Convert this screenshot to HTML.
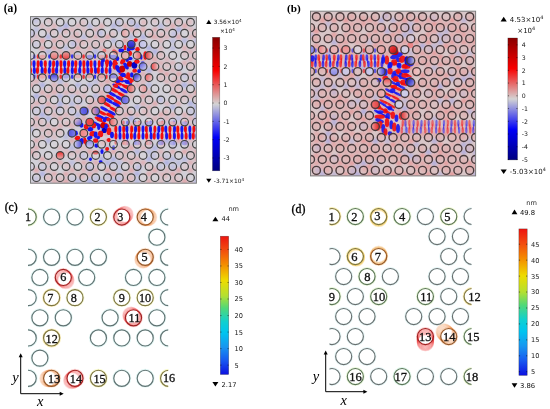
<!DOCTYPE html>
<html><head><meta charset="utf-8"><style>html,body{margin:0;padding:0;background:#fff;}svg{display:block;filter:blur(0.3px);}</style></head>
<body>
<svg width="550" height="409" viewBox="0 0 550 409">
<defs><filter id="blur1" x="-10%" y="-10%" width="120%" height="120%"><feGaussianBlur stdDeviation="0.6"/></filter><filter id="soft" x="-5%" y="-5%" width="110%" height="110%"><feGaussianBlur stdDeviation="0.45"/></filter><filter id="blur2" x="-5%" y="-5%" width="110%" height="110%"><feGaussianBlur stdDeviation="1.1"/></filter>
<linearGradient id="wave" x1="0" y1="0" x2="0" y2="1"><stop offset="0" stop-color="#880000"/><stop offset="0.25" stop-color="#f80000"/><stop offset="0.5" stop-color="#d4d4d4"/><stop offset="0.75" stop-color="#0000f8"/><stop offset="1" stop-color="#000080"/></linearGradient>
<linearGradient id="rainbow" x1="0" y1="0" x2="0" y2="1"><stop offset="0" stop-color="#ee1410"/><stop offset="0.1" stop-color="#f24c10"/><stop offset="0.2" stop-color="#f48a00"/><stop offset="0.32" stop-color="#eedc00"/><stop offset="0.43" stop-color="#b4e030"/><stop offset="0.52" stop-color="#50d878"/><stop offset="0.62" stop-color="#10d0d0"/><stop offset="0.7" stop-color="#00c4f0"/><stop offset="0.8" stop-color="#1896f0"/><stop offset="0.9" stop-color="#1858f0"/><stop offset="1" stop-color="#0c10e0"/></linearGradient>
</defs>
<rect width="550" height="409" fill="#ffffff"/>
<text x="3.7" y="11.9" font-family="'Liberation Serif', 'DejaVu Serif', serif" font-weight="bold" font-size="11.5">(a)</text>
<text x="287.0" y="11.9" font-family="'Liberation Serif', 'DejaVu Serif', serif" font-weight="bold" font-size="11.2">(b)</text>
<text x="4.7" y="211.2" font-family="'Liberation Serif', 'DejaVu Serif', serif" font-size="11.8" stroke="#000" stroke-width="0.3">(c)</text>
<text x="291.5" y="212.7" font-family="'Liberation Serif', 'DejaVu Serif', serif" font-size="11.9" stroke="#000" stroke-width="0.3">(d)</text>
<clipPath id="clipa"><rect x="30.5" y="16.6" width="165.9" height="166.6"/></clipPath>
<g clip-path="url(#clipa)"><g filter="url(#soft)">
<rect x="28.5" y="14.600000000000001" width="169.9" height="170.6" fill="#d2d0d8"/>
<g filter="url(#blur2)">
<ellipse cx="42.3" cy="25.9" rx="3.0" ry="2.7" fill="#f08080" fill-opacity="0.28"/>
<ellipse cx="36.4" cy="29.6" rx="3.0" ry="2.7" fill="#8088f0" fill-opacity="0.21"/>
<ellipse cx="36.0" cy="20.8" rx="3.0" ry="3.0" fill="#8088f0" fill-opacity="0.34"/>
<ellipse cx="54.2" cy="25.9" rx="3.0" ry="2.7" fill="#f08080" fill-opacity="0.34"/>
<ellipse cx="48.3" cy="29.6" rx="3.0" ry="2.7" fill="#f08080" fill-opacity="0.26"/>
<ellipse cx="49.3" cy="21.0" rx="3.0" ry="3.0" fill="#f08080" fill-opacity="0.30"/>
<ellipse cx="66.0" cy="25.9" rx="3.0" ry="2.7" fill="#8088f0" fill-opacity="0.39"/>
<ellipse cx="60.1" cy="29.6" rx="3.0" ry="2.7" fill="#8088f0" fill-opacity="0.28"/>
<ellipse cx="77.9" cy="25.9" rx="3.0" ry="2.7" fill="#f08080" fill-opacity="0.27"/>
<ellipse cx="72.0" cy="29.6" rx="3.0" ry="2.7" fill="#f08080" fill-opacity="0.31"/>
<ellipse cx="89.7" cy="25.9" rx="3.0" ry="2.7" fill="#8088f0" fill-opacity="0.27"/>
<ellipse cx="83.8" cy="29.6" rx="3.0" ry="2.7" fill="#f08080" fill-opacity="0.26"/>
<ellipse cx="82.9" cy="22.7" rx="3.0" ry="3.0" fill="#f08080" fill-opacity="0.36"/>
<ellipse cx="101.6" cy="25.9" rx="3.0" ry="2.7" fill="#f08080" fill-opacity="0.38"/>
<ellipse cx="95.7" cy="29.6" rx="3.0" ry="2.7" fill="#f08080" fill-opacity="0.31"/>
<ellipse cx="113.4" cy="25.9" rx="3.0" ry="2.7" fill="#8088f0" fill-opacity="0.31"/>
<ellipse cx="125.3" cy="25.9" rx="3.0" ry="2.7" fill="#f08080" fill-opacity="0.34"/>
<ellipse cx="119.4" cy="29.6" rx="3.0" ry="2.7" fill="#8088f0" fill-opacity="0.23"/>
<ellipse cx="118.0" cy="22.7" rx="3.0" ry="3.0" fill="#8088f0" fill-opacity="0.41"/>
<ellipse cx="137.2" cy="25.9" rx="3.0" ry="2.7" fill="#8088f0" fill-opacity="0.38"/>
<ellipse cx="131.2" cy="29.6" rx="3.0" ry="2.7" fill="#f08080" fill-opacity="0.41"/>
<ellipse cx="131.5" cy="22.0" rx="3.0" ry="3.0" fill="#8088f0" fill-opacity="0.44"/>
<ellipse cx="143.1" cy="29.6" rx="3.0" ry="2.7" fill="#f08080" fill-opacity="0.40"/>
<ellipse cx="143.7" cy="22.6" rx="3.0" ry="3.0" fill="#f08080" fill-opacity="0.52"/>
<ellipse cx="160.9" cy="25.9" rx="3.0" ry="2.7" fill="#8088f0" fill-opacity="0.26"/>
<ellipse cx="154.9" cy="29.6" rx="3.0" ry="2.7" fill="#f08080" fill-opacity="0.40"/>
<ellipse cx="154.8" cy="21.2" rx="3.0" ry="3.0" fill="#f08080" fill-opacity="0.27"/>
<ellipse cx="172.7" cy="25.9" rx="3.0" ry="2.7" fill="#f08080" fill-opacity="0.42"/>
<ellipse cx="166.8" cy="29.6" rx="3.0" ry="2.7" fill="#f08080" fill-opacity="0.30"/>
<ellipse cx="167.9" cy="20.9" rx="3.0" ry="3.0" fill="#f08080" fill-opacity="0.37"/>
<ellipse cx="184.6" cy="25.9" rx="3.0" ry="2.7" fill="#f08080" fill-opacity="0.45"/>
<ellipse cx="178.6" cy="29.6" rx="3.0" ry="2.7" fill="#8088f0" fill-opacity="0.37"/>
<ellipse cx="178.4" cy="21.7" rx="3.0" ry="3.0" fill="#f08080" fill-opacity="0.49"/>
<ellipse cx="190.5" cy="29.6" rx="3.0" ry="2.7" fill="#f08080" fill-opacity="0.28"/>
<ellipse cx="189.7" cy="22.1" rx="3.0" ry="3.0" fill="#f08080" fill-opacity="0.40"/>
<ellipse cx="36.4" cy="37.0" rx="3.0" ry="2.7" fill="#f08080" fill-opacity="0.24"/>
<ellipse cx="30.5" cy="40.7" rx="3.0" ry="2.7" fill="#f08080" fill-opacity="0.33"/>
<ellipse cx="31.9" cy="33.8" rx="3.0" ry="3.0" fill="#8088f0" fill-opacity="0.34"/>
<ellipse cx="48.3" cy="37.0" rx="3.0" ry="2.7" fill="#8088f0" fill-opacity="0.34"/>
<ellipse cx="42.4" cy="40.7" rx="3.0" ry="2.7" fill="#f08080" fill-opacity="0.46"/>
<ellipse cx="60.1" cy="37.0" rx="3.0" ry="2.7" fill="#f08080" fill-opacity="0.34"/>
<ellipse cx="54.2" cy="40.7" rx="3.0" ry="2.7" fill="#f08080" fill-opacity="0.39"/>
<ellipse cx="52.9" cy="32.4" rx="3.0" ry="3.0" fill="#f08080" fill-opacity="0.29"/>
<ellipse cx="72.0" cy="37.0" rx="3.0" ry="2.7" fill="#f08080" fill-opacity="0.25"/>
<ellipse cx="66.0" cy="40.7" rx="3.0" ry="2.7" fill="#f08080" fill-opacity="0.28"/>
<ellipse cx="65.6" cy="31.8" rx="3.0" ry="3.0" fill="#f08080" fill-opacity="0.48"/>
<ellipse cx="83.8" cy="37.0" rx="3.0" ry="2.7" fill="#8088f0" fill-opacity="0.23"/>
<ellipse cx="77.9" cy="40.7" rx="3.0" ry="2.7" fill="#f08080" fill-opacity="0.32"/>
<ellipse cx="76.8" cy="34.3" rx="3.0" ry="3.0" fill="#f08080" fill-opacity="0.52"/>
<ellipse cx="95.7" cy="37.0" rx="3.0" ry="2.7" fill="#f08080" fill-opacity="0.36"/>
<ellipse cx="89.8" cy="40.7" rx="3.0" ry="2.7" fill="#f08080" fill-opacity="0.26"/>
<ellipse cx="89.0" cy="34.2" rx="3.0" ry="3.0" fill="#f08080" fill-opacity="0.29"/>
<ellipse cx="107.5" cy="37.0" rx="3.0" ry="2.7" fill="#f08080" fill-opacity="0.47"/>
<ellipse cx="101.6" cy="40.7" rx="3.0" ry="2.7" fill="#f08080" fill-opacity="0.28"/>
<ellipse cx="100.2" cy="33.3" rx="3.0" ry="3.0" fill="#8088f0" fill-opacity="0.47"/>
<ellipse cx="113.5" cy="40.7" rx="3.0" ry="2.7" fill="#8088f0" fill-opacity="0.25"/>
<ellipse cx="112.5" cy="34.1" rx="3.0" ry="3.0" fill="#f08080" fill-opacity="0.39"/>
<ellipse cx="131.2" cy="37.0" rx="3.0" ry="2.7" fill="#8088f0" fill-opacity="0.27"/>
<ellipse cx="125.3" cy="40.7" rx="3.0" ry="2.7" fill="#f08080" fill-opacity="0.43"/>
<ellipse cx="143.1" cy="37.0" rx="3.0" ry="2.7" fill="#8088f0" fill-opacity="0.35"/>
<ellipse cx="137.1" cy="40.7" rx="3.0" ry="2.7" fill="#f08080" fill-opacity="0.36"/>
<ellipse cx="135.7" cy="31.8" rx="3.0" ry="3.0" fill="#f08080" fill-opacity="0.32"/>
<ellipse cx="154.9" cy="37.0" rx="3.0" ry="2.7" fill="#f08080" fill-opacity="0.41"/>
<ellipse cx="150.3" cy="34.7" rx="3.0" ry="3.0" fill="#f08080" fill-opacity="0.51"/>
<ellipse cx="166.8" cy="37.0" rx="3.0" ry="2.7" fill="#f08080" fill-opacity="0.29"/>
<ellipse cx="160.8" cy="40.7" rx="3.0" ry="2.7" fill="#f08080" fill-opacity="0.29"/>
<ellipse cx="161.2" cy="34.5" rx="3.0" ry="3.0" fill="#f08080" fill-opacity="0.48"/>
<ellipse cx="178.6" cy="37.0" rx="3.0" ry="2.7" fill="#f08080" fill-opacity="0.40"/>
<ellipse cx="172.7" cy="40.7" rx="3.0" ry="2.7" fill="#8088f0" fill-opacity="0.22"/>
<ellipse cx="173.9" cy="34.1" rx="3.0" ry="3.0" fill="#8088f0" fill-opacity="0.41"/>
<ellipse cx="190.5" cy="37.0" rx="3.0" ry="2.7" fill="#f08080" fill-opacity="0.28"/>
<ellipse cx="184.5" cy="40.7" rx="3.0" ry="2.7" fill="#8088f0" fill-opacity="0.27"/>
<ellipse cx="202.3" cy="37.0" rx="3.0" ry="2.7" fill="#f08080" fill-opacity="0.47"/>
<ellipse cx="196.4" cy="40.7" rx="3.0" ry="2.7" fill="#8088f0" fill-opacity="0.23"/>
<ellipse cx="195.4" cy="34.5" rx="3.0" ry="3.0" fill="#f08080" fill-opacity="0.47"/>
<ellipse cx="42.3" cy="48.1" rx="3.0" ry="2.7" fill="#f08080" fill-opacity="0.44"/>
<ellipse cx="36.0" cy="44.5" rx="3.0" ry="3.0" fill="#8088f0" fill-opacity="0.24"/>
<ellipse cx="54.2" cy="48.1" rx="3.0" ry="2.7" fill="#f08080" fill-opacity="0.47"/>
<ellipse cx="48.3" cy="51.8" rx="3.0" ry="2.7" fill="#8088f0" fill-opacity="0.31"/>
<ellipse cx="66.0" cy="48.1" rx="3.0" ry="2.7" fill="#8088f0" fill-opacity="0.24"/>
<ellipse cx="60.1" cy="51.8" rx="3.0" ry="2.7" fill="#f08080" fill-opacity="0.31"/>
<ellipse cx="60.4" cy="43.6" rx="3.0" ry="3.0" fill="#f08080" fill-opacity="0.36"/>
<ellipse cx="77.9" cy="48.1" rx="3.0" ry="2.7" fill="#f08080" fill-opacity="0.46"/>
<ellipse cx="72.0" cy="51.8" rx="3.0" ry="2.7" fill="#f08080" fill-opacity="0.35"/>
<ellipse cx="73.2" cy="44.1" rx="3.0" ry="3.0" fill="#8088f0" fill-opacity="0.46"/>
<ellipse cx="89.7" cy="48.1" rx="3.0" ry="2.7" fill="#f08080" fill-opacity="0.37"/>
<ellipse cx="83.8" cy="51.8" rx="3.0" ry="2.7" fill="#f08080" fill-opacity="0.24"/>
<ellipse cx="82.9" cy="42.9" rx="3.0" ry="3.0" fill="#f08080" fill-opacity="0.46"/>
<ellipse cx="101.6" cy="48.1" rx="3.0" ry="2.7" fill="#f08080" fill-opacity="0.35"/>
<ellipse cx="95.7" cy="51.8" rx="3.0" ry="2.7" fill="#8088f0" fill-opacity="0.31"/>
<ellipse cx="95.7" cy="44.5" rx="3.0" ry="3.0" fill="#f08080" fill-opacity="0.46"/>
<ellipse cx="113.4" cy="48.1" rx="3.0" ry="2.7" fill="#f08080" fill-opacity="0.37"/>
<ellipse cx="107.5" cy="51.8" rx="3.0" ry="2.7" fill="#f08080" fill-opacity="0.31"/>
<ellipse cx="125.3" cy="48.1" rx="3.0" ry="2.7" fill="#8088f0" fill-opacity="0.38"/>
<ellipse cx="119.4" cy="51.8" rx="3.0" ry="2.7" fill="#f08080" fill-opacity="0.39"/>
<ellipse cx="119.4" cy="44.9" rx="3.0" ry="3.0" fill="#8088f0" fill-opacity="0.33"/>
<ellipse cx="137.2" cy="48.1" rx="3.0" ry="2.7" fill="#f08080" fill-opacity="0.35"/>
<ellipse cx="132.4" cy="45.7" rx="3.0" ry="3.0" fill="#8088f0" fill-opacity="0.27"/>
<ellipse cx="149.0" cy="48.1" rx="3.0" ry="2.7" fill="#8088f0" fill-opacity="0.39"/>
<ellipse cx="141.9" cy="44.2" rx="3.0" ry="3.0" fill="#f08080" fill-opacity="0.26"/>
<ellipse cx="160.9" cy="48.1" rx="3.0" ry="2.7" fill="#f08080" fill-opacity="0.26"/>
<ellipse cx="154.9" cy="51.8" rx="3.0" ry="2.7" fill="#8088f0" fill-opacity="0.36"/>
<ellipse cx="172.7" cy="48.1" rx="3.0" ry="2.7" fill="#8088f0" fill-opacity="0.23"/>
<ellipse cx="184.6" cy="48.1" rx="3.0" ry="2.7" fill="#f08080" fill-opacity="0.36"/>
<ellipse cx="196.4" cy="48.1" rx="3.0" ry="2.7" fill="#f08080" fill-opacity="0.32"/>
<ellipse cx="190.5" cy="51.8" rx="3.0" ry="2.7" fill="#f08080" fill-opacity="0.32"/>
<ellipse cx="36.4" cy="59.2" rx="3.0" ry="2.7" fill="#f08080" fill-opacity="0.24"/>
<ellipse cx="30.5" cy="62.9" rx="3.0" ry="2.7" fill="#f08080" fill-opacity="0.39"/>
<ellipse cx="29.2" cy="56.9" rx="3.0" ry="3.0" fill="#8088f0" fill-opacity="0.42"/>
<ellipse cx="42.4" cy="62.9" rx="3.0" ry="2.7" fill="#f08080" fill-opacity="0.30"/>
<ellipse cx="43.2" cy="54.8" rx="3.0" ry="3.0" fill="#f08080" fill-opacity="0.28"/>
<ellipse cx="60.1" cy="59.2" rx="3.0" ry="2.7" fill="#f08080" fill-opacity="0.46"/>
<ellipse cx="54.2" cy="62.9" rx="3.0" ry="2.7" fill="#8088f0" fill-opacity="0.25"/>
<ellipse cx="55.5" cy="55.7" rx="3.0" ry="3.0" fill="#f08080" fill-opacity="0.44"/>
<ellipse cx="72.0" cy="59.2" rx="3.0" ry="2.7" fill="#f08080" fill-opacity="0.25"/>
<ellipse cx="66.0" cy="62.9" rx="3.0" ry="2.7" fill="#8088f0" fill-opacity="0.29"/>
<ellipse cx="67.4" cy="55.9" rx="3.0" ry="3.0" fill="#f08080" fill-opacity="0.46"/>
<ellipse cx="83.8" cy="59.2" rx="3.0" ry="2.7" fill="#f08080" fill-opacity="0.45"/>
<ellipse cx="77.9" cy="62.9" rx="3.0" ry="2.7" fill="#f08080" fill-opacity="0.45"/>
<ellipse cx="77.4" cy="55.6" rx="3.0" ry="3.0" fill="#8088f0" fill-opacity="0.46"/>
<ellipse cx="95.7" cy="59.2" rx="3.0" ry="2.7" fill="#f08080" fill-opacity="0.27"/>
<ellipse cx="89.8" cy="62.9" rx="3.0" ry="2.7" fill="#f08080" fill-opacity="0.30"/>
<ellipse cx="88.7" cy="54.1" rx="3.0" ry="3.0" fill="#f08080" fill-opacity="0.30"/>
<ellipse cx="107.5" cy="59.2" rx="3.0" ry="2.7" fill="#f08080" fill-opacity="0.31"/>
<ellipse cx="101.6" cy="62.9" rx="3.0" ry="2.7" fill="#8088f0" fill-opacity="0.26"/>
<ellipse cx="100.6" cy="55.0" rx="3.0" ry="3.0" fill="#8088f0" fill-opacity="0.21"/>
<ellipse cx="119.4" cy="59.2" rx="3.0" ry="2.7" fill="#f08080" fill-opacity="0.24"/>
<ellipse cx="113.5" cy="62.9" rx="3.0" ry="2.7" fill="#8088f0" fill-opacity="0.31"/>
<ellipse cx="113.4" cy="56.8" rx="3.0" ry="3.0" fill="#f08080" fill-opacity="0.27"/>
<ellipse cx="131.2" cy="59.2" rx="3.0" ry="2.7" fill="#8088f0" fill-opacity="0.29"/>
<ellipse cx="125.3" cy="62.9" rx="3.0" ry="2.7" fill="#f08080" fill-opacity="0.44"/>
<ellipse cx="125.3" cy="56.0" rx="3.0" ry="3.0" fill="#f08080" fill-opacity="0.52"/>
<ellipse cx="143.1" cy="59.2" rx="3.0" ry="2.7" fill="#f08080" fill-opacity="0.44"/>
<ellipse cx="137.1" cy="62.9" rx="3.0" ry="2.7" fill="#8088f0" fill-opacity="0.33"/>
<ellipse cx="136.7" cy="54.1" rx="3.0" ry="3.0" fill="#f08080" fill-opacity="0.28"/>
<ellipse cx="154.9" cy="59.2" rx="3.0" ry="2.7" fill="#f08080" fill-opacity="0.42"/>
<ellipse cx="149.0" cy="62.9" rx="3.0" ry="2.7" fill="#f08080" fill-opacity="0.28"/>
<ellipse cx="150.0" cy="56.6" rx="3.0" ry="3.0" fill="#f08080" fill-opacity="0.43"/>
<ellipse cx="166.8" cy="59.2" rx="3.0" ry="2.7" fill="#f08080" fill-opacity="0.30"/>
<ellipse cx="160.8" cy="62.9" rx="3.0" ry="2.7" fill="#f08080" fill-opacity="0.35"/>
<ellipse cx="160.7" cy="54.8" rx="3.0" ry="3.0" fill="#f08080" fill-opacity="0.51"/>
<ellipse cx="172.7" cy="62.9" rx="3.0" ry="2.7" fill="#f08080" fill-opacity="0.30"/>
<ellipse cx="190.5" cy="59.2" rx="3.0" ry="2.7" fill="#f08080" fill-opacity="0.33"/>
<ellipse cx="184.5" cy="62.9" rx="3.0" ry="2.7" fill="#f08080" fill-opacity="0.36"/>
<ellipse cx="184.6" cy="54.0" rx="3.0" ry="3.0" fill="#f08080" fill-opacity="0.31"/>
<ellipse cx="202.3" cy="59.2" rx="3.0" ry="2.7" fill="#f08080" fill-opacity="0.34"/>
<ellipse cx="196.4" cy="62.9" rx="3.0" ry="2.7" fill="#f08080" fill-opacity="0.25"/>
<ellipse cx="195.6" cy="55.7" rx="3.0" ry="3.0" fill="#f08080" fill-opacity="0.39"/>
<ellipse cx="42.3" cy="70.3" rx="3.0" ry="2.7" fill="#8088f0" fill-opacity="0.33"/>
<ellipse cx="36.4" cy="74.0" rx="3.0" ry="2.7" fill="#8088f0" fill-opacity="0.38"/>
<ellipse cx="35.9" cy="68.0" rx="3.0" ry="3.0" fill="#f08080" fill-opacity="0.28"/>
<ellipse cx="54.2" cy="70.3" rx="3.0" ry="2.7" fill="#8088f0" fill-opacity="0.33"/>
<ellipse cx="48.3" cy="74.0" rx="3.0" ry="2.7" fill="#f08080" fill-opacity="0.44"/>
<ellipse cx="66.0" cy="70.3" rx="3.0" ry="2.7" fill="#8088f0" fill-opacity="0.23"/>
<ellipse cx="60.1" cy="74.0" rx="3.0" ry="2.7" fill="#f08080" fill-opacity="0.36"/>
<ellipse cx="77.9" cy="70.3" rx="3.0" ry="2.7" fill="#8088f0" fill-opacity="0.38"/>
<ellipse cx="72.0" cy="74.0" rx="3.0" ry="2.7" fill="#8088f0" fill-opacity="0.34"/>
<ellipse cx="70.6" cy="65.5" rx="3.0" ry="3.0" fill="#f08080" fill-opacity="0.34"/>
<ellipse cx="89.7" cy="70.3" rx="3.0" ry="2.7" fill="#f08080" fill-opacity="0.44"/>
<ellipse cx="83.8" cy="74.0" rx="3.0" ry="2.7" fill="#8088f0" fill-opacity="0.33"/>
<ellipse cx="84.4" cy="66.5" rx="3.0" ry="3.0" fill="#8088f0" fill-opacity="0.20"/>
<ellipse cx="101.6" cy="70.3" rx="3.0" ry="2.7" fill="#8088f0" fill-opacity="0.35"/>
<ellipse cx="95.7" cy="74.0" rx="3.0" ry="2.7" fill="#f08080" fill-opacity="0.37"/>
<ellipse cx="94.4" cy="67.3" rx="3.0" ry="3.0" fill="#8088f0" fill-opacity="0.27"/>
<ellipse cx="113.4" cy="70.3" rx="3.0" ry="2.7" fill="#f08080" fill-opacity="0.30"/>
<ellipse cx="107.5" cy="74.0" rx="3.0" ry="2.7" fill="#8088f0" fill-opacity="0.24"/>
<ellipse cx="125.3" cy="70.3" rx="3.0" ry="2.7" fill="#f08080" fill-opacity="0.35"/>
<ellipse cx="119.4" cy="74.0" rx="3.0" ry="2.7" fill="#8088f0" fill-opacity="0.35"/>
<ellipse cx="119.8" cy="65.3" rx="3.0" ry="3.0" fill="#8088f0" fill-opacity="0.24"/>
<ellipse cx="137.2" cy="70.3" rx="3.0" ry="2.7" fill="#f08080" fill-opacity="0.42"/>
<ellipse cx="131.2" cy="74.0" rx="3.0" ry="2.7" fill="#f08080" fill-opacity="0.38"/>
<ellipse cx="129.9" cy="65.9" rx="3.0" ry="3.0" fill="#f08080" fill-opacity="0.43"/>
<ellipse cx="149.0" cy="70.3" rx="3.0" ry="2.7" fill="#8088f0" fill-opacity="0.34"/>
<ellipse cx="143.1" cy="74.0" rx="3.0" ry="2.7" fill="#f08080" fill-opacity="0.36"/>
<ellipse cx="143.0" cy="65.4" rx="3.0" ry="3.0" fill="#8088f0" fill-opacity="0.45"/>
<ellipse cx="160.9" cy="70.3" rx="3.0" ry="2.7" fill="#f08080" fill-opacity="0.47"/>
<ellipse cx="154.8" cy="67.5" rx="3.0" ry="3.0" fill="#f08080" fill-opacity="0.51"/>
<ellipse cx="172.7" cy="70.3" rx="3.0" ry="2.7" fill="#f08080" fill-opacity="0.30"/>
<ellipse cx="166.8" cy="74.0" rx="3.0" ry="2.7" fill="#f08080" fill-opacity="0.47"/>
<ellipse cx="167.0" cy="65.5" rx="3.0" ry="3.0" fill="#f08080" fill-opacity="0.39"/>
<ellipse cx="178.6" cy="74.0" rx="3.0" ry="2.7" fill="#f08080" fill-opacity="0.44"/>
<ellipse cx="179.8" cy="67.2" rx="3.0" ry="3.0" fill="#8088f0" fill-opacity="0.26"/>
<ellipse cx="190.5" cy="74.0" rx="3.0" ry="2.7" fill="#f08080" fill-opacity="0.25"/>
<ellipse cx="190.5" cy="66.4" rx="3.0" ry="3.0" fill="#f08080" fill-opacity="0.32"/>
<ellipse cx="36.4" cy="81.4" rx="3.0" ry="2.7" fill="#f08080" fill-opacity="0.32"/>
<ellipse cx="30.5" cy="85.1" rx="3.0" ry="2.7" fill="#f08080" fill-opacity="0.44"/>
<ellipse cx="31.3" cy="78.7" rx="3.0" ry="3.0" fill="#f08080" fill-opacity="0.27"/>
<ellipse cx="42.4" cy="85.1" rx="3.0" ry="2.7" fill="#8088f0" fill-opacity="0.38"/>
<ellipse cx="42.0" cy="77.4" rx="3.0" ry="3.0" fill="#f08080" fill-opacity="0.52"/>
<ellipse cx="60.1" cy="81.4" rx="3.0" ry="2.7" fill="#8088f0" fill-opacity="0.27"/>
<ellipse cx="54.2" cy="85.1" rx="3.0" ry="2.7" fill="#f08080" fill-opacity="0.31"/>
<ellipse cx="53.0" cy="78.7" rx="3.0" ry="3.0" fill="#f08080" fill-opacity="0.32"/>
<ellipse cx="66.0" cy="85.1" rx="3.0" ry="2.7" fill="#f08080" fill-opacity="0.30"/>
<ellipse cx="65.1" cy="77.3" rx="3.0" ry="3.0" fill="#8088f0" fill-opacity="0.47"/>
<ellipse cx="77.9" cy="85.1" rx="3.0" ry="2.7" fill="#8088f0" fill-opacity="0.33"/>
<ellipse cx="95.7" cy="81.4" rx="3.0" ry="2.7" fill="#8088f0" fill-opacity="0.21"/>
<ellipse cx="89.8" cy="85.1" rx="3.0" ry="2.7" fill="#8088f0" fill-opacity="0.29"/>
<ellipse cx="107.5" cy="81.4" rx="3.0" ry="2.7" fill="#f08080" fill-opacity="0.46"/>
<ellipse cx="101.6" cy="85.1" rx="3.0" ry="2.7" fill="#f08080" fill-opacity="0.35"/>
<ellipse cx="101.0" cy="78.4" rx="3.0" ry="3.0" fill="#f08080" fill-opacity="0.51"/>
<ellipse cx="119.4" cy="81.4" rx="3.0" ry="2.7" fill="#f08080" fill-opacity="0.40"/>
<ellipse cx="113.5" cy="85.1" rx="3.0" ry="2.7" fill="#f08080" fill-opacity="0.37"/>
<ellipse cx="112.5" cy="76.7" rx="3.0" ry="3.0" fill="#f08080" fill-opacity="0.30"/>
<ellipse cx="125.3" cy="85.1" rx="3.0" ry="2.7" fill="#f08080" fill-opacity="0.29"/>
<ellipse cx="143.1" cy="81.4" rx="3.0" ry="2.7" fill="#f08080" fill-opacity="0.29"/>
<ellipse cx="137.1" cy="85.1" rx="3.0" ry="2.7" fill="#f08080" fill-opacity="0.32"/>
<ellipse cx="136.4" cy="77.0" rx="3.0" ry="3.0" fill="#f08080" fill-opacity="0.40"/>
<ellipse cx="149.0" cy="85.1" rx="3.0" ry="2.7" fill="#8088f0" fill-opacity="0.28"/>
<ellipse cx="149.1" cy="77.3" rx="3.0" ry="3.0" fill="#f08080" fill-opacity="0.33"/>
<ellipse cx="166.8" cy="81.4" rx="3.0" ry="2.7" fill="#f08080" fill-opacity="0.31"/>
<ellipse cx="160.9" cy="78.1" rx="3.0" ry="3.0" fill="#f08080" fill-opacity="0.48"/>
<ellipse cx="178.6" cy="81.4" rx="3.0" ry="2.7" fill="#f08080" fill-opacity="0.31"/>
<ellipse cx="172.7" cy="85.1" rx="3.0" ry="2.7" fill="#f08080" fill-opacity="0.34"/>
<ellipse cx="174.1" cy="78.7" rx="3.0" ry="3.0" fill="#f08080" fill-opacity="0.48"/>
<ellipse cx="190.5" cy="81.4" rx="3.0" ry="2.7" fill="#f08080" fill-opacity="0.25"/>
<ellipse cx="184.5" cy="85.1" rx="3.0" ry="2.7" fill="#8088f0" fill-opacity="0.38"/>
<ellipse cx="184.8" cy="76.2" rx="3.0" ry="3.0" fill="#8088f0" fill-opacity="0.31"/>
<ellipse cx="196.4" cy="85.1" rx="3.0" ry="2.7" fill="#8088f0" fill-opacity="0.37"/>
<ellipse cx="42.3" cy="92.5" rx="3.0" ry="2.7" fill="#f08080" fill-opacity="0.37"/>
<ellipse cx="36.4" cy="96.2" rx="3.0" ry="2.7" fill="#8088f0" fill-opacity="0.39"/>
<ellipse cx="54.2" cy="92.5" rx="3.0" ry="2.7" fill="#f08080" fill-opacity="0.37"/>
<ellipse cx="48.3" cy="96.2" rx="3.0" ry="2.7" fill="#f08080" fill-opacity="0.43"/>
<ellipse cx="49.5" cy="89.2" rx="3.0" ry="3.0" fill="#f08080" fill-opacity="0.33"/>
<ellipse cx="66.0" cy="92.5" rx="3.0" ry="2.7" fill="#f08080" fill-opacity="0.30"/>
<ellipse cx="60.1" cy="96.2" rx="3.0" ry="2.7" fill="#8088f0" fill-opacity="0.34"/>
<ellipse cx="58.8" cy="88.9" rx="3.0" ry="3.0" fill="#f08080" fill-opacity="0.40"/>
<ellipse cx="77.9" cy="92.5" rx="3.0" ry="2.7" fill="#f08080" fill-opacity="0.29"/>
<ellipse cx="72.0" cy="96.2" rx="3.0" ry="2.7" fill="#8088f0" fill-opacity="0.20"/>
<ellipse cx="71.9" cy="90.2" rx="3.0" ry="3.0" fill="#f08080" fill-opacity="0.42"/>
<ellipse cx="83.8" cy="96.2" rx="3.0" ry="2.7" fill="#f08080" fill-opacity="0.30"/>
<ellipse cx="85.2" cy="89.4" rx="3.0" ry="3.0" fill="#f08080" fill-opacity="0.33"/>
<ellipse cx="101.6" cy="92.5" rx="3.0" ry="2.7" fill="#f08080" fill-opacity="0.36"/>
<ellipse cx="95.7" cy="96.2" rx="3.0" ry="2.7" fill="#8088f0" fill-opacity="0.28"/>
<ellipse cx="96.2" cy="90.1" rx="3.0" ry="3.0" fill="#f08080" fill-opacity="0.30"/>
<ellipse cx="113.4" cy="92.5" rx="3.0" ry="2.7" fill="#f08080" fill-opacity="0.32"/>
<ellipse cx="107.5" cy="96.2" rx="3.0" ry="2.7" fill="#f08080" fill-opacity="0.40"/>
<ellipse cx="108.4" cy="89.5" rx="3.0" ry="3.0" fill="#f08080" fill-opacity="0.38"/>
<ellipse cx="125.3" cy="92.5" rx="3.0" ry="2.7" fill="#f08080" fill-opacity="0.47"/>
<ellipse cx="119.4" cy="96.2" rx="3.0" ry="2.7" fill="#f08080" fill-opacity="0.44"/>
<ellipse cx="118.5" cy="89.6" rx="3.0" ry="3.0" fill="#f08080" fill-opacity="0.32"/>
<ellipse cx="131.2" cy="96.2" rx="3.0" ry="2.7" fill="#f08080" fill-opacity="0.28"/>
<ellipse cx="131.0" cy="89.3" rx="3.0" ry="3.0" fill="#f08080" fill-opacity="0.51"/>
<ellipse cx="149.0" cy="92.5" rx="3.0" ry="2.7" fill="#f08080" fill-opacity="0.33"/>
<ellipse cx="143.1" cy="96.2" rx="3.0" ry="2.7" fill="#f08080" fill-opacity="0.47"/>
<ellipse cx="141.7" cy="87.5" rx="3.0" ry="3.0" fill="#f08080" fill-opacity="0.35"/>
<ellipse cx="172.7" cy="92.5" rx="3.0" ry="2.7" fill="#f08080" fill-opacity="0.28"/>
<ellipse cx="184.6" cy="92.5" rx="3.0" ry="2.7" fill="#f08080" fill-opacity="0.33"/>
<ellipse cx="178.6" cy="96.2" rx="3.0" ry="2.7" fill="#f08080" fill-opacity="0.28"/>
<ellipse cx="178.0" cy="88.3" rx="3.0" ry="3.0" fill="#f08080" fill-opacity="0.51"/>
<ellipse cx="196.4" cy="92.5" rx="3.0" ry="2.7" fill="#f08080" fill-opacity="0.47"/>
<ellipse cx="190.5" cy="96.2" rx="3.0" ry="2.7" fill="#f08080" fill-opacity="0.33"/>
<ellipse cx="36.4" cy="103.6" rx="3.0" ry="2.7" fill="#f08080" fill-opacity="0.35"/>
<ellipse cx="30.5" cy="107.3" rx="3.0" ry="2.7" fill="#f08080" fill-opacity="0.46"/>
<ellipse cx="30.1" cy="101.1" rx="3.0" ry="3.0" fill="#f08080" fill-opacity="0.25"/>
<ellipse cx="48.3" cy="103.6" rx="3.0" ry="2.7" fill="#f08080" fill-opacity="0.43"/>
<ellipse cx="42.4" cy="107.3" rx="3.0" ry="2.7" fill="#8088f0" fill-opacity="0.21"/>
<ellipse cx="41.0" cy="101.2" rx="3.0" ry="3.0" fill="#f08080" fill-opacity="0.31"/>
<ellipse cx="60.1" cy="103.6" rx="3.0" ry="2.7" fill="#8088f0" fill-opacity="0.38"/>
<ellipse cx="54.2" cy="107.3" rx="3.0" ry="2.7" fill="#f08080" fill-opacity="0.31"/>
<ellipse cx="72.0" cy="103.6" rx="3.0" ry="2.7" fill="#8088f0" fill-opacity="0.26"/>
<ellipse cx="66.0" cy="107.3" rx="3.0" ry="2.7" fill="#f08080" fill-opacity="0.24"/>
<ellipse cx="77.9" cy="107.3" rx="3.0" ry="2.7" fill="#f08080" fill-opacity="0.30"/>
<ellipse cx="79.3" cy="101.3" rx="3.0" ry="3.0" fill="#8088f0" fill-opacity="0.31"/>
<ellipse cx="95.7" cy="103.6" rx="3.0" ry="2.7" fill="#f08080" fill-opacity="0.34"/>
<ellipse cx="89.8" cy="107.3" rx="3.0" ry="2.7" fill="#f08080" fill-opacity="0.46"/>
<ellipse cx="90.7" cy="100.6" rx="3.0" ry="3.0" fill="#f08080" fill-opacity="0.47"/>
<ellipse cx="107.5" cy="103.6" rx="3.0" ry="2.7" fill="#8088f0" fill-opacity="0.32"/>
<ellipse cx="101.6" cy="107.3" rx="3.0" ry="2.7" fill="#f08080" fill-opacity="0.32"/>
<ellipse cx="102.4" cy="98.6" rx="3.0" ry="3.0" fill="#f08080" fill-opacity="0.30"/>
<ellipse cx="119.4" cy="103.6" rx="3.0" ry="2.7" fill="#8088f0" fill-opacity="0.25"/>
<ellipse cx="113.5" cy="107.3" rx="3.0" ry="2.7" fill="#f08080" fill-opacity="0.25"/>
<ellipse cx="112.9" cy="101.3" rx="3.0" ry="3.0" fill="#8088f0" fill-opacity="0.45"/>
<ellipse cx="125.3" cy="107.3" rx="3.0" ry="2.7" fill="#f08080" fill-opacity="0.26"/>
<ellipse cx="125.3" cy="100.5" rx="3.0" ry="3.0" fill="#f08080" fill-opacity="0.37"/>
<ellipse cx="143.1" cy="103.6" rx="3.0" ry="2.7" fill="#f08080" fill-opacity="0.34"/>
<ellipse cx="137.1" cy="107.3" rx="3.0" ry="2.7" fill="#8088f0" fill-opacity="0.33"/>
<ellipse cx="154.9" cy="103.6" rx="3.0" ry="2.7" fill="#f08080" fill-opacity="0.44"/>
<ellipse cx="149.0" cy="107.3" rx="3.0" ry="2.7" fill="#f08080" fill-opacity="0.38"/>
<ellipse cx="149.7" cy="99.0" rx="3.0" ry="3.0" fill="#f08080" fill-opacity="0.31"/>
<ellipse cx="166.8" cy="103.6" rx="3.0" ry="2.7" fill="#f08080" fill-opacity="0.28"/>
<ellipse cx="160.3" cy="99.6" rx="3.0" ry="3.0" fill="#8088f0" fill-opacity="0.48"/>
<ellipse cx="178.6" cy="103.6" rx="3.0" ry="2.7" fill="#f08080" fill-opacity="0.30"/>
<ellipse cx="172.7" cy="107.3" rx="3.0" ry="2.7" fill="#8088f0" fill-opacity="0.33"/>
<ellipse cx="190.5" cy="103.6" rx="3.0" ry="2.7" fill="#8088f0" fill-opacity="0.37"/>
<ellipse cx="183.9" cy="98.8" rx="3.0" ry="3.0" fill="#f08080" fill-opacity="0.29"/>
<ellipse cx="196.4" cy="107.3" rx="3.0" ry="2.7" fill="#8088f0" fill-opacity="0.39"/>
<ellipse cx="197.5" cy="99.7" rx="3.0" ry="3.0" fill="#f08080" fill-opacity="0.31"/>
<ellipse cx="42.3" cy="114.7" rx="3.0" ry="2.7" fill="#8088f0" fill-opacity="0.39"/>
<ellipse cx="36.4" cy="118.4" rx="3.0" ry="2.7" fill="#f08080" fill-opacity="0.38"/>
<ellipse cx="35.6" cy="110.6" rx="3.0" ry="3.0" fill="#8088f0" fill-opacity="0.24"/>
<ellipse cx="54.2" cy="114.7" rx="3.0" ry="2.7" fill="#f08080" fill-opacity="0.30"/>
<ellipse cx="48.3" cy="118.4" rx="3.0" ry="2.7" fill="#8088f0" fill-opacity="0.33"/>
<ellipse cx="46.8" cy="110.5" rx="3.0" ry="3.0" fill="#f08080" fill-opacity="0.43"/>
<ellipse cx="66.0" cy="114.7" rx="3.0" ry="2.7" fill="#f08080" fill-opacity="0.31"/>
<ellipse cx="60.1" cy="118.4" rx="3.0" ry="2.7" fill="#f08080" fill-opacity="0.43"/>
<ellipse cx="58.8" cy="109.8" rx="3.0" ry="3.0" fill="#8088f0" fill-opacity="0.31"/>
<ellipse cx="77.9" cy="114.7" rx="3.0" ry="2.7" fill="#8088f0" fill-opacity="0.33"/>
<ellipse cx="72.0" cy="118.4" rx="3.0" ry="2.7" fill="#f08080" fill-opacity="0.28"/>
<ellipse cx="71.7" cy="110.4" rx="3.0" ry="3.0" fill="#8088f0" fill-opacity="0.29"/>
<ellipse cx="83.8" cy="118.4" rx="3.0" ry="2.7" fill="#f08080" fill-opacity="0.38"/>
<ellipse cx="83.6" cy="112.1" rx="3.0" ry="3.0" fill="#f08080" fill-opacity="0.52"/>
<ellipse cx="101.6" cy="114.7" rx="3.0" ry="2.7" fill="#f08080" fill-opacity="0.29"/>
<ellipse cx="95.7" cy="118.4" rx="3.0" ry="2.7" fill="#8088f0" fill-opacity="0.24"/>
<ellipse cx="96.9" cy="110.8" rx="3.0" ry="3.0" fill="#f08080" fill-opacity="0.47"/>
<ellipse cx="113.4" cy="114.7" rx="3.0" ry="2.7" fill="#f08080" fill-opacity="0.45"/>
<ellipse cx="107.5" cy="118.4" rx="3.0" ry="2.7" fill="#f08080" fill-opacity="0.28"/>
<ellipse cx="107.7" cy="111.4" rx="3.0" ry="3.0" fill="#f08080" fill-opacity="0.49"/>
<ellipse cx="125.3" cy="114.7" rx="3.0" ry="2.7" fill="#f08080" fill-opacity="0.39"/>
<ellipse cx="119.4" cy="118.4" rx="3.0" ry="2.7" fill="#f08080" fill-opacity="0.36"/>
<ellipse cx="118.7" cy="111.1" rx="3.0" ry="3.0" fill="#f08080" fill-opacity="0.50"/>
<ellipse cx="137.2" cy="114.7" rx="3.0" ry="2.7" fill="#f08080" fill-opacity="0.36"/>
<ellipse cx="131.2" cy="118.4" rx="3.0" ry="2.7" fill="#8088f0" fill-opacity="0.39"/>
<ellipse cx="130.1" cy="112.3" rx="3.0" ry="3.0" fill="#f08080" fill-opacity="0.51"/>
<ellipse cx="149.0" cy="114.7" rx="3.0" ry="2.7" fill="#f08080" fill-opacity="0.25"/>
<ellipse cx="144.3" cy="111.4" rx="3.0" ry="3.0" fill="#f08080" fill-opacity="0.47"/>
<ellipse cx="160.9" cy="114.7" rx="3.0" ry="2.7" fill="#f08080" fill-opacity="0.43"/>
<ellipse cx="154.9" cy="118.4" rx="3.0" ry="2.7" fill="#f08080" fill-opacity="0.34"/>
<ellipse cx="172.7" cy="114.7" rx="3.0" ry="2.7" fill="#f08080" fill-opacity="0.34"/>
<ellipse cx="166.8" cy="118.4" rx="3.0" ry="2.7" fill="#f08080" fill-opacity="0.33"/>
<ellipse cx="166.0" cy="111.7" rx="3.0" ry="3.0" fill="#f08080" fill-opacity="0.49"/>
<ellipse cx="184.6" cy="114.7" rx="3.0" ry="2.7" fill="#f08080" fill-opacity="0.37"/>
<ellipse cx="178.6" cy="118.4" rx="3.0" ry="2.7" fill="#8088f0" fill-opacity="0.21"/>
<ellipse cx="196.4" cy="114.7" rx="3.0" ry="2.7" fill="#8088f0" fill-opacity="0.33"/>
<ellipse cx="190.5" cy="118.4" rx="3.0" ry="2.7" fill="#f08080" fill-opacity="0.34"/>
<ellipse cx="190.3" cy="111.5" rx="3.0" ry="3.0" fill="#8088f0" fill-opacity="0.33"/>
<ellipse cx="36.4" cy="125.8" rx="3.0" ry="2.7" fill="#f08080" fill-opacity="0.25"/>
<ellipse cx="30.5" cy="129.5" rx="3.0" ry="2.7" fill="#8088f0" fill-opacity="0.30"/>
<ellipse cx="31.3" cy="123.0" rx="3.0" ry="3.0" fill="#f08080" fill-opacity="0.37"/>
<ellipse cx="48.3" cy="125.8" rx="3.0" ry="2.7" fill="#f08080" fill-opacity="0.35"/>
<ellipse cx="42.4" cy="129.5" rx="3.0" ry="2.7" fill="#f08080" fill-opacity="0.27"/>
<ellipse cx="41.1" cy="121.9" rx="3.0" ry="3.0" fill="#f08080" fill-opacity="0.38"/>
<ellipse cx="60.1" cy="125.8" rx="3.0" ry="2.7" fill="#f08080" fill-opacity="0.39"/>
<ellipse cx="54.2" cy="129.5" rx="3.0" ry="2.7" fill="#f08080" fill-opacity="0.42"/>
<ellipse cx="72.0" cy="125.8" rx="3.0" ry="2.7" fill="#f08080" fill-opacity="0.33"/>
<ellipse cx="67.1" cy="123.6" rx="3.0" ry="3.0" fill="#f08080" fill-opacity="0.44"/>
<ellipse cx="83.8" cy="125.8" rx="3.0" ry="2.7" fill="#8088f0" fill-opacity="0.24"/>
<ellipse cx="79.3" cy="123.4" rx="3.0" ry="3.0" fill="#8088f0" fill-opacity="0.25"/>
<ellipse cx="95.7" cy="125.8" rx="3.0" ry="2.7" fill="#8088f0" fill-opacity="0.39"/>
<ellipse cx="89.8" cy="129.5" rx="3.0" ry="2.7" fill="#f08080" fill-opacity="0.32"/>
<ellipse cx="107.5" cy="125.8" rx="3.0" ry="2.7" fill="#f08080" fill-opacity="0.44"/>
<ellipse cx="101.6" cy="129.5" rx="3.0" ry="2.7" fill="#f08080" fill-opacity="0.36"/>
<ellipse cx="119.4" cy="125.8" rx="3.0" ry="2.7" fill="#f08080" fill-opacity="0.32"/>
<ellipse cx="113.5" cy="129.5" rx="3.0" ry="2.7" fill="#f08080" fill-opacity="0.28"/>
<ellipse cx="114.8" cy="122.7" rx="3.0" ry="3.0" fill="#f08080" fill-opacity="0.49"/>
<ellipse cx="131.2" cy="125.8" rx="3.0" ry="2.7" fill="#f08080" fill-opacity="0.43"/>
<ellipse cx="125.3" cy="129.5" rx="3.0" ry="2.7" fill="#f08080" fill-opacity="0.37"/>
<ellipse cx="124.9" cy="123.2" rx="3.0" ry="3.0" fill="#8088f0" fill-opacity="0.36"/>
<ellipse cx="143.1" cy="125.8" rx="3.0" ry="2.7" fill="#8088f0" fill-opacity="0.38"/>
<ellipse cx="137.1" cy="129.5" rx="3.0" ry="2.7" fill="#f08080" fill-opacity="0.48"/>
<ellipse cx="136.8" cy="123.0" rx="3.0" ry="3.0" fill="#8088f0" fill-opacity="0.27"/>
<ellipse cx="149.0" cy="129.5" rx="3.0" ry="2.7" fill="#8088f0" fill-opacity="0.27"/>
<ellipse cx="166.8" cy="125.8" rx="3.0" ry="2.7" fill="#8088f0" fill-opacity="0.21"/>
<ellipse cx="160.8" cy="129.5" rx="3.0" ry="2.7" fill="#8088f0" fill-opacity="0.25"/>
<ellipse cx="162.3" cy="122.4" rx="3.0" ry="3.0" fill="#8088f0" fill-opacity="0.39"/>
<ellipse cx="178.6" cy="125.8" rx="3.0" ry="2.7" fill="#f08080" fill-opacity="0.24"/>
<ellipse cx="172.7" cy="129.5" rx="3.0" ry="2.7" fill="#f08080" fill-opacity="0.28"/>
<ellipse cx="172.5" cy="122.2" rx="3.0" ry="3.0" fill="#8088f0" fill-opacity="0.45"/>
<ellipse cx="190.5" cy="125.8" rx="3.0" ry="2.7" fill="#f08080" fill-opacity="0.29"/>
<ellipse cx="184.5" cy="129.5" rx="3.0" ry="2.7" fill="#8088f0" fill-opacity="0.20"/>
<ellipse cx="184.1" cy="120.9" rx="3.0" ry="3.0" fill="#f08080" fill-opacity="0.34"/>
<ellipse cx="202.3" cy="125.8" rx="3.0" ry="2.7" fill="#f08080" fill-opacity="0.38"/>
<ellipse cx="196.4" cy="129.5" rx="3.0" ry="2.7" fill="#8088f0" fill-opacity="0.24"/>
<ellipse cx="196.3" cy="121.0" rx="3.0" ry="3.0" fill="#8088f0" fill-opacity="0.46"/>
<ellipse cx="42.3" cy="136.9" rx="3.0" ry="2.7" fill="#f08080" fill-opacity="0.28"/>
<ellipse cx="36.4" cy="140.6" rx="3.0" ry="2.7" fill="#f08080" fill-opacity="0.39"/>
<ellipse cx="54.2" cy="136.9" rx="3.0" ry="2.7" fill="#f08080" fill-opacity="0.24"/>
<ellipse cx="48.3" cy="140.6" rx="3.0" ry="2.7" fill="#8088f0" fill-opacity="0.31"/>
<ellipse cx="48.7" cy="133.1" rx="3.0" ry="3.0" fill="#f08080" fill-opacity="0.50"/>
<ellipse cx="66.0" cy="136.9" rx="3.0" ry="2.7" fill="#8088f0" fill-opacity="0.25"/>
<ellipse cx="60.2" cy="132.9" rx="3.0" ry="3.0" fill="#f08080" fill-opacity="0.31"/>
<ellipse cx="77.9" cy="136.9" rx="3.0" ry="2.7" fill="#f08080" fill-opacity="0.43"/>
<ellipse cx="72.0" cy="140.6" rx="3.0" ry="2.7" fill="#f08080" fill-opacity="0.37"/>
<ellipse cx="89.7" cy="136.9" rx="3.0" ry="2.7" fill="#8088f0" fill-opacity="0.30"/>
<ellipse cx="83.8" cy="140.6" rx="3.0" ry="2.7" fill="#8088f0" fill-opacity="0.36"/>
<ellipse cx="83.3" cy="132.6" rx="3.0" ry="3.0" fill="#f08080" fill-opacity="0.25"/>
<ellipse cx="95.7" cy="140.6" rx="3.0" ry="2.7" fill="#8088f0" fill-opacity="0.34"/>
<ellipse cx="96.7" cy="134.0" rx="3.0" ry="3.0" fill="#f08080" fill-opacity="0.37"/>
<ellipse cx="113.4" cy="136.9" rx="3.0" ry="2.7" fill="#8088f0" fill-opacity="0.29"/>
<ellipse cx="107.5" cy="140.6" rx="3.0" ry="2.7" fill="#f08080" fill-opacity="0.27"/>
<ellipse cx="106.1" cy="132.7" rx="3.0" ry="3.0" fill="#f08080" fill-opacity="0.45"/>
<ellipse cx="125.3" cy="136.9" rx="3.0" ry="2.7" fill="#8088f0" fill-opacity="0.37"/>
<ellipse cx="119.4" cy="140.6" rx="3.0" ry="2.7" fill="#8088f0" fill-opacity="0.25"/>
<ellipse cx="119.2" cy="134.1" rx="3.0" ry="3.0" fill="#8088f0" fill-opacity="0.35"/>
<ellipse cx="137.2" cy="136.9" rx="3.0" ry="2.7" fill="#f08080" fill-opacity="0.39"/>
<ellipse cx="132.4" cy="131.8" rx="3.0" ry="3.0" fill="#f08080" fill-opacity="0.31"/>
<ellipse cx="149.0" cy="136.9" rx="3.0" ry="2.7" fill="#f08080" fill-opacity="0.42"/>
<ellipse cx="160.9" cy="136.9" rx="3.0" ry="2.7" fill="#f08080" fill-opacity="0.30"/>
<ellipse cx="155.5" cy="133.7" rx="3.0" ry="3.0" fill="#8088f0" fill-opacity="0.47"/>
<ellipse cx="172.7" cy="136.9" rx="3.0" ry="2.7" fill="#f08080" fill-opacity="0.44"/>
<ellipse cx="166.8" cy="140.6" rx="3.0" ry="2.7" fill="#8088f0" fill-opacity="0.37"/>
<ellipse cx="167.4" cy="133.4" rx="3.0" ry="3.0" fill="#f08080" fill-opacity="0.33"/>
<ellipse cx="184.6" cy="136.9" rx="3.0" ry="2.7" fill="#f08080" fill-opacity="0.39"/>
<ellipse cx="178.6" cy="140.6" rx="3.0" ry="2.7" fill="#f08080" fill-opacity="0.46"/>
<ellipse cx="177.2" cy="132.0" rx="3.0" ry="3.0" fill="#f08080" fill-opacity="0.50"/>
<ellipse cx="196.4" cy="136.9" rx="3.0" ry="2.7" fill="#f08080" fill-opacity="0.27"/>
<ellipse cx="190.5" cy="140.6" rx="3.0" ry="2.7" fill="#f08080" fill-opacity="0.25"/>
<ellipse cx="190.9" cy="133.8" rx="3.0" ry="3.0" fill="#8088f0" fill-opacity="0.41"/>
<ellipse cx="36.4" cy="148.0" rx="3.0" ry="2.7" fill="#f08080" fill-opacity="0.38"/>
<ellipse cx="30.5" cy="151.7" rx="3.0" ry="2.7" fill="#f08080" fill-opacity="0.44"/>
<ellipse cx="60.1" cy="148.0" rx="3.0" ry="2.7" fill="#f08080" fill-opacity="0.25"/>
<ellipse cx="72.0" cy="148.0" rx="3.0" ry="2.7" fill="#8088f0" fill-opacity="0.26"/>
<ellipse cx="66.0" cy="151.7" rx="3.0" ry="2.7" fill="#f08080" fill-opacity="0.26"/>
<ellipse cx="83.8" cy="148.0" rx="3.0" ry="2.7" fill="#f08080" fill-opacity="0.25"/>
<ellipse cx="77.9" cy="151.7" rx="3.0" ry="2.7" fill="#f08080" fill-opacity="0.31"/>
<ellipse cx="89.8" cy="151.7" rx="3.0" ry="2.7" fill="#f08080" fill-opacity="0.44"/>
<ellipse cx="88.3" cy="144.1" rx="3.0" ry="3.0" fill="#8088f0" fill-opacity="0.32"/>
<ellipse cx="107.5" cy="148.0" rx="3.0" ry="2.7" fill="#8088f0" fill-opacity="0.27"/>
<ellipse cx="101.6" cy="151.7" rx="3.0" ry="2.7" fill="#8088f0" fill-opacity="0.31"/>
<ellipse cx="102.7" cy="143.1" rx="3.0" ry="3.0" fill="#f08080" fill-opacity="0.47"/>
<ellipse cx="119.4" cy="148.0" rx="3.0" ry="2.7" fill="#f08080" fill-opacity="0.24"/>
<ellipse cx="113.5" cy="151.7" rx="3.0" ry="2.7" fill="#f08080" fill-opacity="0.42"/>
<ellipse cx="131.2" cy="148.0" rx="3.0" ry="2.7" fill="#f08080" fill-opacity="0.43"/>
<ellipse cx="125.3" cy="151.7" rx="3.0" ry="2.7" fill="#f08080" fill-opacity="0.36"/>
<ellipse cx="126.3" cy="143.6" rx="3.0" ry="3.0" fill="#f08080" fill-opacity="0.50"/>
<ellipse cx="143.1" cy="148.0" rx="3.0" ry="2.7" fill="#f08080" fill-opacity="0.29"/>
<ellipse cx="137.1" cy="151.7" rx="3.0" ry="2.7" fill="#8088f0" fill-opacity="0.30"/>
<ellipse cx="137.6" cy="143.1" rx="3.0" ry="3.0" fill="#f08080" fill-opacity="0.46"/>
<ellipse cx="154.9" cy="148.0" rx="3.0" ry="2.7" fill="#8088f0" fill-opacity="0.36"/>
<ellipse cx="149.0" cy="151.7" rx="3.0" ry="2.7" fill="#8088f0" fill-opacity="0.27"/>
<ellipse cx="148.7" cy="145.5" rx="3.0" ry="3.0" fill="#f08080" fill-opacity="0.26"/>
<ellipse cx="160.8" cy="151.7" rx="3.0" ry="2.7" fill="#f08080" fill-opacity="0.29"/>
<ellipse cx="162.1" cy="144.3" rx="3.0" ry="3.0" fill="#f08080" fill-opacity="0.35"/>
<ellipse cx="172.7" cy="151.7" rx="3.0" ry="2.7" fill="#f08080" fill-opacity="0.35"/>
<ellipse cx="173.5" cy="145.1" rx="3.0" ry="3.0" fill="#8088f0" fill-opacity="0.38"/>
<ellipse cx="190.5" cy="148.0" rx="3.0" ry="2.7" fill="#f08080" fill-opacity="0.32"/>
<ellipse cx="184.5" cy="151.7" rx="3.0" ry="2.7" fill="#f08080" fill-opacity="0.44"/>
<ellipse cx="185.3" cy="143.3" rx="3.0" ry="3.0" fill="#8088f0" fill-opacity="0.32"/>
<ellipse cx="202.3" cy="148.0" rx="3.0" ry="2.7" fill="#8088f0" fill-opacity="0.32"/>
<ellipse cx="196.4" cy="151.7" rx="3.0" ry="2.7" fill="#f08080" fill-opacity="0.35"/>
<ellipse cx="42.3" cy="159.1" rx="3.0" ry="2.7" fill="#f08080" fill-opacity="0.41"/>
<ellipse cx="35.4" cy="154.7" rx="3.0" ry="3.0" fill="#f08080" fill-opacity="0.33"/>
<ellipse cx="54.2" cy="159.1" rx="3.0" ry="2.7" fill="#f08080" fill-opacity="0.28"/>
<ellipse cx="48.3" cy="162.8" rx="3.0" ry="2.7" fill="#f08080" fill-opacity="0.29"/>
<ellipse cx="60.1" cy="162.8" rx="3.0" ry="2.7" fill="#f08080" fill-opacity="0.33"/>
<ellipse cx="77.9" cy="159.1" rx="3.0" ry="2.7" fill="#f08080" fill-opacity="0.29"/>
<ellipse cx="72.0" cy="162.8" rx="3.0" ry="2.7" fill="#8088f0" fill-opacity="0.22"/>
<ellipse cx="71.6" cy="154.0" rx="3.0" ry="3.0" fill="#f08080" fill-opacity="0.35"/>
<ellipse cx="89.7" cy="159.1" rx="3.0" ry="2.7" fill="#8088f0" fill-opacity="0.34"/>
<ellipse cx="83.8" cy="162.8" rx="3.0" ry="2.7" fill="#f08080" fill-opacity="0.39"/>
<ellipse cx="82.8" cy="155.7" rx="3.0" ry="3.0" fill="#8088f0" fill-opacity="0.31"/>
<ellipse cx="101.6" cy="159.1" rx="3.0" ry="2.7" fill="#8088f0" fill-opacity="0.38"/>
<ellipse cx="95.7" cy="162.8" rx="3.0" ry="2.7" fill="#f08080" fill-opacity="0.38"/>
<ellipse cx="113.4" cy="159.1" rx="3.0" ry="2.7" fill="#8088f0" fill-opacity="0.38"/>
<ellipse cx="107.5" cy="162.8" rx="3.0" ry="2.7" fill="#8088f0" fill-opacity="0.34"/>
<ellipse cx="125.3" cy="159.1" rx="3.0" ry="2.7" fill="#f08080" fill-opacity="0.32"/>
<ellipse cx="119.4" cy="162.8" rx="3.0" ry="2.7" fill="#8088f0" fill-opacity="0.22"/>
<ellipse cx="120.2" cy="156.1" rx="3.0" ry="3.0" fill="#f08080" fill-opacity="0.42"/>
<ellipse cx="137.2" cy="159.1" rx="3.0" ry="2.7" fill="#f08080" fill-opacity="0.34"/>
<ellipse cx="131.2" cy="162.8" rx="3.0" ry="2.7" fill="#f08080" fill-opacity="0.39"/>
<ellipse cx="131.8" cy="156.7" rx="3.0" ry="3.0" fill="#f08080" fill-opacity="0.29"/>
<ellipse cx="149.0" cy="159.1" rx="3.0" ry="2.7" fill="#8088f0" fill-opacity="0.36"/>
<ellipse cx="143.1" cy="162.8" rx="3.0" ry="2.7" fill="#f08080" fill-opacity="0.36"/>
<ellipse cx="160.9" cy="159.1" rx="3.0" ry="2.7" fill="#f08080" fill-opacity="0.43"/>
<ellipse cx="153.7" cy="155.7" rx="3.0" ry="3.0" fill="#8088f0" fill-opacity="0.35"/>
<ellipse cx="172.7" cy="159.1" rx="3.0" ry="2.7" fill="#8088f0" fill-opacity="0.30"/>
<ellipse cx="166.8" cy="162.8" rx="3.0" ry="2.7" fill="#8088f0" fill-opacity="0.37"/>
<ellipse cx="166.5" cy="156.8" rx="3.0" ry="3.0" fill="#8088f0" fill-opacity="0.26"/>
<ellipse cx="184.6" cy="159.1" rx="3.0" ry="2.7" fill="#8088f0" fill-opacity="0.28"/>
<ellipse cx="178.6" cy="162.8" rx="3.0" ry="2.7" fill="#8088f0" fill-opacity="0.22"/>
<ellipse cx="196.4" cy="159.1" rx="3.0" ry="2.7" fill="#f08080" fill-opacity="0.34"/>
<ellipse cx="190.5" cy="162.8" rx="3.0" ry="2.7" fill="#f08080" fill-opacity="0.34"/>
<ellipse cx="191.1" cy="155.0" rx="3.0" ry="3.0" fill="#f08080" fill-opacity="0.31"/>
<ellipse cx="36.4" cy="170.2" rx="3.0" ry="2.7" fill="#f08080" fill-opacity="0.42"/>
<ellipse cx="29.7" cy="167.4" rx="3.0" ry="3.0" fill="#8088f0" fill-opacity="0.31"/>
<ellipse cx="48.3" cy="170.2" rx="3.0" ry="2.7" fill="#f08080" fill-opacity="0.27"/>
<ellipse cx="42.4" cy="173.9" rx="3.0" ry="2.7" fill="#8088f0" fill-opacity="0.36"/>
<ellipse cx="42.3" cy="166.7" rx="3.0" ry="3.0" fill="#8088f0" fill-opacity="0.26"/>
<ellipse cx="54.2" cy="173.9" rx="3.0" ry="2.7" fill="#f08080" fill-opacity="0.39"/>
<ellipse cx="72.0" cy="170.2" rx="3.0" ry="2.7" fill="#f08080" fill-opacity="0.37"/>
<ellipse cx="66.0" cy="173.9" rx="3.0" ry="2.7" fill="#f08080" fill-opacity="0.44"/>
<ellipse cx="67.1" cy="165.8" rx="3.0" ry="3.0" fill="#f08080" fill-opacity="0.35"/>
<ellipse cx="83.8" cy="170.2" rx="3.0" ry="2.7" fill="#f08080" fill-opacity="0.34"/>
<ellipse cx="77.9" cy="173.9" rx="3.0" ry="2.7" fill="#f08080" fill-opacity="0.24"/>
<ellipse cx="95.7" cy="170.2" rx="3.0" ry="2.7" fill="#f08080" fill-opacity="0.36"/>
<ellipse cx="89.8" cy="173.9" rx="3.0" ry="2.7" fill="#f08080" fill-opacity="0.39"/>
<ellipse cx="89.3" cy="167.8" rx="3.0" ry="3.0" fill="#8088f0" fill-opacity="0.44"/>
<ellipse cx="107.5" cy="170.2" rx="3.0" ry="2.7" fill="#f08080" fill-opacity="0.44"/>
<ellipse cx="119.4" cy="170.2" rx="3.0" ry="2.7" fill="#8088f0" fill-opacity="0.20"/>
<ellipse cx="113.5" cy="173.9" rx="3.0" ry="2.7" fill="#f08080" fill-opacity="0.47"/>
<ellipse cx="112.7" cy="165.3" rx="3.0" ry="3.0" fill="#8088f0" fill-opacity="0.24"/>
<ellipse cx="131.2" cy="170.2" rx="3.0" ry="2.7" fill="#f08080" fill-opacity="0.43"/>
<ellipse cx="125.3" cy="173.9" rx="3.0" ry="2.7" fill="#f08080" fill-opacity="0.28"/>
<ellipse cx="137.1" cy="173.9" rx="3.0" ry="2.7" fill="#8088f0" fill-opacity="0.36"/>
<ellipse cx="138.3" cy="167.4" rx="3.0" ry="3.0" fill="#8088f0" fill-opacity="0.43"/>
<ellipse cx="154.9" cy="170.2" rx="3.0" ry="2.7" fill="#f08080" fill-opacity="0.41"/>
<ellipse cx="149.0" cy="173.9" rx="3.0" ry="2.7" fill="#f08080" fill-opacity="0.42"/>
<ellipse cx="150.1" cy="166.7" rx="3.0" ry="3.0" fill="#f08080" fill-opacity="0.31"/>
<ellipse cx="166.8" cy="170.2" rx="3.0" ry="2.7" fill="#f08080" fill-opacity="0.27"/>
<ellipse cx="160.8" cy="173.9" rx="3.0" ry="2.7" fill="#f08080" fill-opacity="0.25"/>
<ellipse cx="159.8" cy="166.5" rx="3.0" ry="3.0" fill="#8088f0" fill-opacity="0.34"/>
<ellipse cx="178.6" cy="170.2" rx="3.0" ry="2.7" fill="#f08080" fill-opacity="0.45"/>
<ellipse cx="172.7" cy="173.9" rx="3.0" ry="2.7" fill="#f08080" fill-opacity="0.44"/>
<ellipse cx="172.9" cy="167.0" rx="3.0" ry="3.0" fill="#8088f0" fill-opacity="0.44"/>
<ellipse cx="190.5" cy="170.2" rx="3.0" ry="2.7" fill="#f08080" fill-opacity="0.34"/>
<ellipse cx="185.0" cy="166.9" rx="3.0" ry="3.0" fill="#f08080" fill-opacity="0.25"/>
<ellipse cx="202.3" cy="170.2" rx="3.0" ry="2.7" fill="#8088f0" fill-opacity="0.34"/>
<ellipse cx="197.8" cy="166.6" rx="3.0" ry="3.0" fill="#f08080" fill-opacity="0.38"/>
<ellipse cx="36.4" cy="185.1" rx="3.0" ry="2.7" fill="#f08080" fill-opacity="0.41"/>
<ellipse cx="35.9" cy="178.7" rx="3.0" ry="3.0" fill="#8088f0" fill-opacity="0.30"/>
<ellipse cx="54.2" cy="181.3" rx="3.0" ry="2.7" fill="#f08080" fill-opacity="0.37"/>
<ellipse cx="48.3" cy="185.1" rx="3.0" ry="2.7" fill="#8088f0" fill-opacity="0.24"/>
<ellipse cx="48.0" cy="177.8" rx="3.0" ry="3.0" fill="#f08080" fill-opacity="0.47"/>
<ellipse cx="66.0" cy="181.3" rx="3.0" ry="2.7" fill="#f08080" fill-opacity="0.44"/>
<ellipse cx="60.1" cy="185.1" rx="3.0" ry="2.7" fill="#f08080" fill-opacity="0.36"/>
<ellipse cx="60.1" cy="179.1" rx="3.0" ry="3.0" fill="#f08080" fill-opacity="0.42"/>
<ellipse cx="77.9" cy="181.3" rx="3.0" ry="2.7" fill="#8088f0" fill-opacity="0.27"/>
<ellipse cx="72.0" cy="185.1" rx="3.0" ry="2.7" fill="#f08080" fill-opacity="0.31"/>
<ellipse cx="72.4" cy="178.5" rx="3.0" ry="3.0" fill="#8088f0" fill-opacity="0.21"/>
<ellipse cx="89.7" cy="181.3" rx="3.0" ry="2.7" fill="#8088f0" fill-opacity="0.38"/>
<ellipse cx="83.8" cy="185.1" rx="3.0" ry="2.7" fill="#f08080" fill-opacity="0.25"/>
<ellipse cx="82.3" cy="176.7" rx="3.0" ry="3.0" fill="#f08080" fill-opacity="0.50"/>
<ellipse cx="101.6" cy="181.3" rx="3.0" ry="2.7" fill="#8088f0" fill-opacity="0.33"/>
<ellipse cx="95.7" cy="185.1" rx="3.0" ry="2.7" fill="#8088f0" fill-opacity="0.38"/>
<ellipse cx="96.0" cy="178.0" rx="3.0" ry="3.0" fill="#8088f0" fill-opacity="0.39"/>
<ellipse cx="113.4" cy="181.3" rx="3.0" ry="2.7" fill="#8088f0" fill-opacity="0.34"/>
<ellipse cx="107.5" cy="185.1" rx="3.0" ry="2.7" fill="#f08080" fill-opacity="0.40"/>
<ellipse cx="108.3" cy="176.5" rx="3.0" ry="3.0" fill="#8088f0" fill-opacity="0.25"/>
<ellipse cx="125.3" cy="181.3" rx="3.0" ry="2.7" fill="#f08080" fill-opacity="0.43"/>
<ellipse cx="119.0" cy="178.6" rx="3.0" ry="3.0" fill="#8088f0" fill-opacity="0.42"/>
<ellipse cx="137.2" cy="181.3" rx="3.0" ry="2.7" fill="#8088f0" fill-opacity="0.25"/>
<ellipse cx="131.2" cy="185.1" rx="3.0" ry="2.7" fill="#f08080" fill-opacity="0.34"/>
<ellipse cx="131.0" cy="178.1" rx="3.0" ry="3.0" fill="#f08080" fill-opacity="0.50"/>
<ellipse cx="149.0" cy="181.3" rx="3.0" ry="2.7" fill="#f08080" fill-opacity="0.38"/>
<ellipse cx="143.1" cy="185.1" rx="3.0" ry="2.7" fill="#f08080" fill-opacity="0.27"/>
<ellipse cx="160.9" cy="181.3" rx="3.0" ry="2.7" fill="#f08080" fill-opacity="0.24"/>
<ellipse cx="154.9" cy="185.1" rx="3.0" ry="2.7" fill="#f08080" fill-opacity="0.38"/>
<ellipse cx="172.7" cy="181.3" rx="3.0" ry="2.7" fill="#f08080" fill-opacity="0.26"/>
<ellipse cx="166.8" cy="185.1" rx="3.0" ry="2.7" fill="#8088f0" fill-opacity="0.24"/>
<ellipse cx="165.3" cy="176.2" rx="3.0" ry="3.0" fill="#f08080" fill-opacity="0.43"/>
<ellipse cx="184.6" cy="181.3" rx="3.0" ry="2.7" fill="#f08080" fill-opacity="0.47"/>
<ellipse cx="178.6" cy="185.1" rx="3.0" ry="2.7" fill="#f08080" fill-opacity="0.45"/>
<ellipse cx="177.2" cy="178.3" rx="3.0" ry="3.0" fill="#f08080" fill-opacity="0.31"/>
<ellipse cx="196.4" cy="181.3" rx="3.0" ry="2.7" fill="#8088f0" fill-opacity="0.24"/>
<ellipse cx="190.5" cy="185.1" rx="3.0" ry="2.7" fill="#f08080" fill-opacity="0.43"/>
</g>
<g filter="url(#blur1)">
<ellipse cx="30.09" cy="63.80" rx="1.55" ry="3.47" fill="#f41010" fill-opacity="1.0"/>
<ellipse cx="30.45" cy="70.60" rx="1.55" ry="3.47" fill="#f41010" fill-opacity="1.0"/>
<ellipse cx="30.40" cy="67.20" rx="0.70" ry="3.06" fill="#f41010" fill-opacity="0.9"/>
<ellipse cx="34.04" cy="63.80" rx="1.55" ry="3.47" fill="#1414f4" fill-opacity="1.0"/>
<ellipse cx="34.32" cy="70.60" rx="1.55" ry="3.47" fill="#1414f4" fill-opacity="1.0"/>
<ellipse cx="34.20" cy="67.20" rx="0.70" ry="3.06" fill="#1414f4" fill-opacity="0.9"/>
<ellipse cx="38.15" cy="63.80" rx="1.55" ry="3.47" fill="#f41010" fill-opacity="1.0"/>
<ellipse cx="37.48" cy="70.60" rx="1.55" ry="3.47" fill="#f41010" fill-opacity="1.0"/>
<ellipse cx="38.00" cy="67.20" rx="0.70" ry="3.06" fill="#f41010" fill-opacity="0.9"/>
<ellipse cx="41.22" cy="63.80" rx="1.55" ry="3.47" fill="#1414f4" fill-opacity="1.0"/>
<ellipse cx="42.20" cy="70.60" rx="1.55" ry="3.47" fill="#1414f4" fill-opacity="1.0"/>
<ellipse cx="41.80" cy="67.20" rx="0.70" ry="3.06" fill="#1414f4" fill-opacity="0.9"/>
<ellipse cx="45.31" cy="63.80" rx="1.55" ry="3.47" fill="#f41010" fill-opacity="1.0"/>
<ellipse cx="45.28" cy="70.60" rx="1.55" ry="3.47" fill="#f41010" fill-opacity="1.0"/>
<ellipse cx="45.60" cy="67.20" rx="0.70" ry="3.06" fill="#f41010" fill-opacity="0.9"/>
<ellipse cx="49.99" cy="63.80" rx="1.55" ry="3.47" fill="#1414f4" fill-opacity="1.0"/>
<ellipse cx="49.36" cy="70.60" rx="1.55" ry="3.47" fill="#1414f4" fill-opacity="1.0"/>
<ellipse cx="49.40" cy="67.20" rx="0.70" ry="3.06" fill="#1414f4" fill-opacity="0.9"/>
<ellipse cx="53.60" cy="63.80" rx="1.55" ry="3.47" fill="#f41010" fill-opacity="1.0"/>
<ellipse cx="53.17" cy="70.60" rx="1.55" ry="3.47" fill="#f41010" fill-opacity="1.0"/>
<ellipse cx="53.20" cy="67.20" rx="0.70" ry="3.06" fill="#f41010" fill-opacity="0.9"/>
<ellipse cx="57.17" cy="63.80" rx="1.55" ry="3.47" fill="#1414f4" fill-opacity="1.0"/>
<ellipse cx="56.58" cy="70.60" rx="1.55" ry="3.47" fill="#1414f4" fill-opacity="1.0"/>
<ellipse cx="57.00" cy="67.20" rx="0.70" ry="3.06" fill="#1414f4" fill-opacity="0.9"/>
<ellipse cx="60.96" cy="63.80" rx="1.55" ry="3.47" fill="#f41010" fill-opacity="1.0"/>
<ellipse cx="61.24" cy="70.60" rx="1.55" ry="3.47" fill="#f41010" fill-opacity="1.0"/>
<ellipse cx="60.80" cy="67.20" rx="0.70" ry="3.06" fill="#f41010" fill-opacity="0.9"/>
<ellipse cx="64.63" cy="63.80" rx="1.55" ry="3.47" fill="#1414f4" fill-opacity="1.0"/>
<ellipse cx="64.89" cy="70.60" rx="1.55" ry="3.47" fill="#1414f4" fill-opacity="1.0"/>
<ellipse cx="64.60" cy="67.20" rx="0.70" ry="3.06" fill="#1414f4" fill-opacity="0.9"/>
<ellipse cx="68.61" cy="63.80" rx="1.55" ry="3.47" fill="#f41010" fill-opacity="1.0"/>
<ellipse cx="67.88" cy="70.60" rx="1.55" ry="3.47" fill="#f41010" fill-opacity="1.0"/>
<ellipse cx="68.40" cy="67.20" rx="0.70" ry="3.06" fill="#f41010" fill-opacity="0.9"/>
<ellipse cx="72.51" cy="63.80" rx="1.55" ry="3.47" fill="#1414f4" fill-opacity="1.0"/>
<ellipse cx="72.31" cy="70.60" rx="1.55" ry="3.47" fill="#1414f4" fill-opacity="1.0"/>
<ellipse cx="72.20" cy="67.20" rx="0.70" ry="3.06" fill="#1414f4" fill-opacity="0.9"/>
<ellipse cx="75.76" cy="63.80" rx="1.55" ry="3.47" fill="#f41010" fill-opacity="1.0"/>
<ellipse cx="75.44" cy="70.60" rx="1.55" ry="3.47" fill="#f41010" fill-opacity="1.0"/>
<ellipse cx="76.00" cy="67.20" rx="0.70" ry="3.06" fill="#f41010" fill-opacity="0.9"/>
<ellipse cx="80.24" cy="63.80" rx="1.55" ry="3.47" fill="#1414f4" fill-opacity="1.0"/>
<ellipse cx="79.77" cy="70.60" rx="1.55" ry="3.47" fill="#1414f4" fill-opacity="1.0"/>
<ellipse cx="79.80" cy="67.20" rx="0.70" ry="3.06" fill="#1414f4" fill-opacity="0.9"/>
<ellipse cx="83.86" cy="63.80" rx="1.55" ry="3.47" fill="#f41010" fill-opacity="1.0"/>
<ellipse cx="84.05" cy="70.60" rx="1.55" ry="3.47" fill="#f41010" fill-opacity="1.0"/>
<ellipse cx="83.60" cy="67.20" rx="0.70" ry="3.06" fill="#f41010" fill-opacity="0.9"/>
<ellipse cx="87.66" cy="63.80" rx="1.55" ry="3.47" fill="#1414f4" fill-opacity="1.0"/>
<ellipse cx="87.91" cy="70.60" rx="1.55" ry="3.47" fill="#1414f4" fill-opacity="1.0"/>
<ellipse cx="87.40" cy="67.20" rx="0.70" ry="3.06" fill="#1414f4" fill-opacity="0.9"/>
<ellipse cx="91.07" cy="63.80" rx="1.55" ry="3.47" fill="#f41010" fill-opacity="1.0"/>
<ellipse cx="91.56" cy="70.60" rx="1.55" ry="3.47" fill="#f41010" fill-opacity="1.0"/>
<ellipse cx="91.20" cy="67.20" rx="0.70" ry="3.06" fill="#f41010" fill-opacity="0.9"/>
<ellipse cx="94.93" cy="63.80" rx="1.55" ry="3.47" fill="#1414f4" fill-opacity="1.0"/>
<ellipse cx="95.52" cy="70.60" rx="1.55" ry="3.47" fill="#1414f4" fill-opacity="1.0"/>
<ellipse cx="95.00" cy="67.20" rx="0.70" ry="3.06" fill="#1414f4" fill-opacity="0.9"/>
<ellipse cx="99.25" cy="63.80" rx="1.55" ry="3.47" fill="#f41010" fill-opacity="1.0"/>
<ellipse cx="98.32" cy="70.60" rx="1.55" ry="3.47" fill="#f41010" fill-opacity="1.0"/>
<ellipse cx="98.80" cy="67.20" rx="0.70" ry="3.06" fill="#f41010" fill-opacity="0.9"/>
<ellipse cx="102.16" cy="63.80" rx="1.55" ry="3.47" fill="#1414f4" fill-opacity="1.0"/>
<ellipse cx="102.26" cy="70.60" rx="1.55" ry="3.47" fill="#1414f4" fill-opacity="1.0"/>
<ellipse cx="102.60" cy="67.20" rx="0.70" ry="3.06" fill="#1414f4" fill-opacity="0.9"/>
<ellipse cx="106.96" cy="63.80" rx="1.55" ry="3.47" fill="#f41010" fill-opacity="1.0"/>
<ellipse cx="106.32" cy="70.60" rx="1.55" ry="3.47" fill="#f41010" fill-opacity="1.0"/>
<ellipse cx="106.40" cy="67.20" rx="0.70" ry="3.06" fill="#f41010" fill-opacity="0.9"/>
<ellipse cx="110.35" cy="63.80" rx="1.55" ry="3.47" fill="#1414f4" fill-opacity="1.0"/>
<ellipse cx="109.96" cy="70.60" rx="1.55" ry="3.47" fill="#1414f4" fill-opacity="1.0"/>
<ellipse cx="110.20" cy="67.20" rx="0.70" ry="3.06" fill="#1414f4" fill-opacity="0.9"/>
<ellipse cx="115.82" cy="129.10" rx="1.50" ry="3.57" fill="#f41010" fill-opacity="1.0"/>
<ellipse cx="115.94" cy="136.10" rx="1.50" ry="3.57" fill="#f41010" fill-opacity="1.0"/>
<ellipse cx="115.70" cy="132.60" rx="0.68" ry="3.15" fill="#f41010" fill-opacity="0.9"/>
<ellipse cx="119.89" cy="129.10" rx="1.50" ry="3.57" fill="#1414f4" fill-opacity="1.0"/>
<ellipse cx="120.03" cy="136.10" rx="1.50" ry="3.57" fill="#1414f4" fill-opacity="1.0"/>
<ellipse cx="119.59" cy="132.60" rx="0.68" ry="3.15" fill="#1414f4" fill-opacity="0.9"/>
<ellipse cx="123.72" cy="129.10" rx="1.50" ry="3.57" fill="#f41010" fill-opacity="1.0"/>
<ellipse cx="123.90" cy="136.10" rx="1.50" ry="3.57" fill="#f41010" fill-opacity="1.0"/>
<ellipse cx="123.48" cy="132.60" rx="0.68" ry="3.15" fill="#f41010" fill-opacity="0.9"/>
<ellipse cx="126.90" cy="129.10" rx="1.50" ry="3.57" fill="#1414f4" fill-opacity="1.0"/>
<ellipse cx="127.34" cy="136.10" rx="1.50" ry="3.57" fill="#1414f4" fill-opacity="1.0"/>
<ellipse cx="127.37" cy="132.60" rx="0.68" ry="3.15" fill="#1414f4" fill-opacity="0.9"/>
<ellipse cx="131.70" cy="129.10" rx="1.50" ry="3.57" fill="#f41010" fill-opacity="1.0"/>
<ellipse cx="131.41" cy="136.10" rx="1.50" ry="3.57" fill="#f41010" fill-opacity="1.0"/>
<ellipse cx="131.26" cy="132.60" rx="0.68" ry="3.15" fill="#f41010" fill-opacity="0.9"/>
<ellipse cx="135.55" cy="129.10" rx="1.50" ry="3.57" fill="#1414f4" fill-opacity="1.0"/>
<ellipse cx="134.76" cy="136.10" rx="1.50" ry="3.57" fill="#1414f4" fill-opacity="1.0"/>
<ellipse cx="135.15" cy="132.60" rx="0.68" ry="3.15" fill="#1414f4" fill-opacity="0.9"/>
<ellipse cx="139.01" cy="129.10" rx="1.50" ry="3.57" fill="#f41010" fill-opacity="1.0"/>
<ellipse cx="138.79" cy="136.10" rx="1.50" ry="3.57" fill="#f41010" fill-opacity="1.0"/>
<ellipse cx="139.04" cy="132.60" rx="0.68" ry="3.15" fill="#f41010" fill-opacity="0.9"/>
<ellipse cx="142.97" cy="129.10" rx="1.50" ry="3.57" fill="#1414f4" fill-opacity="1.0"/>
<ellipse cx="143.00" cy="136.10" rx="1.50" ry="3.57" fill="#1414f4" fill-opacity="1.0"/>
<ellipse cx="142.93" cy="132.60" rx="0.68" ry="3.15" fill="#1414f4" fill-opacity="0.9"/>
<ellipse cx="146.33" cy="129.10" rx="1.50" ry="3.57" fill="#f41010" fill-opacity="1.0"/>
<ellipse cx="146.54" cy="136.10" rx="1.50" ry="3.57" fill="#f41010" fill-opacity="1.0"/>
<ellipse cx="146.82" cy="132.60" rx="0.68" ry="3.15" fill="#f41010" fill-opacity="0.9"/>
<ellipse cx="150.49" cy="129.10" rx="1.50" ry="3.57" fill="#1414f4" fill-opacity="1.0"/>
<ellipse cx="151.13" cy="136.10" rx="1.50" ry="3.57" fill="#1414f4" fill-opacity="1.0"/>
<ellipse cx="150.71" cy="132.60" rx="0.68" ry="3.15" fill="#1414f4" fill-opacity="0.9"/>
<ellipse cx="154.87" cy="129.10" rx="1.50" ry="3.57" fill="#f41010" fill-opacity="1.0"/>
<ellipse cx="154.26" cy="136.10" rx="1.50" ry="3.57" fill="#f41010" fill-opacity="1.0"/>
<ellipse cx="154.60" cy="132.60" rx="0.68" ry="3.15" fill="#f41010" fill-opacity="0.9"/>
<ellipse cx="158.79" cy="129.10" rx="1.50" ry="3.57" fill="#1414f4" fill-opacity="1.0"/>
<ellipse cx="158.13" cy="136.10" rx="1.50" ry="3.57" fill="#1414f4" fill-opacity="1.0"/>
<ellipse cx="158.49" cy="132.60" rx="0.68" ry="3.15" fill="#1414f4" fill-opacity="0.9"/>
<ellipse cx="162.50" cy="129.10" rx="1.50" ry="3.57" fill="#f41010" fill-opacity="1.0"/>
<ellipse cx="162.01" cy="136.10" rx="1.50" ry="3.57" fill="#f41010" fill-opacity="1.0"/>
<ellipse cx="162.38" cy="132.60" rx="0.68" ry="3.15" fill="#f41010" fill-opacity="0.9"/>
<ellipse cx="165.77" cy="129.10" rx="1.50" ry="3.57" fill="#1414f4" fill-opacity="1.0"/>
<ellipse cx="166.64" cy="136.10" rx="1.50" ry="3.57" fill="#1414f4" fill-opacity="1.0"/>
<ellipse cx="166.27" cy="132.60" rx="0.68" ry="3.15" fill="#1414f4" fill-opacity="0.9"/>
<ellipse cx="169.87" cy="129.10" rx="1.50" ry="3.57" fill="#f41010" fill-opacity="1.0"/>
<ellipse cx="169.88" cy="136.10" rx="1.50" ry="3.57" fill="#f41010" fill-opacity="1.0"/>
<ellipse cx="170.16" cy="132.60" rx="0.68" ry="3.15" fill="#f41010" fill-opacity="0.9"/>
<ellipse cx="174.53" cy="129.10" rx="1.50" ry="3.57" fill="#1414f4" fill-opacity="1.0"/>
<ellipse cx="174.42" cy="136.10" rx="1.50" ry="3.57" fill="#1414f4" fill-opacity="1.0"/>
<ellipse cx="174.05" cy="132.60" rx="0.68" ry="3.15" fill="#1414f4" fill-opacity="0.9"/>
<ellipse cx="177.73" cy="129.10" rx="1.50" ry="3.57" fill="#f41010" fill-opacity="1.0"/>
<ellipse cx="178.40" cy="136.10" rx="1.50" ry="3.57" fill="#f41010" fill-opacity="1.0"/>
<ellipse cx="177.94" cy="132.60" rx="0.68" ry="3.15" fill="#f41010" fill-opacity="0.9"/>
<ellipse cx="181.87" cy="129.10" rx="1.50" ry="3.57" fill="#1414f4" fill-opacity="1.0"/>
<ellipse cx="182.01" cy="136.10" rx="1.50" ry="3.57" fill="#1414f4" fill-opacity="1.0"/>
<ellipse cx="181.83" cy="132.60" rx="0.68" ry="3.15" fill="#1414f4" fill-opacity="0.9"/>
<ellipse cx="185.42" cy="129.10" rx="1.50" ry="3.57" fill="#f41010" fill-opacity="1.0"/>
<ellipse cx="186.16" cy="136.10" rx="1.50" ry="3.57" fill="#f41010" fill-opacity="1.0"/>
<ellipse cx="185.72" cy="132.60" rx="0.68" ry="3.15" fill="#f41010" fill-opacity="0.9"/>
<ellipse cx="189.80" cy="129.10" rx="1.50" ry="3.57" fill="#1414f4" fill-opacity="1.0"/>
<ellipse cx="190.08" cy="136.10" rx="1.50" ry="3.57" fill="#1414f4" fill-opacity="1.0"/>
<ellipse cx="189.61" cy="132.60" rx="0.68" ry="3.15" fill="#1414f4" fill-opacity="0.9"/>
<ellipse cx="193.89" cy="129.10" rx="1.50" ry="3.57" fill="#f41010" fill-opacity="1.0"/>
<ellipse cx="193.30" cy="136.10" rx="1.50" ry="3.57" fill="#f41010" fill-opacity="1.0"/>
<ellipse cx="193.50" cy="132.60" rx="0.68" ry="3.15" fill="#f41010" fill-opacity="0.9"/>
<ellipse cx="197.25" cy="129.10" rx="1.50" ry="3.57" fill="#1414f4" fill-opacity="1.0"/>
<ellipse cx="197.06" cy="136.10" rx="1.50" ry="3.57" fill="#1414f4" fill-opacity="1.0"/>
<ellipse cx="197.39" cy="132.60" rx="0.68" ry="3.15" fill="#1414f4" fill-opacity="0.9"/>
<ellipse cx="34.20" cy="56.50" rx="1.30" ry="2.30" fill="#1414f4" fill-opacity="0.8"/>
<ellipse cx="34.20" cy="76.80" rx="1.30" ry="2.30" fill="#1414f4" fill-opacity="0.8"/>
<ellipse cx="38.00" cy="56.50" rx="1.30" ry="2.30" fill="#f41010" fill-opacity="0.8"/>
<ellipse cx="38.00" cy="76.80" rx="1.30" ry="2.30" fill="#f41010" fill-opacity="0.8"/>
<ellipse cx="49.40" cy="56.50" rx="1.30" ry="2.30" fill="#1414f4" fill-opacity="0.8"/>
<ellipse cx="49.40" cy="76.80" rx="1.30" ry="2.30" fill="#1414f4" fill-opacity="0.8"/>
<ellipse cx="60.80" cy="56.50" rx="1.30" ry="2.30" fill="#f41010" fill-opacity="0.8"/>
<ellipse cx="60.80" cy="76.80" rx="1.30" ry="2.30" fill="#f41010" fill-opacity="0.8"/>
<ellipse cx="72.20" cy="56.50" rx="1.30" ry="2.30" fill="#1414f4" fill-opacity="0.8"/>
<ellipse cx="72.20" cy="76.80" rx="1.30" ry="2.30" fill="#1414f4" fill-opacity="0.8"/>
<ellipse cx="83.60" cy="56.50" rx="1.30" ry="2.30" fill="#f41010" fill-opacity="0.8"/>
<ellipse cx="83.60" cy="76.80" rx="1.30" ry="2.30" fill="#f41010" fill-opacity="0.8"/>
<ellipse cx="95.00" cy="56.50" rx="1.30" ry="2.30" fill="#1414f4" fill-opacity="0.8"/>
<ellipse cx="95.00" cy="76.80" rx="1.30" ry="2.30" fill="#1414f4" fill-opacity="0.8"/>
<ellipse cx="106.40" cy="56.50" rx="1.30" ry="2.30" fill="#f41010" fill-opacity="0.8"/>
<ellipse cx="106.40" cy="76.80" rx="1.30" ry="2.30" fill="#f41010" fill-opacity="0.8"/>
<ellipse cx="110.20" cy="56.50" rx="1.30" ry="2.30" fill="#1414f4" fill-opacity="0.8"/>
<ellipse cx="110.20" cy="76.80" rx="1.30" ry="2.30" fill="#1414f4" fill-opacity="0.8"/>
<ellipse cx="115.70" cy="122.80" rx="1.30" ry="2.30" fill="#f41010" fill-opacity="0.8"/>
<ellipse cx="115.70" cy="142.50" rx="1.30" ry="2.30" fill="#f41010" fill-opacity="0.8"/>
<ellipse cx="123.48" cy="122.80" rx="1.30" ry="2.30" fill="#f41010" fill-opacity="0.8"/>
<ellipse cx="123.48" cy="142.50" rx="1.30" ry="2.30" fill="#f41010" fill-opacity="0.8"/>
<ellipse cx="127.37" cy="122.80" rx="1.30" ry="2.30" fill="#1414f4" fill-opacity="0.8"/>
<ellipse cx="127.37" cy="142.50" rx="1.30" ry="2.30" fill="#1414f4" fill-opacity="0.8"/>
<ellipse cx="135.15" cy="122.80" rx="1.30" ry="2.30" fill="#1414f4" fill-opacity="0.8"/>
<ellipse cx="135.15" cy="142.50" rx="1.30" ry="2.30" fill="#1414f4" fill-opacity="0.8"/>
<ellipse cx="139.04" cy="122.80" rx="1.30" ry="2.30" fill="#f41010" fill-opacity="0.8"/>
<ellipse cx="139.04" cy="142.50" rx="1.30" ry="2.30" fill="#f41010" fill-opacity="0.8"/>
<ellipse cx="146.82" cy="122.80" rx="1.30" ry="2.30" fill="#f41010" fill-opacity="0.8"/>
<ellipse cx="146.82" cy="142.50" rx="1.30" ry="2.30" fill="#f41010" fill-opacity="0.8"/>
<ellipse cx="150.71" cy="122.80" rx="1.30" ry="2.30" fill="#1414f4" fill-opacity="0.8"/>
<ellipse cx="150.71" cy="142.50" rx="1.30" ry="2.30" fill="#1414f4" fill-opacity="0.8"/>
<ellipse cx="162.38" cy="122.80" rx="1.30" ry="2.30" fill="#f41010" fill-opacity="0.8"/>
<ellipse cx="162.38" cy="142.50" rx="1.30" ry="2.30" fill="#f41010" fill-opacity="0.8"/>
<ellipse cx="174.05" cy="122.80" rx="1.30" ry="2.30" fill="#1414f4" fill-opacity="0.8"/>
<ellipse cx="174.05" cy="142.50" rx="1.30" ry="2.30" fill="#1414f4" fill-opacity="0.8"/>
<ellipse cx="185.72" cy="122.80" rx="1.30" ry="2.30" fill="#f41010" fill-opacity="0.8"/>
<ellipse cx="185.72" cy="142.50" rx="1.30" ry="2.30" fill="#f41010" fill-opacity="0.8"/>
<ellipse cx="197.39" cy="122.80" rx="1.30" ry="2.30" fill="#1414f4" fill-opacity="0.8"/>
<ellipse cx="197.39" cy="142.50" rx="1.30" ry="2.30" fill="#1414f4" fill-opacity="0.8"/>
<ellipse cx="129.89" cy="79.13" rx="1.60" ry="4.39" fill="#f41010" fill-opacity="0.95" transform="rotate(118.3 129.89 79.13)"/>
<ellipse cx="122.48" cy="74.76" rx="1.60" ry="4.39" fill="#f41010" fill-opacity="0.95" transform="rotate(118.3 122.48 74.76)"/>
<ellipse cx="125.98" cy="77.32" rx="0.72" ry="3.87" fill="#f41010" fill-opacity="0.95" transform="rotate(118.3 125.98 77.32)"/>
<ellipse cx="128.13" cy="82.41" rx="1.60" ry="4.39" fill="#1414f4" fill-opacity="0.95" transform="rotate(118.3 128.13 82.41)"/>
<ellipse cx="119.77" cy="79.78" rx="1.60" ry="4.39" fill="#1414f4" fill-opacity="0.95" transform="rotate(118.3 119.77 79.78)"/>
<ellipse cx="123.99" cy="81.02" rx="0.72" ry="3.87" fill="#1414f4" fill-opacity="0.95" transform="rotate(118.3 123.99 81.02)"/>
<ellipse cx="125.71" cy="86.90" rx="1.60" ry="4.39" fill="#f41010" fill-opacity="0.95" transform="rotate(118.3 125.71 86.90)"/>
<ellipse cx="118.02" cy="83.04" rx="1.60" ry="4.39" fill="#f41010" fill-opacity="0.95" transform="rotate(118.3 118.02 83.04)"/>
<ellipse cx="122.00" cy="84.71" rx="0.72" ry="3.87" fill="#f41010" fill-opacity="0.95" transform="rotate(118.3 122.00 84.71)"/>
<ellipse cx="123.74" cy="90.55" rx="1.60" ry="4.39" fill="#1414f4" fill-opacity="0.95" transform="rotate(118.3 123.74 90.55)"/>
<ellipse cx="116.34" cy="86.15" rx="1.60" ry="4.39" fill="#1414f4" fill-opacity="0.95" transform="rotate(118.3 116.34 86.15)"/>
<ellipse cx="120.01" cy="88.41" rx="0.72" ry="3.87" fill="#1414f4" fill-opacity="0.95" transform="rotate(118.3 120.01 88.41)"/>
<ellipse cx="121.56" cy="94.60" rx="1.60" ry="4.39" fill="#f41010" fill-opacity="0.95" transform="rotate(118.3 121.56 94.60)"/>
<ellipse cx="114.15" cy="90.22" rx="1.60" ry="4.39" fill="#f41010" fill-opacity="0.95" transform="rotate(118.3 114.15 90.22)"/>
<ellipse cx="118.02" cy="92.11" rx="0.72" ry="3.87" fill="#f41010" fill-opacity="0.95" transform="rotate(118.3 118.02 92.11)"/>
<ellipse cx="119.52" cy="98.39" rx="1.60" ry="4.39" fill="#1414f4" fill-opacity="0.95" transform="rotate(118.3 119.52 98.39)"/>
<ellipse cx="112.07" cy="94.08" rx="1.60" ry="4.39" fill="#1414f4" fill-opacity="0.95" transform="rotate(118.3 112.07 94.08)"/>
<ellipse cx="116.03" cy="95.81" rx="0.72" ry="3.87" fill="#1414f4" fill-opacity="0.95" transform="rotate(118.3 116.03 95.81)"/>
<ellipse cx="117.47" cy="102.20" rx="1.60" ry="4.39" fill="#f41010" fill-opacity="0.95" transform="rotate(118.3 117.47 102.20)"/>
<ellipse cx="110.31" cy="97.35" rx="1.60" ry="4.39" fill="#f41010" fill-opacity="0.95" transform="rotate(118.3 110.31 97.35)"/>
<ellipse cx="114.04" cy="99.51" rx="0.72" ry="3.87" fill="#f41010" fill-opacity="0.95" transform="rotate(118.3 114.04 99.51)"/>
<ellipse cx="116.19" cy="104.57" rx="1.60" ry="4.39" fill="#1414f4" fill-opacity="0.95" transform="rotate(118.3 116.19 104.57)"/>
<ellipse cx="108.62" cy="100.49" rx="1.60" ry="4.39" fill="#1414f4" fill-opacity="0.95" transform="rotate(118.3 108.62 100.49)"/>
<ellipse cx="112.04" cy="103.20" rx="0.72" ry="3.87" fill="#1414f4" fill-opacity="0.95" transform="rotate(118.3 112.04 103.20)"/>
<ellipse cx="113.61" cy="109.37" rx="1.60" ry="4.39" fill="#f41010" fill-opacity="0.95" transform="rotate(118.3 113.61 109.37)"/>
<ellipse cx="106.61" cy="104.22" rx="1.60" ry="4.39" fill="#f41010" fill-opacity="0.95" transform="rotate(118.3 106.61 104.22)"/>
<ellipse cx="110.05" cy="106.90" rx="0.72" ry="3.87" fill="#f41010" fill-opacity="0.95" transform="rotate(118.3 110.05 106.90)"/>
<ellipse cx="111.69" cy="112.94" rx="1.60" ry="4.39" fill="#1414f4" fill-opacity="0.95" transform="rotate(118.3 111.69 112.94)"/>
<ellipse cx="104.15" cy="108.79" rx="1.60" ry="4.39" fill="#1414f4" fill-opacity="0.95" transform="rotate(118.3 104.15 108.79)"/>
<ellipse cx="108.06" cy="110.60" rx="0.72" ry="3.87" fill="#1414f4" fill-opacity="0.95" transform="rotate(118.3 108.06 110.60)"/>
<ellipse cx="110.32" cy="115.48" rx="1.60" ry="4.39" fill="#f41010" fill-opacity="0.95" transform="rotate(118.3 110.32 115.48)"/>
<ellipse cx="101.99" cy="112.81" rx="1.60" ry="4.39" fill="#f41010" fill-opacity="0.95" transform="rotate(118.3 101.99 112.81)"/>
<ellipse cx="106.07" cy="114.30" rx="0.72" ry="3.87" fill="#f41010" fill-opacity="0.95" transform="rotate(118.3 106.07 114.30)"/>
<ellipse cx="108.35" cy="119.13" rx="1.60" ry="4.39" fill="#1414f4" fill-opacity="0.95" transform="rotate(118.3 108.35 119.13)"/>
<ellipse cx="99.91" cy="116.67" rx="1.60" ry="4.39" fill="#1414f4" fill-opacity="0.95" transform="rotate(118.3 99.91 116.67)"/>
<ellipse cx="104.08" cy="118.00" rx="0.72" ry="3.87" fill="#1414f4" fill-opacity="0.95" transform="rotate(118.3 104.08 118.00)"/>
<ellipse cx="105.52" cy="124.39" rx="1.60" ry="4.39" fill="#f41010" fill-opacity="0.95" transform="rotate(118.3 105.52 124.39)"/>
<ellipse cx="98.60" cy="119.10" rx="1.60" ry="4.39" fill="#f41010" fill-opacity="0.95" transform="rotate(118.3 98.60 119.10)"/>
<ellipse cx="102.09" cy="121.69" rx="0.72" ry="3.87" fill="#f41010" fill-opacity="0.95" transform="rotate(118.3 102.09 121.69)"/>
<ellipse cx="103.65" cy="127.87" rx="1.60" ry="4.39" fill="#1414f4" fill-opacity="0.95" transform="rotate(118.3 103.65 127.87)"/>
<ellipse cx="96.07" cy="123.80" rx="1.60" ry="4.39" fill="#1414f4" fill-opacity="0.95" transform="rotate(118.3 96.07 123.80)"/>
<ellipse cx="100.10" cy="125.39" rx="0.72" ry="3.87" fill="#1414f4" fill-opacity="0.95" transform="rotate(118.3 100.10 125.39)"/>
<ellipse cx="42.35" cy="57.07" rx="3.20" ry="2.40" fill="#f07070" fill-opacity="0.8"/>
<ellipse cx="54.20" cy="57.07" rx="3.20" ry="2.40" fill="#f05050" fill-opacity="0.8"/>
<ellipse cx="66.05" cy="57.07" rx="3.20" ry="2.40" fill="#f03030" fill-opacity="0.8"/>
<ellipse cx="77.90" cy="57.07" rx="3.20" ry="2.40" fill="#f09090" fill-opacity="0.8"/>
<ellipse cx="89.75" cy="57.07" rx="3.20" ry="2.40" fill="#5050f0" fill-opacity="0.8"/>
<ellipse cx="101.60" cy="57.07" rx="3.20" ry="2.40" fill="#f08080" fill-opacity="0.8"/>
<ellipse cx="113.45" cy="57.07" rx="3.20" ry="2.40" fill="#4848f0" fill-opacity="0.8"/>
<ellipse cx="42.35" cy="76.09" rx="3.20" ry="2.40" fill="#f08080" fill-opacity="0.8"/>
<ellipse cx="54.20" cy="76.09" rx="3.20" ry="2.40" fill="#3c3cf0" fill-opacity="0.8"/>
<ellipse cx="66.05" cy="76.09" rx="3.20" ry="2.40" fill="#7070f0" fill-opacity="0.8"/>
<ellipse cx="77.90" cy="76.09" rx="3.20" ry="2.40" fill="#f08080" fill-opacity="0.8"/>
<ellipse cx="89.75" cy="76.09" rx="3.20" ry="2.40" fill="#f07070" fill-opacity="0.8"/>
<ellipse cx="101.60" cy="76.09" rx="3.20" ry="2.40" fill="#f07070" fill-opacity="0.8"/>
<ellipse cx="113.45" cy="76.09" rx="3.20" ry="2.40" fill="#4040f0" fill-opacity="0.8"/>
<ellipse cx="137.15" cy="123.71" rx="3.20" ry="2.40" fill="#f09090" fill-opacity="0.8"/>
<ellipse cx="149.00" cy="123.71" rx="3.20" ry="2.40" fill="#8080f0" fill-opacity="0.8"/>
<ellipse cx="160.85" cy="123.71" rx="3.20" ry="2.40" fill="#f08080" fill-opacity="0.8"/>
<ellipse cx="172.70" cy="123.71" rx="3.20" ry="2.40" fill="#f09090" fill-opacity="0.8"/>
<ellipse cx="184.55" cy="123.71" rx="3.20" ry="2.40" fill="#8080f0" fill-opacity="0.8"/>
<ellipse cx="125.30" cy="142.73" rx="3.20" ry="2.40" fill="#f08080" fill-opacity="0.8"/>
<ellipse cx="137.15" cy="142.73" rx="3.20" ry="2.40" fill="#8080f0" fill-opacity="0.8"/>
<ellipse cx="149.00" cy="142.73" rx="3.20" ry="2.40" fill="#f09090" fill-opacity="0.8"/>
<ellipse cx="160.85" cy="142.73" rx="3.20" ry="2.40" fill="#6060f0" fill-opacity="0.8"/>
<ellipse cx="172.70" cy="142.73" rx="3.20" ry="2.40" fill="#8080f0" fill-opacity="0.8"/>
<ellipse cx="184.55" cy="142.73" rx="3.20" ry="2.40" fill="#6060f0" fill-opacity="0.8"/>
<ellipse cx="121.30" cy="50.40" rx="2.86" ry="1.95" fill="#1616f0" fill-opacity="1.0"/>
<ellipse cx="125.00" cy="47.50" rx="1.43" ry="2.86" fill="#f01212" fill-opacity="1.0"/>
<ellipse cx="128.60" cy="49.70" rx="1.95" ry="1.95" fill="#1616f0" fill-opacity="1.0"/>
<ellipse cx="103.00" cy="60.00" rx="1.95" ry="2.60" fill="#1616f0" fill-opacity="1.0"/>
<ellipse cx="117.20" cy="58.50" rx="2.08" ry="2.60" fill="#1616f0" fill-opacity="1.0"/>
<ellipse cx="107.00" cy="62.10" rx="1.95" ry="2.86" fill="#f01212" fill-opacity="1.0"/>
<ellipse cx="115.40" cy="63.20" rx="2.34" ry="1.95" fill="#f01212" fill-opacity="1.0"/>
<ellipse cx="111.00" cy="63.60" rx="1.82" ry="1.95" fill="#1616f0" fill-opacity="1.0"/>
<ellipse cx="122.00" cy="62.50" rx="1.95" ry="2.08" fill="#f01212" fill-opacity="1.0"/>
<ellipse cx="127.10" cy="60.00" rx="1.82" ry="2.08" fill="#1616f0" fill-opacity="1.0"/>
<ellipse cx="115.00" cy="52.00" rx="3.25" ry="2.08" fill="#e86060" fill-opacity="1.0" transform="rotate(40.0 115.00 52.00)"/>
<ellipse cx="104.40" cy="50.40" rx="1.95" ry="1.95" fill="#e88080" fill-opacity="1.0"/>
<ellipse cx="135.70" cy="40.10" rx="2.08" ry="1.82" fill="#f01212" fill-opacity="1.0"/>
<ellipse cx="131.00" cy="48.40" rx="3.90" ry="1.82" fill="#1616f0" fill-opacity="1.0"/>
<ellipse cx="137.50" cy="49.30" rx="2.21" ry="2.21" fill="#f01212" fill-opacity="1.0"/>
<ellipse cx="130.20" cy="53.30" rx="1.95" ry="2.60" fill="#f01212" fill-opacity="1.0"/>
<ellipse cx="130.20" cy="58.50" rx="2.34" ry="1.69" fill="#1616f0" fill-opacity="1.0"/>
<ellipse cx="136.80" cy="61.40" rx="2.60" ry="1.82" fill="#f01212" fill-opacity="1.0"/>
<ellipse cx="129.50" cy="63.60" rx="1.95" ry="1.95" fill="#f01212" fill-opacity="1.0"/>
<ellipse cx="141.20" cy="57.00" rx="1.30" ry="2.86" fill="#1616f0" fill-opacity="1.0"/>
<ellipse cx="145.40" cy="55.50" rx="2.08" ry="4.16" fill="#f01212" fill-opacity="1.0"/>
<ellipse cx="142.70" cy="62.90" rx="1.95" ry="1.95" fill="#6060f0" fill-opacity="1.0"/>
<ellipse cx="131.30" cy="43.50" rx="3.90" ry="2.60" fill="#7070f0" fill-opacity="1.0"/>
<ellipse cx="114.90" cy="64.60" rx="2.34" ry="5.20" fill="#f01212" fill-opacity="1.0"/>
<ellipse cx="118.20" cy="69.00" rx="2.34" ry="4.29" fill="#1616f0" fill-opacity="1.0" transform="rotate(-30.0 118.20 69.00)"/>
<ellipse cx="122.30" cy="69.00" rx="2.86" ry="3.38" fill="#cc0000" fill-opacity="1.0"/>
<ellipse cx="126.00" cy="66.00" rx="2.08" ry="3.90" fill="#1616f0" fill-opacity="1.0" transform="rotate(-30.0 126.00 66.00)"/>
<ellipse cx="129.60" cy="63.90" rx="2.60" ry="2.86" fill="#cc0000" fill-opacity="1.0"/>
<ellipse cx="134.40" cy="65.30" rx="2.86" ry="3.38" fill="#0000c8" fill-opacity="1.0"/>
<ellipse cx="123.00" cy="61.00" rx="2.34" ry="1.95" fill="#f01212" fill-opacity="1.0"/>
<ellipse cx="137.00" cy="61.70" rx="2.60" ry="1.95" fill="#f01212" fill-opacity="1.0"/>
<ellipse cx="134.70" cy="70.80" rx="2.34" ry="1.95" fill="#f01212" fill-opacity="1.0"/>
<ellipse cx="128.10" cy="75.60" rx="1.95" ry="3.25" fill="#f01212" fill-opacity="1.0"/>
<ellipse cx="123.00" cy="74.90" rx="2.86" ry="2.08" fill="#1616f0" fill-opacity="1.0"/>
<ellipse cx="131.80" cy="74.90" rx="1.82" ry="2.60" fill="#1616f0" fill-opacity="1.0"/>
<ellipse cx="139.10" cy="71.20" rx="1.82" ry="2.08" fill="#1616f0" fill-opacity="1.0"/>
<ellipse cx="120.80" cy="78.50" rx="2.86" ry="2.08" fill="#f01212" fill-opacity="1.0" transform="rotate(30.0 120.80 78.50)"/>
<ellipse cx="127.00" cy="81.80" rx="2.34" ry="2.08" fill="#1616f0" fill-opacity="1.0"/>
<ellipse cx="131.00" cy="81.50" rx="1.56" ry="1.95" fill="#f01212" fill-opacity="1.0"/>
<ellipse cx="117.90" cy="81.50" rx="2.08" ry="1.56" fill="#1616f0" fill-opacity="1.0"/>
<ellipse cx="115.70" cy="85.90" rx="2.60" ry="1.95" fill="#f01212" fill-opacity="1.0"/>
<ellipse cx="126.70" cy="86.60" rx="2.08" ry="1.69" fill="#f01212" fill-opacity="1.0"/>
<ellipse cx="136.50" cy="77.00" rx="3.38" ry="3.90" fill="#4848f0" fill-opacity="1.0"/>
<ellipse cx="125.30" cy="99.40" rx="3.90" ry="3.90" fill="#6a6af0" fill-opacity="1.0"/>
<ellipse cx="101.50" cy="99.80" rx="3.90" ry="3.90" fill="#f07070" fill-opacity="1.0"/>
<ellipse cx="90.50" cy="129.20" rx="2.60" ry="2.08" fill="#1616f0" fill-opacity="1.0"/>
<ellipse cx="86.50" cy="127.00" rx="2.08" ry="2.60" fill="#f01212" fill-opacity="1.0"/>
<ellipse cx="93.00" cy="132.90" rx="2.60" ry="1.95" fill="#f01212" fill-opacity="1.0"/>
<ellipse cx="94.50" cy="125.50" rx="1.56" ry="2.60" fill="#f01212" fill-opacity="1.0"/>
<ellipse cx="85.00" cy="111.20" rx="3.90" ry="3.90" fill="#5c5cf0" fill-opacity="1.0"/>
<ellipse cx="89.80" cy="122.60" rx="4.16" ry="4.16" fill="#f05858" fill-opacity="1.0"/>
<ellipse cx="81.40" cy="125.10" rx="2.08" ry="2.60" fill="#1616f0" fill-opacity="1.0"/>
<ellipse cx="85.80" cy="126.60" rx="2.08" ry="2.60" fill="#f01212" fill-opacity="1.0"/>
<ellipse cx="93.50" cy="125.90" rx="1.95" ry="2.60" fill="#f01212" fill-opacity="1.0"/>
<ellipse cx="90.20" cy="129.50" rx="2.60" ry="2.08" fill="#1616f0" fill-opacity="1.0"/>
<ellipse cx="92.00" cy="134.00" rx="2.60" ry="2.60" fill="#f01212" fill-opacity="1.0"/>
<ellipse cx="95.70" cy="134.70" rx="1.95" ry="3.25" fill="#1616f0" fill-opacity="1.0"/>
<ellipse cx="95.70" cy="140.50" rx="2.60" ry="2.34" fill="#f01212" fill-opacity="1.0"/>
<ellipse cx="89.00" cy="138.30" rx="1.95" ry="1.95" fill="#1616f0" fill-opacity="1.0"/>
<ellipse cx="96.40" cy="145.70" rx="2.08" ry="2.08" fill="#1616f0" fill-opacity="1.0"/>
<ellipse cx="84.70" cy="140.50" rx="1.56" ry="3.25" fill="#f01212" fill-opacity="1.0"/>
<ellipse cx="81.70" cy="141.30" rx="1.82" ry="3.25" fill="#1616f0" fill-opacity="1.0"/>
<ellipse cx="77.30" cy="138.30" rx="2.60" ry="1.95" fill="#f01212" fill-opacity="1.0"/>
<ellipse cx="75.90" cy="133.20" rx="1.95" ry="2.60" fill="#1616f0" fill-opacity="1.0"/>
<ellipse cx="71.50" cy="132.80" rx="3.90" ry="3.90" fill="#6c6cf0" fill-opacity="1.0"/>
<ellipse cx="83.90" cy="133.20" rx="3.90" ry="3.90" fill="#ec8080" fill-opacity="1.0"/>
<ellipse cx="102.80" cy="125.30" rx="2.60" ry="2.60" fill="#cc0000" fill-opacity="1.0"/>
<ellipse cx="104.20" cy="130.50" rx="2.60" ry="2.60" fill="#0000c8" fill-opacity="1.0"/>
<ellipse cx="100.60" cy="134.10" rx="2.60" ry="3.25" fill="#f01212" fill-opacity="1.0"/>
<ellipse cx="109.00" cy="131.20" rx="2.34" ry="3.90" fill="#f01212" fill-opacity="1.0"/>
<ellipse cx="106.10" cy="126.40" rx="1.82" ry="2.60" fill="#1616f0" fill-opacity="1.0"/>
<ellipse cx="112.00" cy="134.90" rx="1.95" ry="3.25" fill="#1616f0" fill-opacity="1.0"/>
<ellipse cx="99.50" cy="119.50" rx="2.60" ry="1.95" fill="#f01212" fill-opacity="1.0"/>
<ellipse cx="104.60" cy="120.20" rx="1.95" ry="1.95" fill="#1616f0" fill-opacity="1.0"/>
<ellipse cx="108.30" cy="119.50" rx="1.95" ry="1.95" fill="#f01212" fill-opacity="1.0"/>
<ellipse cx="98.70" cy="126.80" rx="1.56" ry="3.25" fill="#1616f0" fill-opacity="1.0"/>
<ellipse cx="109.00" cy="140.00" rx="1.56" ry="2.08" fill="#f01212" fill-opacity="1.0"/>
<ellipse cx="80.40" cy="142.60" rx="1.82" ry="3.64" fill="#1616f0" fill-opacity="1.0"/>
<ellipse cx="86.00" cy="142.60" rx="1.43" ry="2.99" fill="#f01212" fill-opacity="1.0"/>
<ellipse cx="90.50" cy="137.50" rx="1.82" ry="1.82" fill="#1616f0" fill-opacity="1.0"/>
<ellipse cx="102.00" cy="151.50" rx="1.56" ry="2.60" fill="#1616f0" fill-opacity="1.0"/>
<ellipse cx="107.10" cy="149.00" rx="1.95" ry="1.95" fill="#f01212" fill-opacity="1.0"/>
<ellipse cx="98.20" cy="137.50" rx="1.82" ry="1.82" fill="#1616f0" fill-opacity="1.0"/>
<ellipse cx="108.40" cy="140.00" rx="1.82" ry="1.82" fill="#f01212" fill-opacity="1.0"/>
<ellipse cx="113.50" cy="147.70" rx="1.43" ry="2.34" fill="#1616f0" fill-opacity="1.0"/>
<ellipse cx="90.50" cy="159.20" rx="1.43" ry="1.82" fill="#1616f0" fill-opacity="1.0"/>
<ellipse cx="100.70" cy="161.70" rx="1.82" ry="1.43" fill="#1616f0" fill-opacity="1.0"/>
<ellipse cx="77.80" cy="137.50" rx="2.34" ry="1.43" fill="#f01212" fill-opacity="1.0"/>
<ellipse cx="95.60" cy="152.50" rx="2.86" ry="2.08" fill="#f01212" fill-opacity="1.0"/>
</g>
<circle cx="36.42" cy="22.15" r="3.85" fill="#dcd8dc" fill-opacity="0.45" stroke="#404040" stroke-width="1.2"/>
<circle cx="48.27" cy="22.15" r="3.85" fill="#dcd8dc" fill-opacity="0.45" stroke="#404040" stroke-width="1.2"/>
<circle cx="60.12" cy="22.15" r="3.85" fill="#dcd8dc" fill-opacity="0.45" stroke="#404040" stroke-width="1.2"/>
<circle cx="71.97" cy="22.15" r="3.85" fill="#dcd8dc" fill-opacity="0.45" stroke="#404040" stroke-width="1.2"/>
<circle cx="83.82" cy="22.15" r="3.85" fill="#dcd8dc" fill-opacity="0.45" stroke="#404040" stroke-width="1.2"/>
<circle cx="95.67" cy="22.15" r="3.85" fill="#dcd8dc" fill-opacity="0.45" stroke="#404040" stroke-width="1.2"/>
<circle cx="107.52" cy="22.15" r="3.85" fill="#dcd8dc" fill-opacity="0.45" stroke="#404040" stroke-width="1.2"/>
<circle cx="119.38" cy="22.15" r="3.85" fill="#dcd8dc" fill-opacity="0.45" stroke="#404040" stroke-width="1.2"/>
<circle cx="131.22" cy="22.15" r="3.85" fill="#dcd8dc" fill-opacity="0.45" stroke="#404040" stroke-width="1.2"/>
<circle cx="143.07" cy="22.15" r="3.85" fill="#dcd8dc" fill-opacity="0.45" stroke="#404040" stroke-width="1.2"/>
<circle cx="154.93" cy="22.15" r="3.85" fill="#dcd8dc" fill-opacity="0.45" stroke="#404040" stroke-width="1.2"/>
<circle cx="166.77" cy="22.15" r="3.85" fill="#dcd8dc" fill-opacity="0.45" stroke="#404040" stroke-width="1.2"/>
<circle cx="178.62" cy="22.15" r="3.85" fill="#dcd8dc" fill-opacity="0.45" stroke="#404040" stroke-width="1.2"/>
<circle cx="190.47" cy="22.15" r="3.85" fill="#dcd8dc" fill-opacity="0.45" stroke="#404040" stroke-width="1.2"/>
<circle cx="30.50" cy="33.26" r="3.85" fill="#dcd8dc" fill-opacity="0.45" stroke="#404040" stroke-width="1.2"/>
<circle cx="42.35" cy="33.26" r="3.85" fill="#dcd8dc" fill-opacity="0.45" stroke="#404040" stroke-width="1.2"/>
<circle cx="54.20" cy="33.26" r="3.85" fill="#dcd8dc" fill-opacity="0.45" stroke="#404040" stroke-width="1.2"/>
<circle cx="66.05" cy="33.26" r="3.85" fill="#dcd8dc" fill-opacity="0.45" stroke="#404040" stroke-width="1.2"/>
<circle cx="77.90" cy="33.26" r="3.85" fill="#dcd8dc" fill-opacity="0.45" stroke="#404040" stroke-width="1.2"/>
<circle cx="89.75" cy="33.26" r="3.85" fill="#dcd8dc" fill-opacity="0.45" stroke="#404040" stroke-width="1.2"/>
<circle cx="101.60" cy="33.26" r="3.85" fill="#dcd8dc" fill-opacity="0.45" stroke="#404040" stroke-width="1.2"/>
<circle cx="113.45" cy="33.26" r="3.85" fill="#dcd8dc" fill-opacity="0.45" stroke="#404040" stroke-width="1.2"/>
<linearGradient id="ga1_8" gradientTransform="rotate(0 0.5 0.5)"><stop offset="0" stop-color="#e8a0a0"/><stop offset="1" stop-color="#e0c8cc"/></linearGradient>
<circle cx="125.30" cy="33.26" r="3.85" fill="url(#ga1_8)" stroke="#404040" stroke-width="1.2"/>
<circle cx="137.15" cy="33.26" r="3.85" fill="#dcd8dc" fill-opacity="0.45" stroke="#404040" stroke-width="1.2"/>
<circle cx="149.00" cy="33.26" r="3.85" fill="#dcd8dc" fill-opacity="0.45" stroke="#404040" stroke-width="1.2"/>
<circle cx="160.85" cy="33.26" r="3.85" fill="#dcd8dc" fill-opacity="0.45" stroke="#404040" stroke-width="1.2"/>
<circle cx="172.70" cy="33.26" r="3.85" fill="#dcd8dc" fill-opacity="0.45" stroke="#404040" stroke-width="1.2"/>
<circle cx="184.55" cy="33.26" r="3.85" fill="#dcd8dc" fill-opacity="0.45" stroke="#404040" stroke-width="1.2"/>
<circle cx="196.40" cy="33.26" r="3.85" fill="#dcd8dc" fill-opacity="0.45" stroke="#404040" stroke-width="1.2"/>
<circle cx="36.42" cy="44.37" r="3.85" fill="#dcd8dc" fill-opacity="0.45" stroke="#404040" stroke-width="1.2"/>
<circle cx="48.27" cy="44.37" r="3.85" fill="#dcd8dc" fill-opacity="0.45" stroke="#404040" stroke-width="1.2"/>
<circle cx="60.12" cy="44.37" r="3.85" fill="#dcd8dc" fill-opacity="0.45" stroke="#404040" stroke-width="1.2"/>
<circle cx="71.97" cy="44.37" r="3.85" fill="#dcd8dc" fill-opacity="0.45" stroke="#404040" stroke-width="1.2"/>
<circle cx="83.82" cy="44.37" r="3.85" fill="#dcd8dc" fill-opacity="0.45" stroke="#404040" stroke-width="1.2"/>
<circle cx="95.67" cy="44.37" r="3.85" fill="#dcd8dc" fill-opacity="0.45" stroke="#404040" stroke-width="1.2"/>
<circle cx="107.52" cy="44.37" r="3.85" fill="#dcd8dc" fill-opacity="0.45" stroke="#404040" stroke-width="1.2"/>
<circle cx="119.38" cy="44.37" r="3.85" fill="#dcd8dc" fill-opacity="0.45" stroke="#404040" stroke-width="1.2"/>
<linearGradient id="ga2_8" gradientTransform="rotate(90 0.5 0.5)"><stop offset="0" stop-color="#5050e8"/><stop offset="1" stop-color="#2020c0"/></linearGradient>
<circle cx="131.22" cy="44.37" r="3.85" fill="url(#ga2_8)" stroke="#404040" stroke-width="1.2"/>
<linearGradient id="ga2_9" gradientTransform="rotate(0 0.5 0.5)"><stop offset="0" stop-color="#c0c0e8"/><stop offset="1" stop-color="#d0d0e8"/></linearGradient>
<circle cx="143.07" cy="44.37" r="3.85" fill="url(#ga2_9)" stroke="#404040" stroke-width="1.2"/>
<circle cx="154.93" cy="44.37" r="3.85" fill="#dcd8dc" fill-opacity="0.45" stroke="#404040" stroke-width="1.2"/>
<circle cx="166.77" cy="44.37" r="3.85" fill="#dcd8dc" fill-opacity="0.45" stroke="#404040" stroke-width="1.2"/>
<circle cx="178.62" cy="44.37" r="3.85" fill="#dcd8dc" fill-opacity="0.45" stroke="#404040" stroke-width="1.2"/>
<circle cx="190.47" cy="44.37" r="3.85" fill="#dcd8dc" fill-opacity="0.45" stroke="#404040" stroke-width="1.2"/>
<circle cx="30.50" cy="55.47" r="3.85" fill="#dcd8dc" fill-opacity="0.45" stroke="#404040" stroke-width="1.2"/>
<circle cx="42.35" cy="55.47" r="3.85" fill="#dcd8dc" fill-opacity="0.45" stroke="#404040" stroke-width="1.2"/>
<linearGradient id="ga3_2" gradientTransform="rotate(90 0.5 0.5)"><stop offset="0" stop-color="#e0b0b0"/><stop offset="1" stop-color="#f07070"/></linearGradient>
<circle cx="54.20" cy="55.47" r="3.85" fill="url(#ga3_2)" stroke="#404040" stroke-width="1.2"/>
<linearGradient id="ga3_3" gradientTransform="rotate(90 0.5 0.5)"><stop offset="0" stop-color="#e0a0a0"/><stop offset="1" stop-color="#f04040"/></linearGradient>
<circle cx="66.05" cy="55.47" r="3.85" fill="url(#ga3_3)" stroke="#404040" stroke-width="1.2"/>
<circle cx="77.90" cy="55.47" r="3.85" fill="#dcd8dc" fill-opacity="0.45" stroke="#404040" stroke-width="1.2"/>
<circle cx="89.75" cy="55.47" r="3.85" fill="#dcd8dc" fill-opacity="0.45" stroke="#404040" stroke-width="1.2"/>
<circle cx="101.60" cy="55.47" r="3.85" fill="#dcd8dc" fill-opacity="0.45" stroke="#404040" stroke-width="1.2"/>
<circle cx="113.45" cy="55.47" r="3.85" fill="#dcd8dc" fill-opacity="0.45" stroke="#404040" stroke-width="1.2"/>
<linearGradient id="ga3_8" gradientTransform="rotate(0 0.5 0.5)"><stop offset="0" stop-color="#e8a8a8"/><stop offset="1" stop-color="#e0c0c0"/></linearGradient>
<circle cx="125.30" cy="55.47" r="3.85" fill="url(#ga3_8)" stroke="#404040" stroke-width="1.2"/>
<linearGradient id="ga3_9" gradientTransform="rotate(0 0.5 0.5)"><stop offset="0" stop-color="#e0c8cc"/><stop offset="1" stop-color="#f06060"/></linearGradient>
<circle cx="137.15" cy="55.47" r="3.85" fill="url(#ga3_9)" stroke="#404040" stroke-width="1.2"/>
<linearGradient id="ga3_10" gradientTransform="rotate(0 0.5 0.5)"><stop offset="0" stop-color="#e83030"/><stop offset="1" stop-color="#e0c8cc"/></linearGradient>
<circle cx="149.00" cy="55.47" r="3.85" fill="url(#ga3_10)" stroke="#404040" stroke-width="1.2"/>
<circle cx="160.85" cy="55.47" r="3.85" fill="#dcd8dc" fill-opacity="0.45" stroke="#404040" stroke-width="1.2"/>
<circle cx="172.70" cy="55.47" r="3.85" fill="#dcd8dc" fill-opacity="0.45" stroke="#404040" stroke-width="1.2"/>
<circle cx="184.55" cy="55.47" r="3.85" fill="#dcd8dc" fill-opacity="0.45" stroke="#404040" stroke-width="1.2"/>
<circle cx="196.40" cy="55.47" r="3.85" fill="#dcd8dc" fill-opacity="0.45" stroke="#404040" stroke-width="1.2"/>
<linearGradient id="ga4_9" gradientTransform="rotate(45 0.5 0.5)"><stop offset="0" stop-color="#6868e8"/><stop offset="1" stop-color="#c8c8e8"/></linearGradient>
<circle cx="143.07" cy="66.58" r="3.85" fill="url(#ga4_9)" stroke="#404040" stroke-width="1.2"/>
<linearGradient id="ga4_10" gradientTransform="rotate(0 0.5 0.5)"><stop offset="0" stop-color="#f04848"/><stop offset="1" stop-color="#e0c8cc"/></linearGradient>
<circle cx="154.93" cy="66.58" r="3.85" fill="url(#ga4_10)" stroke="#404040" stroke-width="1.2"/>
<circle cx="166.77" cy="66.58" r="3.85" fill="#dcd8dc" fill-opacity="0.45" stroke="#404040" stroke-width="1.2"/>
<circle cx="178.62" cy="66.58" r="3.85" fill="#dcd8dc" fill-opacity="0.45" stroke="#404040" stroke-width="1.2"/>
<circle cx="190.47" cy="66.58" r="3.85" fill="#dcd8dc" fill-opacity="0.45" stroke="#404040" stroke-width="1.2"/>
<circle cx="30.50" cy="77.69" r="3.85" fill="#dcd8dc" fill-opacity="0.45" stroke="#404040" stroke-width="1.2"/>
<circle cx="42.35" cy="77.69" r="3.85" fill="#dcd8dc" fill-opacity="0.45" stroke="#404040" stroke-width="1.2"/>
<linearGradient id="ga5_2" gradientTransform="rotate(90 0.5 0.5)"><stop offset="0" stop-color="#3838e0"/><stop offset="1" stop-color="#b0b0e8"/></linearGradient>
<circle cx="54.20" cy="77.69" r="3.85" fill="url(#ga5_2)" stroke="#404040" stroke-width="1.2"/>
<circle cx="66.05" cy="77.69" r="3.85" fill="#dcd8dc" fill-opacity="0.45" stroke="#404040" stroke-width="1.2"/>
<circle cx="77.90" cy="77.69" r="3.85" fill="#dcd8dc" fill-opacity="0.45" stroke="#404040" stroke-width="1.2"/>
<circle cx="89.75" cy="77.69" r="3.85" fill="#dcd8dc" fill-opacity="0.45" stroke="#404040" stroke-width="1.2"/>
<circle cx="101.60" cy="77.69" r="3.85" fill="#dcd8dc" fill-opacity="0.45" stroke="#404040" stroke-width="1.2"/>
<circle cx="113.45" cy="77.69" r="3.85" fill="#dcd8dc" fill-opacity="0.45" stroke="#404040" stroke-width="1.2"/>
<linearGradient id="ga5_9" gradientTransform="rotate(45 0.5 0.5)"><stop offset="0" stop-color="#3030e0"/><stop offset="1" stop-color="#c8c8e8"/></linearGradient>
<circle cx="137.15" cy="77.69" r="3.85" fill="url(#ga5_9)" stroke="#404040" stroke-width="1.2"/>
<linearGradient id="ga5_10" gradientTransform="rotate(20 0.5 0.5)"><stop offset="0" stop-color="#f06060"/><stop offset="1" stop-color="#e0c8cc"/></linearGradient>
<circle cx="149.00" cy="77.69" r="3.85" fill="url(#ga5_10)" stroke="#404040" stroke-width="1.2"/>
<circle cx="160.85" cy="77.69" r="3.85" fill="#dcd8dc" fill-opacity="0.45" stroke="#404040" stroke-width="1.2"/>
<circle cx="172.70" cy="77.69" r="3.85" fill="#dcd8dc" fill-opacity="0.45" stroke="#404040" stroke-width="1.2"/>
<circle cx="184.55" cy="77.69" r="3.85" fill="#dcd8dc" fill-opacity="0.45" stroke="#404040" stroke-width="1.2"/>
<circle cx="196.40" cy="77.69" r="3.85" fill="#dcd8dc" fill-opacity="0.45" stroke="#404040" stroke-width="1.2"/>
<circle cx="36.42" cy="88.79" r="3.85" fill="#dcd8dc" fill-opacity="0.45" stroke="#404040" stroke-width="1.2"/>
<circle cx="48.27" cy="88.79" r="3.85" fill="#dcd8dc" fill-opacity="0.45" stroke="#404040" stroke-width="1.2"/>
<circle cx="60.12" cy="88.79" r="3.85" fill="#dcd8dc" fill-opacity="0.45" stroke="#404040" stroke-width="1.2"/>
<circle cx="71.97" cy="88.79" r="3.85" fill="#dcd8dc" fill-opacity="0.45" stroke="#404040" stroke-width="1.2"/>
<circle cx="83.82" cy="88.79" r="3.85" fill="#dcd8dc" fill-opacity="0.45" stroke="#404040" stroke-width="1.2"/>
<circle cx="95.67" cy="88.79" r="3.85" fill="#dcd8dc" fill-opacity="0.45" stroke="#404040" stroke-width="1.2"/>
<linearGradient id="ga6_6" gradientTransform="rotate(0 0.5 0.5)"><stop offset="0" stop-color="#b8b8e8"/><stop offset="1" stop-color="#c8c8e8"/></linearGradient>
<circle cx="107.52" cy="88.79" r="3.85" fill="url(#ga6_6)" stroke="#404040" stroke-width="1.2"/>
<linearGradient id="ga6_8" gradientTransform="rotate(0 0.5 0.5)"><stop offset="0" stop-color="#f05050"/><stop offset="1" stop-color="#e0b8b8"/></linearGradient>
<circle cx="131.22" cy="88.79" r="3.85" fill="url(#ga6_8)" stroke="#404040" stroke-width="1.2"/>
<linearGradient id="ga6_9" gradientTransform="rotate(0 0.5 0.5)"><stop offset="0" stop-color="#e0c8cc"/><stop offset="1" stop-color="#f09090"/></linearGradient>
<circle cx="143.07" cy="88.79" r="3.85" fill="url(#ga6_9)" stroke="#404040" stroke-width="1.2"/>
<circle cx="154.93" cy="88.79" r="3.85" fill="#dcd8dc" fill-opacity="0.45" stroke="#404040" stroke-width="1.2"/>
<circle cx="166.77" cy="88.79" r="3.85" fill="#dcd8dc" fill-opacity="0.45" stroke="#404040" stroke-width="1.2"/>
<circle cx="178.62" cy="88.79" r="3.85" fill="#dcd8dc" fill-opacity="0.45" stroke="#404040" stroke-width="1.2"/>
<circle cx="190.47" cy="88.79" r="3.85" fill="#dcd8dc" fill-opacity="0.45" stroke="#404040" stroke-width="1.2"/>
<circle cx="30.50" cy="99.90" r="3.85" fill="#dcd8dc" fill-opacity="0.45" stroke="#404040" stroke-width="1.2"/>
<circle cx="42.35" cy="99.90" r="3.85" fill="#dcd8dc" fill-opacity="0.45" stroke="#404040" stroke-width="1.2"/>
<circle cx="54.20" cy="99.90" r="3.85" fill="#dcd8dc" fill-opacity="0.45" stroke="#404040" stroke-width="1.2"/>
<circle cx="66.05" cy="99.90" r="3.85" fill="#dcd8dc" fill-opacity="0.45" stroke="#404040" stroke-width="1.2"/>
<circle cx="77.90" cy="99.90" r="3.85" fill="#dcd8dc" fill-opacity="0.45" stroke="#404040" stroke-width="1.2"/>
<circle cx="89.75" cy="99.90" r="3.85" fill="#dcd8dc" fill-opacity="0.45" stroke="#404040" stroke-width="1.2"/>
<linearGradient id="ga7_6" gradientTransform="rotate(0 0.5 0.5)"><stop offset="0" stop-color="#f08080"/><stop offset="1" stop-color="#e05050"/></linearGradient>
<circle cx="101.60" cy="99.90" r="3.85" fill="url(#ga7_6)" stroke="#404040" stroke-width="1.2"/>
<linearGradient id="ga7_8" gradientTransform="rotate(0 0.5 0.5)"><stop offset="0" stop-color="#6060e8"/><stop offset="1" stop-color="#9090e8"/></linearGradient>
<circle cx="125.30" cy="99.90" r="3.85" fill="url(#ga7_8)" stroke="#404040" stroke-width="1.2"/>
<circle cx="137.15" cy="99.90" r="3.85" fill="#dcd8dc" fill-opacity="0.45" stroke="#404040" stroke-width="1.2"/>
<circle cx="149.00" cy="99.90" r="3.85" fill="#dcd8dc" fill-opacity="0.45" stroke="#404040" stroke-width="1.2"/>
<circle cx="160.85" cy="99.90" r="3.85" fill="#dcd8dc" fill-opacity="0.45" stroke="#404040" stroke-width="1.2"/>
<circle cx="172.70" cy="99.90" r="3.85" fill="#dcd8dc" fill-opacity="0.45" stroke="#404040" stroke-width="1.2"/>
<circle cx="184.55" cy="99.90" r="3.85" fill="#dcd8dc" fill-opacity="0.45" stroke="#404040" stroke-width="1.2"/>
<circle cx="196.40" cy="99.90" r="3.85" fill="#dcd8dc" fill-opacity="0.45" stroke="#404040" stroke-width="1.2"/>
<circle cx="36.42" cy="111.01" r="3.85" fill="#dcd8dc" fill-opacity="0.45" stroke="#404040" stroke-width="1.2"/>
<circle cx="48.27" cy="111.01" r="3.85" fill="#dcd8dc" fill-opacity="0.45" stroke="#404040" stroke-width="1.2"/>
<circle cx="60.12" cy="111.01" r="3.85" fill="#dcd8dc" fill-opacity="0.45" stroke="#404040" stroke-width="1.2"/>
<circle cx="71.97" cy="111.01" r="3.85" fill="#dcd8dc" fill-opacity="0.45" stroke="#404040" stroke-width="1.2"/>
<linearGradient id="ga8_4" gradientTransform="rotate(0 0.5 0.5)"><stop offset="0" stop-color="#7070e8"/><stop offset="1" stop-color="#5050e0"/></linearGradient>
<circle cx="83.82" cy="111.01" r="3.85" fill="url(#ga8_4)" stroke="#404040" stroke-width="1.2"/>
<linearGradient id="ga8_5" gradientTransform="rotate(0 0.5 0.5)"><stop offset="0" stop-color="#f0a0a0"/><stop offset="1" stop-color="#6060e0"/></linearGradient>
<circle cx="95.67" cy="111.01" r="3.85" fill="url(#ga8_5)" stroke="#404040" stroke-width="1.2"/>
<circle cx="119.38" cy="111.01" r="3.85" fill="#dcd8dc" fill-opacity="0.45" stroke="#404040" stroke-width="1.2"/>
<circle cx="131.22" cy="111.01" r="3.85" fill="#dcd8dc" fill-opacity="0.45" stroke="#404040" stroke-width="1.2"/>
<circle cx="143.07" cy="111.01" r="3.85" fill="#dcd8dc" fill-opacity="0.45" stroke="#404040" stroke-width="1.2"/>
<circle cx="154.93" cy="111.01" r="3.85" fill="#dcd8dc" fill-opacity="0.45" stroke="#404040" stroke-width="1.2"/>
<circle cx="166.77" cy="111.01" r="3.85" fill="#dcd8dc" fill-opacity="0.45" stroke="#404040" stroke-width="1.2"/>
<circle cx="178.62" cy="111.01" r="3.85" fill="#dcd8dc" fill-opacity="0.45" stroke="#404040" stroke-width="1.2"/>
<circle cx="190.47" cy="111.01" r="3.85" fill="#dcd8dc" fill-opacity="0.45" stroke="#404040" stroke-width="1.2"/>
<circle cx="30.50" cy="122.11" r="3.85" fill="#dcd8dc" fill-opacity="0.45" stroke="#404040" stroke-width="1.2"/>
<circle cx="42.35" cy="122.11" r="3.85" fill="#dcd8dc" fill-opacity="0.45" stroke="#404040" stroke-width="1.2"/>
<circle cx="54.20" cy="122.11" r="3.85" fill="#dcd8dc" fill-opacity="0.45" stroke="#404040" stroke-width="1.2"/>
<circle cx="66.05" cy="122.11" r="3.85" fill="#dcd8dc" fill-opacity="0.45" stroke="#404040" stroke-width="1.2"/>
<linearGradient id="ga9_4" gradientTransform="rotate(45 0.5 0.5)"><stop offset="0" stop-color="#e0c0c8"/><stop offset="1" stop-color="#6060e0"/></linearGradient>
<circle cx="77.90" cy="122.11" r="3.85" fill="url(#ga9_4)" stroke="#404040" stroke-width="1.2"/>
<linearGradient id="ga9_5" gradientTransform="rotate(0 0.5 0.5)"><stop offset="0" stop-color="#f05050"/><stop offset="1" stop-color="#e84040"/></linearGradient>
<circle cx="89.75" cy="122.11" r="3.85" fill="url(#ga9_5)" stroke="#404040" stroke-width="1.2"/>
<linearGradient id="ga9_7" gradientTransform="rotate(0 0.5 0.5)"><stop offset="0" stop-color="#f06060"/><stop offset="1" stop-color="#e0c0c0"/></linearGradient>
<circle cx="113.45" cy="122.11" r="3.85" fill="url(#ga9_7)" stroke="#404040" stroke-width="1.2"/>
<circle cx="125.30" cy="122.11" r="3.85" fill="#dcd8dc" fill-opacity="0.45" stroke="#404040" stroke-width="1.2"/>
<circle cx="137.15" cy="122.11" r="3.85" fill="#dcd8dc" fill-opacity="0.45" stroke="#404040" stroke-width="1.2"/>
<circle cx="149.00" cy="122.11" r="3.85" fill="#dcd8dc" fill-opacity="0.45" stroke="#404040" stroke-width="1.2"/>
<circle cx="160.85" cy="122.11" r="3.85" fill="#dcd8dc" fill-opacity="0.45" stroke="#404040" stroke-width="1.2"/>
<circle cx="172.70" cy="122.11" r="3.85" fill="#dcd8dc" fill-opacity="0.45" stroke="#404040" stroke-width="1.2"/>
<circle cx="184.55" cy="122.11" r="3.85" fill="#dcd8dc" fill-opacity="0.45" stroke="#404040" stroke-width="1.2"/>
<circle cx="196.40" cy="122.11" r="3.85" fill="#dcd8dc" fill-opacity="0.45" stroke="#404040" stroke-width="1.2"/>
<circle cx="36.42" cy="133.22" r="3.85" fill="#dcd8dc" fill-opacity="0.45" stroke="#404040" stroke-width="1.2"/>
<circle cx="48.27" cy="133.22" r="3.85" fill="#dcd8dc" fill-opacity="0.45" stroke="#404040" stroke-width="1.2"/>
<circle cx="60.12" cy="133.22" r="3.85" fill="#dcd8dc" fill-opacity="0.45" stroke="#404040" stroke-width="1.2"/>
<linearGradient id="ga10_3" gradientTransform="rotate(0 0.5 0.5)"><stop offset="0" stop-color="#5050e0"/><stop offset="1" stop-color="#8080e8"/></linearGradient>
<circle cx="71.97" cy="133.22" r="3.85" fill="url(#ga10_3)" stroke="#404040" stroke-width="1.2"/>
<linearGradient id="ga10_4" gradientTransform="rotate(0 0.5 0.5)"><stop offset="0" stop-color="#f08080"/><stop offset="1" stop-color="#f0a0a0"/></linearGradient>
<circle cx="83.82" cy="133.22" r="3.85" fill="url(#ga10_4)" stroke="#404040" stroke-width="1.2"/>
<circle cx="30.50" cy="144.33" r="3.85" fill="#dcd8dc" fill-opacity="0.45" stroke="#404040" stroke-width="1.2"/>
<circle cx="42.35" cy="144.33" r="3.85" fill="#dcd8dc" fill-opacity="0.45" stroke="#404040" stroke-width="1.2"/>
<circle cx="54.20" cy="144.33" r="3.85" fill="#dcd8dc" fill-opacity="0.45" stroke="#404040" stroke-width="1.2"/>
<circle cx="66.05" cy="144.33" r="3.85" fill="#dcd8dc" fill-opacity="0.45" stroke="#404040" stroke-width="1.2"/>
<linearGradient id="ga11_4" gradientTransform="rotate(0 0.5 0.5)"><stop offset="0" stop-color="#d0d0e8"/><stop offset="1" stop-color="#5050e0"/></linearGradient>
<circle cx="77.90" cy="144.33" r="3.85" fill="url(#ga11_4)" stroke="#404040" stroke-width="1.2"/>
<linearGradient id="ga11_5" gradientTransform="rotate(90 0.5 0.5)"><stop offset="0" stop-color="#9090e8"/><stop offset="1" stop-color="#d0d0e8"/></linearGradient>
<circle cx="89.75" cy="144.33" r="3.85" fill="url(#ga11_5)" stroke="#404040" stroke-width="1.2"/>
<circle cx="101.60" cy="144.33" r="3.85" fill="#dcd8dc" fill-opacity="0.45" stroke="#404040" stroke-width="1.2"/>
<circle cx="113.45" cy="144.33" r="3.85" fill="#dcd8dc" fill-opacity="0.45" stroke="#404040" stroke-width="1.2"/>
<circle cx="125.30" cy="144.33" r="3.85" fill="#dcd8dc" fill-opacity="0.45" stroke="#404040" stroke-width="1.2"/>
<circle cx="137.15" cy="144.33" r="3.85" fill="#dcd8dc" fill-opacity="0.45" stroke="#404040" stroke-width="1.2"/>
<circle cx="149.00" cy="144.33" r="3.85" fill="#dcd8dc" fill-opacity="0.45" stroke="#404040" stroke-width="1.2"/>
<circle cx="160.85" cy="144.33" r="3.85" fill="#dcd8dc" fill-opacity="0.45" stroke="#404040" stroke-width="1.2"/>
<circle cx="172.70" cy="144.33" r="3.85" fill="#dcd8dc" fill-opacity="0.45" stroke="#404040" stroke-width="1.2"/>
<circle cx="184.55" cy="144.33" r="3.85" fill="#dcd8dc" fill-opacity="0.45" stroke="#404040" stroke-width="1.2"/>
<circle cx="196.40" cy="144.33" r="3.85" fill="#dcd8dc" fill-opacity="0.45" stroke="#404040" stroke-width="1.2"/>
<circle cx="36.42" cy="155.43" r="3.85" fill="#dcd8dc" fill-opacity="0.45" stroke="#404040" stroke-width="1.2"/>
<circle cx="48.27" cy="155.43" r="3.85" fill="#dcd8dc" fill-opacity="0.45" stroke="#404040" stroke-width="1.2"/>
<linearGradient id="ga12_2" gradientTransform="rotate(90 0.5 0.5)"><stop offset="0" stop-color="#f03030"/><stop offset="1" stop-color="#e0b0b0"/></linearGradient>
<circle cx="60.12" cy="155.43" r="3.85" fill="url(#ga12_2)" stroke="#404040" stroke-width="1.2"/>
<circle cx="71.97" cy="155.43" r="3.85" fill="#dcd8dc" fill-opacity="0.45" stroke="#404040" stroke-width="1.2"/>
<circle cx="83.82" cy="155.43" r="3.85" fill="#dcd8dc" fill-opacity="0.45" stroke="#404040" stroke-width="1.2"/>
<circle cx="95.67" cy="155.43" r="3.85" fill="#dcd8dc" fill-opacity="0.45" stroke="#404040" stroke-width="1.2"/>
<circle cx="107.52" cy="155.43" r="3.85" fill="#dcd8dc" fill-opacity="0.45" stroke="#404040" stroke-width="1.2"/>
<circle cx="119.38" cy="155.43" r="3.85" fill="#dcd8dc" fill-opacity="0.45" stroke="#404040" stroke-width="1.2"/>
<circle cx="131.22" cy="155.43" r="3.85" fill="#dcd8dc" fill-opacity="0.45" stroke="#404040" stroke-width="1.2"/>
<circle cx="143.07" cy="155.43" r="3.85" fill="#dcd8dc" fill-opacity="0.45" stroke="#404040" stroke-width="1.2"/>
<circle cx="154.93" cy="155.43" r="3.85" fill="#dcd8dc" fill-opacity="0.45" stroke="#404040" stroke-width="1.2"/>
<circle cx="166.77" cy="155.43" r="3.85" fill="#dcd8dc" fill-opacity="0.45" stroke="#404040" stroke-width="1.2"/>
<circle cx="178.62" cy="155.43" r="3.85" fill="#dcd8dc" fill-opacity="0.45" stroke="#404040" stroke-width="1.2"/>
<circle cx="190.47" cy="155.43" r="3.85" fill="#dcd8dc" fill-opacity="0.45" stroke="#404040" stroke-width="1.2"/>
<circle cx="30.50" cy="166.54" r="3.85" fill="#dcd8dc" fill-opacity="0.45" stroke="#404040" stroke-width="1.2"/>
<circle cx="42.35" cy="166.54" r="3.85" fill="#dcd8dc" fill-opacity="0.45" stroke="#404040" stroke-width="1.2"/>
<circle cx="54.20" cy="166.54" r="3.85" fill="#dcd8dc" fill-opacity="0.45" stroke="#404040" stroke-width="1.2"/>
<circle cx="66.05" cy="166.54" r="3.85" fill="#dcd8dc" fill-opacity="0.45" stroke="#404040" stroke-width="1.2"/>
<circle cx="77.90" cy="166.54" r="3.85" fill="#dcd8dc" fill-opacity="0.45" stroke="#404040" stroke-width="1.2"/>
<circle cx="89.75" cy="166.54" r="3.85" fill="#dcd8dc" fill-opacity="0.45" stroke="#404040" stroke-width="1.2"/>
<circle cx="101.60" cy="166.54" r="3.85" fill="#dcd8dc" fill-opacity="0.45" stroke="#404040" stroke-width="1.2"/>
<circle cx="113.45" cy="166.54" r="3.85" fill="#dcd8dc" fill-opacity="0.45" stroke="#404040" stroke-width="1.2"/>
<circle cx="125.30" cy="166.54" r="3.85" fill="#dcd8dc" fill-opacity="0.45" stroke="#404040" stroke-width="1.2"/>
<circle cx="137.15" cy="166.54" r="3.85" fill="#dcd8dc" fill-opacity="0.45" stroke="#404040" stroke-width="1.2"/>
<circle cx="149.00" cy="166.54" r="3.85" fill="#dcd8dc" fill-opacity="0.45" stroke="#404040" stroke-width="1.2"/>
<circle cx="160.85" cy="166.54" r="3.85" fill="#dcd8dc" fill-opacity="0.45" stroke="#404040" stroke-width="1.2"/>
<circle cx="172.70" cy="166.54" r="3.85" fill="#dcd8dc" fill-opacity="0.45" stroke="#404040" stroke-width="1.2"/>
<circle cx="184.55" cy="166.54" r="3.85" fill="#dcd8dc" fill-opacity="0.45" stroke="#404040" stroke-width="1.2"/>
<circle cx="196.40" cy="166.54" r="3.85" fill="#dcd8dc" fill-opacity="0.45" stroke="#404040" stroke-width="1.2"/>
<circle cx="36.42" cy="177.65" r="3.85" fill="#dcd8dc" fill-opacity="0.45" stroke="#404040" stroke-width="1.2"/>
<circle cx="48.27" cy="177.65" r="3.85" fill="#dcd8dc" fill-opacity="0.45" stroke="#404040" stroke-width="1.2"/>
<circle cx="60.12" cy="177.65" r="3.85" fill="#dcd8dc" fill-opacity="0.45" stroke="#404040" stroke-width="1.2"/>
<circle cx="71.97" cy="177.65" r="3.85" fill="#dcd8dc" fill-opacity="0.45" stroke="#404040" stroke-width="1.2"/>
<circle cx="83.82" cy="177.65" r="3.85" fill="#dcd8dc" fill-opacity="0.45" stroke="#404040" stroke-width="1.2"/>
<circle cx="95.67" cy="177.65" r="3.85" fill="#dcd8dc" fill-opacity="0.45" stroke="#404040" stroke-width="1.2"/>
<circle cx="107.52" cy="177.65" r="3.85" fill="#dcd8dc" fill-opacity="0.45" stroke="#404040" stroke-width="1.2"/>
<circle cx="119.38" cy="177.65" r="3.85" fill="#dcd8dc" fill-opacity="0.45" stroke="#404040" stroke-width="1.2"/>
<circle cx="131.22" cy="177.65" r="3.85" fill="#dcd8dc" fill-opacity="0.45" stroke="#404040" stroke-width="1.2"/>
<circle cx="143.07" cy="177.65" r="3.85" fill="#dcd8dc" fill-opacity="0.45" stroke="#404040" stroke-width="1.2"/>
<circle cx="154.93" cy="177.65" r="3.85" fill="#dcd8dc" fill-opacity="0.45" stroke="#404040" stroke-width="1.2"/>
<circle cx="166.77" cy="177.65" r="3.85" fill="#dcd8dc" fill-opacity="0.45" stroke="#404040" stroke-width="1.2"/>
<circle cx="178.62" cy="177.65" r="3.85" fill="#dcd8dc" fill-opacity="0.45" stroke="#404040" stroke-width="1.2"/>
<circle cx="190.47" cy="177.65" r="3.85" fill="#dcd8dc" fill-opacity="0.45" stroke="#404040" stroke-width="1.2"/>
</g></g>
<rect x="30.5" y="16.6" width="165.9" height="166.6" fill="none" stroke="#7c7c7c" stroke-width="1"/>
<clipPath id="clipb"><rect x="310.5" y="11.2" width="165.1" height="164.7"/></clipPath>
<g clip-path="url(#clipb)"><g filter="url(#soft)">
<rect x="308.5" y="9.2" width="169.1" height="168.7" fill="#d8c6c8"/>
<g filter="url(#blur2)">
<ellipse cx="322.3" cy="20.3" rx="3.0" ry="2.7" fill="#f07878" fill-opacity="0.40"/>
<ellipse cx="316.4" cy="17.0" rx="3.0" ry="3.0" fill="#f07878" fill-opacity="0.31"/>
<ellipse cx="334.1" cy="20.3" rx="3.0" ry="2.7" fill="#f07878" fill-opacity="0.42"/>
<ellipse cx="328.2" cy="24.0" rx="3.0" ry="2.7" fill="#8890f0" fill-opacity="0.23"/>
<ellipse cx="327.0" cy="17.6" rx="3.0" ry="3.0" fill="#f07878" fill-opacity="0.46"/>
<ellipse cx="345.9" cy="20.3" rx="3.0" ry="2.7" fill="#f07878" fill-opacity="0.51"/>
<ellipse cx="340.3" cy="15.7" rx="3.0" ry="3.0" fill="#f07878" fill-opacity="0.26"/>
<ellipse cx="357.7" cy="20.3" rx="3.0" ry="2.7" fill="#f07878" fill-opacity="0.27"/>
<ellipse cx="351.8" cy="24.0" rx="3.0" ry="2.7" fill="#f07878" fill-opacity="0.32"/>
<ellipse cx="351.7" cy="16.5" rx="3.0" ry="3.0" fill="#f07878" fill-opacity="0.51"/>
<ellipse cx="369.5" cy="20.3" rx="3.0" ry="2.7" fill="#f07878" fill-opacity="0.42"/>
<ellipse cx="363.6" cy="24.0" rx="3.0" ry="2.7" fill="#f07878" fill-opacity="0.42"/>
<ellipse cx="362.9" cy="18.2" rx="3.0" ry="3.0" fill="#f07878" fill-opacity="0.55"/>
<ellipse cx="381.3" cy="20.3" rx="3.0" ry="2.7" fill="#8890f0" fill-opacity="0.36"/>
<ellipse cx="375.4" cy="24.0" rx="3.0" ry="2.7" fill="#f07878" fill-opacity="0.31"/>
<ellipse cx="374.1" cy="17.5" rx="3.0" ry="3.0" fill="#f07878" fill-opacity="0.37"/>
<ellipse cx="393.0" cy="20.3" rx="3.0" ry="2.7" fill="#8890f0" fill-opacity="0.29"/>
<ellipse cx="385.7" cy="15.8" rx="3.0" ry="3.0" fill="#8890f0" fill-opacity="0.48"/>
<ellipse cx="404.8" cy="20.3" rx="3.0" ry="2.7" fill="#f07878" fill-opacity="0.50"/>
<ellipse cx="398.9" cy="24.0" rx="3.0" ry="2.7" fill="#f07878" fill-opacity="0.27"/>
<ellipse cx="399.8" cy="16.0" rx="3.0" ry="3.0" fill="#f07878" fill-opacity="0.28"/>
<ellipse cx="416.6" cy="20.3" rx="3.0" ry="2.7" fill="#f07878" fill-opacity="0.50"/>
<ellipse cx="410.7" cy="24.0" rx="3.0" ry="2.7" fill="#8890f0" fill-opacity="0.24"/>
<ellipse cx="409.5" cy="15.4" rx="3.0" ry="3.0" fill="#f07878" fill-opacity="0.49"/>
<ellipse cx="428.4" cy="20.3" rx="3.0" ry="2.7" fill="#f07878" fill-opacity="0.40"/>
<ellipse cx="422.5" cy="24.0" rx="3.0" ry="2.7" fill="#f07878" fill-opacity="0.30"/>
<ellipse cx="421.4" cy="17.1" rx="3.0" ry="3.0" fill="#f07878" fill-opacity="0.29"/>
<ellipse cx="440.2" cy="20.3" rx="3.0" ry="2.7" fill="#f07878" fill-opacity="0.31"/>
<ellipse cx="434.3" cy="24.0" rx="3.0" ry="2.7" fill="#f07878" fill-opacity="0.50"/>
<ellipse cx="433.7" cy="17.8" rx="3.0" ry="3.0" fill="#8890f0" fill-opacity="0.28"/>
<ellipse cx="452.0" cy="20.3" rx="3.0" ry="2.7" fill="#f07878" fill-opacity="0.47"/>
<ellipse cx="446.1" cy="24.0" rx="3.0" ry="2.7" fill="#f07878" fill-opacity="0.28"/>
<ellipse cx="463.8" cy="20.3" rx="3.0" ry="2.7" fill="#8890f0" fill-opacity="0.28"/>
<ellipse cx="457.9" cy="24.0" rx="3.0" ry="2.7" fill="#f07878" fill-opacity="0.27"/>
<ellipse cx="458.2" cy="15.9" rx="3.0" ry="3.0" fill="#f07878" fill-opacity="0.43"/>
<ellipse cx="475.6" cy="20.3" rx="3.0" ry="2.7" fill="#f07878" fill-opacity="0.37"/>
<ellipse cx="469.9" cy="17.8" rx="3.0" ry="3.0" fill="#f07878" fill-opacity="0.31"/>
<ellipse cx="316.4" cy="31.3" rx="3.0" ry="2.7" fill="#f07878" fill-opacity="0.49"/>
<ellipse cx="310.5" cy="35.0" rx="3.0" ry="2.7" fill="#8890f0" fill-opacity="0.27"/>
<ellipse cx="311.2" cy="29.0" rx="3.0" ry="3.0" fill="#f07878" fill-opacity="0.31"/>
<ellipse cx="322.1" cy="26.5" rx="3.0" ry="3.0" fill="#f07878" fill-opacity="0.27"/>
<ellipse cx="334.1" cy="35.0" rx="3.0" ry="2.7" fill="#f07878" fill-opacity="0.43"/>
<ellipse cx="335.1" cy="28.0" rx="3.0" ry="3.0" fill="#f07878" fill-opacity="0.34"/>
<ellipse cx="351.8" cy="31.3" rx="3.0" ry="2.7" fill="#f07878" fill-opacity="0.44"/>
<ellipse cx="345.9" cy="35.0" rx="3.0" ry="2.7" fill="#f07878" fill-opacity="0.31"/>
<ellipse cx="346.9" cy="28.0" rx="3.0" ry="3.0" fill="#f07878" fill-opacity="0.34"/>
<ellipse cx="357.7" cy="35.0" rx="3.0" ry="2.7" fill="#f07878" fill-opacity="0.26"/>
<ellipse cx="357.5" cy="26.4" rx="3.0" ry="3.0" fill="#f07878" fill-opacity="0.31"/>
<ellipse cx="375.4" cy="31.3" rx="3.0" ry="2.7" fill="#f07878" fill-opacity="0.40"/>
<ellipse cx="369.5" cy="35.0" rx="3.0" ry="2.7" fill="#f07878" fill-opacity="0.35"/>
<ellipse cx="387.2" cy="31.3" rx="3.0" ry="2.7" fill="#8890f0" fill-opacity="0.34"/>
<ellipse cx="381.3" cy="35.0" rx="3.0" ry="2.7" fill="#f07878" fill-opacity="0.26"/>
<ellipse cx="382.5" cy="28.3" rx="3.0" ry="3.0" fill="#f07878" fill-opacity="0.54"/>
<ellipse cx="398.9" cy="31.3" rx="3.0" ry="2.7" fill="#f07878" fill-opacity="0.42"/>
<ellipse cx="393.1" cy="35.0" rx="3.0" ry="2.7" fill="#f07878" fill-opacity="0.44"/>
<ellipse cx="394.5" cy="26.4" rx="3.0" ry="3.0" fill="#f07878" fill-opacity="0.42"/>
<ellipse cx="410.7" cy="31.3" rx="3.0" ry="2.7" fill="#8890f0" fill-opacity="0.40"/>
<ellipse cx="404.8" cy="35.0" rx="3.0" ry="2.7" fill="#8890f0" fill-opacity="0.36"/>
<ellipse cx="406.1" cy="27.2" rx="3.0" ry="3.0" fill="#8890f0" fill-opacity="0.42"/>
<ellipse cx="417.5" cy="28.8" rx="3.0" ry="3.0" fill="#f07878" fill-opacity="0.43"/>
<ellipse cx="434.3" cy="31.3" rx="3.0" ry="2.7" fill="#f07878" fill-opacity="0.35"/>
<ellipse cx="428.4" cy="35.0" rx="3.0" ry="2.7" fill="#f07878" fill-opacity="0.41"/>
<ellipse cx="428.8" cy="29.1" rx="3.0" ry="3.0" fill="#f07878" fill-opacity="0.52"/>
<ellipse cx="446.1" cy="31.3" rx="3.0" ry="2.7" fill="#8890f0" fill-opacity="0.30"/>
<ellipse cx="440.2" cy="35.0" rx="3.0" ry="2.7" fill="#8890f0" fill-opacity="0.34"/>
<ellipse cx="441.2" cy="26.4" rx="3.0" ry="3.0" fill="#f07878" fill-opacity="0.48"/>
<ellipse cx="457.9" cy="31.3" rx="3.0" ry="2.7" fill="#f07878" fill-opacity="0.41"/>
<ellipse cx="452.0" cy="35.0" rx="3.0" ry="2.7" fill="#f07878" fill-opacity="0.31"/>
<ellipse cx="452.0" cy="28.0" rx="3.0" ry="3.0" fill="#f07878" fill-opacity="0.53"/>
<ellipse cx="469.7" cy="31.3" rx="3.0" ry="2.7" fill="#f07878" fill-opacity="0.26"/>
<ellipse cx="463.8" cy="35.0" rx="3.0" ry="2.7" fill="#f07878" fill-opacity="0.43"/>
<ellipse cx="462.8" cy="28.9" rx="3.0" ry="3.0" fill="#f07878" fill-opacity="0.45"/>
<ellipse cx="481.5" cy="31.3" rx="3.0" ry="2.7" fill="#f07878" fill-opacity="0.48"/>
<ellipse cx="475.6" cy="35.0" rx="3.0" ry="2.7" fill="#f07878" fill-opacity="0.42"/>
<ellipse cx="475.4" cy="28.6" rx="3.0" ry="3.0" fill="#f07878" fill-opacity="0.53"/>
<ellipse cx="316.4" cy="46.0" rx="3.0" ry="2.7" fill="#f07878" fill-opacity="0.40"/>
<ellipse cx="315.3" cy="38.6" rx="3.0" ry="3.0" fill="#f07878" fill-opacity="0.50"/>
<ellipse cx="334.1" cy="42.3" rx="3.0" ry="2.7" fill="#8890f0" fill-opacity="0.36"/>
<ellipse cx="327.2" cy="38.5" rx="3.0" ry="3.0" fill="#f07878" fill-opacity="0.34"/>
<ellipse cx="345.9" cy="42.3" rx="3.0" ry="2.7" fill="#f07878" fill-opacity="0.36"/>
<ellipse cx="340.0" cy="46.0" rx="3.0" ry="2.7" fill="#f07878" fill-opacity="0.38"/>
<ellipse cx="341.0" cy="40.1" rx="3.0" ry="3.0" fill="#f07878" fill-opacity="0.39"/>
<ellipse cx="357.7" cy="42.3" rx="3.0" ry="2.7" fill="#f07878" fill-opacity="0.26"/>
<ellipse cx="352.4" cy="38.9" rx="3.0" ry="3.0" fill="#f07878" fill-opacity="0.35"/>
<ellipse cx="369.5" cy="42.3" rx="3.0" ry="2.7" fill="#8890f0" fill-opacity="0.22"/>
<ellipse cx="363.6" cy="46.0" rx="3.0" ry="2.7" fill="#f07878" fill-opacity="0.37"/>
<ellipse cx="364.6" cy="37.9" rx="3.0" ry="3.0" fill="#f07878" fill-opacity="0.30"/>
<ellipse cx="381.3" cy="42.3" rx="3.0" ry="2.7" fill="#f07878" fill-opacity="0.42"/>
<ellipse cx="375.4" cy="46.0" rx="3.0" ry="2.7" fill="#f07878" fill-opacity="0.42"/>
<ellipse cx="376.3" cy="40.0" rx="3.0" ry="3.0" fill="#f07878" fill-opacity="0.46"/>
<ellipse cx="393.0" cy="42.3" rx="3.0" ry="2.7" fill="#f07878" fill-opacity="0.38"/>
<ellipse cx="387.2" cy="46.0" rx="3.0" ry="2.7" fill="#f07878" fill-opacity="0.26"/>
<ellipse cx="387.8" cy="37.7" rx="3.0" ry="3.0" fill="#f07878" fill-opacity="0.34"/>
<ellipse cx="404.8" cy="42.3" rx="3.0" ry="2.7" fill="#f07878" fill-opacity="0.43"/>
<ellipse cx="398.9" cy="46.0" rx="3.0" ry="2.7" fill="#f07878" fill-opacity="0.41"/>
<ellipse cx="398.6" cy="39.5" rx="3.0" ry="3.0" fill="#8890f0" fill-opacity="0.48"/>
<ellipse cx="416.6" cy="42.3" rx="3.0" ry="2.7" fill="#f07878" fill-opacity="0.49"/>
<ellipse cx="410.7" cy="46.0" rx="3.0" ry="2.7" fill="#8890f0" fill-opacity="0.24"/>
<ellipse cx="411.1" cy="39.9" rx="3.0" ry="3.0" fill="#f07878" fill-opacity="0.37"/>
<ellipse cx="428.4" cy="42.3" rx="3.0" ry="2.7" fill="#f07878" fill-opacity="0.48"/>
<ellipse cx="422.5" cy="46.0" rx="3.0" ry="2.7" fill="#8890f0" fill-opacity="0.41"/>
<ellipse cx="423.0" cy="37.8" rx="3.0" ry="3.0" fill="#f07878" fill-opacity="0.47"/>
<ellipse cx="440.2" cy="42.3" rx="3.0" ry="2.7" fill="#8890f0" fill-opacity="0.35"/>
<ellipse cx="434.3" cy="46.0" rx="3.0" ry="2.7" fill="#8890f0" fill-opacity="0.26"/>
<ellipse cx="452.0" cy="42.3" rx="3.0" ry="2.7" fill="#f07878" fill-opacity="0.46"/>
<ellipse cx="446.1" cy="46.0" rx="3.0" ry="2.7" fill="#f07878" fill-opacity="0.49"/>
<ellipse cx="445.7" cy="37.4" rx="3.0" ry="3.0" fill="#8890f0" fill-opacity="0.34"/>
<ellipse cx="463.8" cy="42.3" rx="3.0" ry="2.7" fill="#f07878" fill-opacity="0.45"/>
<ellipse cx="457.9" cy="46.0" rx="3.0" ry="2.7" fill="#f07878" fill-opacity="0.26"/>
<ellipse cx="456.6" cy="39.5" rx="3.0" ry="3.0" fill="#8890f0" fill-opacity="0.26"/>
<ellipse cx="475.6" cy="42.3" rx="3.0" ry="2.7" fill="#f07878" fill-opacity="0.46"/>
<ellipse cx="469.7" cy="46.0" rx="3.0" ry="2.7" fill="#f07878" fill-opacity="0.29"/>
<ellipse cx="470.4" cy="39.7" rx="3.0" ry="3.0" fill="#f07878" fill-opacity="0.46"/>
<ellipse cx="310.5" cy="56.9" rx="3.0" ry="2.7" fill="#f07878" fill-opacity="0.50"/>
<ellipse cx="309.7" cy="49.7" rx="3.0" ry="3.0" fill="#f07878" fill-opacity="0.34"/>
<ellipse cx="328.2" cy="53.3" rx="3.0" ry="2.7" fill="#8890f0" fill-opacity="0.35"/>
<ellipse cx="322.3" cy="56.9" rx="3.0" ry="2.7" fill="#f07878" fill-opacity="0.47"/>
<ellipse cx="321.7" cy="49.3" rx="3.0" ry="3.0" fill="#f07878" fill-opacity="0.51"/>
<ellipse cx="334.1" cy="56.9" rx="3.0" ry="2.7" fill="#f07878" fill-opacity="0.47"/>
<ellipse cx="351.8" cy="53.3" rx="3.0" ry="2.7" fill="#f07878" fill-opacity="0.39"/>
<ellipse cx="345.9" cy="56.9" rx="3.0" ry="2.7" fill="#f07878" fill-opacity="0.41"/>
<ellipse cx="347.3" cy="49.7" rx="3.0" ry="3.0" fill="#f07878" fill-opacity="0.37"/>
<ellipse cx="363.6" cy="53.3" rx="3.0" ry="2.7" fill="#8890f0" fill-opacity="0.33"/>
<ellipse cx="357.7" cy="56.9" rx="3.0" ry="2.7" fill="#f07878" fill-opacity="0.43"/>
<ellipse cx="357.8" cy="49.4" rx="3.0" ry="3.0" fill="#f07878" fill-opacity="0.54"/>
<ellipse cx="369.5" cy="56.9" rx="3.0" ry="2.7" fill="#f07878" fill-opacity="0.38"/>
<ellipse cx="369.3" cy="50.6" rx="3.0" ry="3.0" fill="#f07878" fill-opacity="0.52"/>
<ellipse cx="387.2" cy="53.3" rx="3.0" ry="2.7" fill="#f07878" fill-opacity="0.34"/>
<ellipse cx="381.3" cy="56.9" rx="3.0" ry="2.7" fill="#f07878" fill-opacity="0.41"/>
<ellipse cx="398.9" cy="53.3" rx="3.0" ry="2.7" fill="#f07878" fill-opacity="0.30"/>
<ellipse cx="393.1" cy="56.9" rx="3.0" ry="2.7" fill="#f07878" fill-opacity="0.43"/>
<ellipse cx="392.6" cy="50.0" rx="3.0" ry="3.0" fill="#f07878" fill-opacity="0.29"/>
<ellipse cx="410.7" cy="53.3" rx="3.0" ry="2.7" fill="#8890f0" fill-opacity="0.24"/>
<ellipse cx="404.8" cy="56.9" rx="3.0" ry="2.7" fill="#f07878" fill-opacity="0.32"/>
<ellipse cx="404.9" cy="49.4" rx="3.0" ry="3.0" fill="#f07878" fill-opacity="0.37"/>
<ellipse cx="422.5" cy="53.3" rx="3.0" ry="2.7" fill="#f07878" fill-opacity="0.39"/>
<ellipse cx="416.6" cy="56.9" rx="3.0" ry="2.7" fill="#f07878" fill-opacity="0.31"/>
<ellipse cx="417.1" cy="49.7" rx="3.0" ry="3.0" fill="#f07878" fill-opacity="0.51"/>
<ellipse cx="434.3" cy="53.3" rx="3.0" ry="2.7" fill="#f07878" fill-opacity="0.47"/>
<ellipse cx="428.4" cy="56.9" rx="3.0" ry="2.7" fill="#f07878" fill-opacity="0.44"/>
<ellipse cx="429.6" cy="49.1" rx="3.0" ry="3.0" fill="#8890f0" fill-opacity="0.31"/>
<ellipse cx="440.2" cy="56.9" rx="3.0" ry="2.7" fill="#f07878" fill-opacity="0.51"/>
<ellipse cx="457.9" cy="53.3" rx="3.0" ry="2.7" fill="#8890f0" fill-opacity="0.27"/>
<ellipse cx="452.0" cy="56.9" rx="3.0" ry="2.7" fill="#f07878" fill-opacity="0.47"/>
<ellipse cx="452.9" cy="48.5" rx="3.0" ry="3.0" fill="#f07878" fill-opacity="0.37"/>
<ellipse cx="469.7" cy="53.3" rx="3.0" ry="2.7" fill="#8890f0" fill-opacity="0.22"/>
<ellipse cx="463.8" cy="56.9" rx="3.0" ry="2.7" fill="#f07878" fill-opacity="0.43"/>
<ellipse cx="481.5" cy="53.3" rx="3.0" ry="2.7" fill="#f07878" fill-opacity="0.45"/>
<ellipse cx="475.6" cy="56.9" rx="3.0" ry="2.7" fill="#f07878" fill-opacity="0.43"/>
<ellipse cx="474.3" cy="48.4" rx="3.0" ry="3.0" fill="#f07878" fill-opacity="0.27"/>
<ellipse cx="322.3" cy="64.3" rx="3.0" ry="2.7" fill="#f07878" fill-opacity="0.39"/>
<ellipse cx="316.4" cy="67.9" rx="3.0" ry="2.7" fill="#f07878" fill-opacity="0.29"/>
<ellipse cx="315.5" cy="61.6" rx="3.0" ry="3.0" fill="#f07878" fill-opacity="0.55"/>
<ellipse cx="328.2" cy="67.9" rx="3.0" ry="2.7" fill="#f07878" fill-opacity="0.27"/>
<ellipse cx="345.9" cy="64.3" rx="3.0" ry="2.7" fill="#f07878" fill-opacity="0.37"/>
<ellipse cx="340.0" cy="67.9" rx="3.0" ry="2.7" fill="#f07878" fill-opacity="0.36"/>
<ellipse cx="338.5" cy="61.2" rx="3.0" ry="3.0" fill="#f07878" fill-opacity="0.51"/>
<ellipse cx="357.7" cy="64.3" rx="3.0" ry="2.7" fill="#f07878" fill-opacity="0.37"/>
<ellipse cx="351.8" cy="67.9" rx="3.0" ry="2.7" fill="#8890f0" fill-opacity="0.30"/>
<ellipse cx="350.8" cy="60.6" rx="3.0" ry="3.0" fill="#f07878" fill-opacity="0.26"/>
<ellipse cx="363.6" cy="67.9" rx="3.0" ry="2.7" fill="#8890f0" fill-opacity="0.36"/>
<ellipse cx="364.0" cy="60.3" rx="3.0" ry="3.0" fill="#8890f0" fill-opacity="0.39"/>
<ellipse cx="381.3" cy="64.3" rx="3.0" ry="2.7" fill="#f07878" fill-opacity="0.51"/>
<ellipse cx="375.4" cy="67.9" rx="3.0" ry="2.7" fill="#8890f0" fill-opacity="0.27"/>
<ellipse cx="393.0" cy="64.3" rx="3.0" ry="2.7" fill="#8890f0" fill-opacity="0.30"/>
<ellipse cx="404.8" cy="64.3" rx="3.0" ry="2.7" fill="#8890f0" fill-opacity="0.30"/>
<ellipse cx="398.9" cy="67.9" rx="3.0" ry="2.7" fill="#8890f0" fill-opacity="0.23"/>
<ellipse cx="398.9" cy="59.1" rx="3.0" ry="3.0" fill="#f07878" fill-opacity="0.36"/>
<ellipse cx="416.6" cy="64.3" rx="3.0" ry="2.7" fill="#f07878" fill-opacity="0.41"/>
<ellipse cx="410.7" cy="67.9" rx="3.0" ry="2.7" fill="#f07878" fill-opacity="0.50"/>
<ellipse cx="410.3" cy="61.1" rx="3.0" ry="3.0" fill="#f07878" fill-opacity="0.42"/>
<ellipse cx="428.4" cy="64.3" rx="3.0" ry="2.7" fill="#f07878" fill-opacity="0.35"/>
<ellipse cx="423.1" cy="61.4" rx="3.0" ry="3.0" fill="#f07878" fill-opacity="0.55"/>
<ellipse cx="440.2" cy="64.3" rx="3.0" ry="2.7" fill="#f07878" fill-opacity="0.41"/>
<ellipse cx="434.3" cy="67.9" rx="3.0" ry="2.7" fill="#8890f0" fill-opacity="0.27"/>
<ellipse cx="433.0" cy="59.7" rx="3.0" ry="3.0" fill="#f07878" fill-opacity="0.37"/>
<ellipse cx="452.0" cy="64.3" rx="3.0" ry="2.7" fill="#f07878" fill-opacity="0.32"/>
<ellipse cx="446.1" cy="62.0" rx="3.0" ry="3.0" fill="#f07878" fill-opacity="0.42"/>
<ellipse cx="457.9" cy="67.9" rx="3.0" ry="2.7" fill="#f07878" fill-opacity="0.46"/>
<ellipse cx="458.2" cy="61.4" rx="3.0" ry="3.0" fill="#f07878" fill-opacity="0.27"/>
<ellipse cx="469.7" cy="67.9" rx="3.0" ry="2.7" fill="#f07878" fill-opacity="0.38"/>
<ellipse cx="469.7" cy="60.9" rx="3.0" ry="3.0" fill="#f07878" fill-opacity="0.27"/>
<ellipse cx="310.5" cy="78.9" rx="3.0" ry="2.7" fill="#f07878" fill-opacity="0.39"/>
<ellipse cx="310.1" cy="70.9" rx="3.0" ry="3.0" fill="#f07878" fill-opacity="0.45"/>
<ellipse cx="328.2" cy="75.2" rx="3.0" ry="2.7" fill="#f07878" fill-opacity="0.33"/>
<ellipse cx="322.3" cy="78.9" rx="3.0" ry="2.7" fill="#8890f0" fill-opacity="0.28"/>
<ellipse cx="321.5" cy="70.2" rx="3.0" ry="3.0" fill="#f07878" fill-opacity="0.30"/>
<ellipse cx="340.0" cy="75.2" rx="3.0" ry="2.7" fill="#8890f0" fill-opacity="0.30"/>
<ellipse cx="332.7" cy="73.1" rx="3.0" ry="3.0" fill="#f07878" fill-opacity="0.54"/>
<ellipse cx="351.8" cy="75.2" rx="3.0" ry="2.7" fill="#f07878" fill-opacity="0.49"/>
<ellipse cx="345.9" cy="78.9" rx="3.0" ry="2.7" fill="#f07878" fill-opacity="0.38"/>
<ellipse cx="357.7" cy="78.9" rx="3.0" ry="2.7" fill="#8890f0" fill-opacity="0.31"/>
<ellipse cx="375.4" cy="75.2" rx="3.0" ry="2.7" fill="#f07878" fill-opacity="0.41"/>
<ellipse cx="369.5" cy="78.9" rx="3.0" ry="2.7" fill="#f07878" fill-opacity="0.31"/>
<ellipse cx="369.5" cy="70.5" rx="3.0" ry="3.0" fill="#f07878" fill-opacity="0.39"/>
<ellipse cx="387.2" cy="75.2" rx="3.0" ry="2.7" fill="#8890f0" fill-opacity="0.31"/>
<ellipse cx="381.3" cy="78.9" rx="3.0" ry="2.7" fill="#f07878" fill-opacity="0.40"/>
<ellipse cx="382.1" cy="71.7" rx="3.0" ry="3.0" fill="#f07878" fill-opacity="0.55"/>
<ellipse cx="393.1" cy="78.9" rx="3.0" ry="2.7" fill="#8890f0" fill-opacity="0.26"/>
<ellipse cx="394.2" cy="72.4" rx="3.0" ry="3.0" fill="#f07878" fill-opacity="0.44"/>
<ellipse cx="410.7" cy="75.2" rx="3.0" ry="2.7" fill="#f07878" fill-opacity="0.32"/>
<ellipse cx="404.8" cy="78.9" rx="3.0" ry="2.7" fill="#8890f0" fill-opacity="0.33"/>
<ellipse cx="405.2" cy="72.4" rx="3.0" ry="3.0" fill="#f07878" fill-opacity="0.31"/>
<ellipse cx="422.5" cy="75.2" rx="3.0" ry="2.7" fill="#f07878" fill-opacity="0.50"/>
<ellipse cx="434.3" cy="75.2" rx="3.0" ry="2.7" fill="#f07878" fill-opacity="0.36"/>
<ellipse cx="428.4" cy="78.9" rx="3.0" ry="2.7" fill="#f07878" fill-opacity="0.28"/>
<ellipse cx="427.1" cy="70.3" rx="3.0" ry="3.0" fill="#f07878" fill-opacity="0.46"/>
<ellipse cx="446.1" cy="75.2" rx="3.0" ry="2.7" fill="#f07878" fill-opacity="0.42"/>
<ellipse cx="440.2" cy="78.9" rx="3.0" ry="2.7" fill="#f07878" fill-opacity="0.38"/>
<ellipse cx="439.8" cy="72.3" rx="3.0" ry="3.0" fill="#f07878" fill-opacity="0.50"/>
<ellipse cx="457.9" cy="75.2" rx="3.0" ry="2.7" fill="#f07878" fill-opacity="0.29"/>
<ellipse cx="452.0" cy="78.9" rx="3.0" ry="2.7" fill="#8890f0" fill-opacity="0.35"/>
<ellipse cx="451.2" cy="71.4" rx="3.0" ry="3.0" fill="#8890f0" fill-opacity="0.29"/>
<ellipse cx="469.7" cy="75.2" rx="3.0" ry="2.7" fill="#8890f0" fill-opacity="0.29"/>
<ellipse cx="463.8" cy="78.9" rx="3.0" ry="2.7" fill="#8890f0" fill-opacity="0.42"/>
<ellipse cx="464.0" cy="72.3" rx="3.0" ry="3.0" fill="#f07878" fill-opacity="0.53"/>
<ellipse cx="481.5" cy="75.2" rx="3.0" ry="2.7" fill="#f07878" fill-opacity="0.35"/>
<ellipse cx="475.6" cy="78.9" rx="3.0" ry="2.7" fill="#f07878" fill-opacity="0.48"/>
<ellipse cx="474.3" cy="71.8" rx="3.0" ry="3.0" fill="#f07878" fill-opacity="0.40"/>
<ellipse cx="322.3" cy="86.2" rx="3.0" ry="2.7" fill="#8890f0" fill-opacity="0.28"/>
<ellipse cx="316.4" cy="89.9" rx="3.0" ry="2.7" fill="#8890f0" fill-opacity="0.23"/>
<ellipse cx="316.9" cy="81.3" rx="3.0" ry="3.0" fill="#f07878" fill-opacity="0.35"/>
<ellipse cx="334.1" cy="86.2" rx="3.0" ry="2.7" fill="#8890f0" fill-opacity="0.36"/>
<ellipse cx="328.2" cy="89.9" rx="3.0" ry="2.7" fill="#f07878" fill-opacity="0.29"/>
<ellipse cx="328.9" cy="82.2" rx="3.0" ry="3.0" fill="#f07878" fill-opacity="0.29"/>
<ellipse cx="345.9" cy="86.2" rx="3.0" ry="2.7" fill="#8890f0" fill-opacity="0.33"/>
<ellipse cx="357.7" cy="86.2" rx="3.0" ry="2.7" fill="#8890f0" fill-opacity="0.28"/>
<ellipse cx="351.8" cy="89.9" rx="3.0" ry="2.7" fill="#f07878" fill-opacity="0.36"/>
<ellipse cx="369.5" cy="86.2" rx="3.0" ry="2.7" fill="#f07878" fill-opacity="0.35"/>
<ellipse cx="363.6" cy="89.9" rx="3.0" ry="2.7" fill="#f07878" fill-opacity="0.36"/>
<ellipse cx="362.7" cy="82.8" rx="3.0" ry="3.0" fill="#f07878" fill-opacity="0.49"/>
<ellipse cx="381.3" cy="86.2" rx="3.0" ry="2.7" fill="#f07878" fill-opacity="0.47"/>
<ellipse cx="375.4" cy="89.9" rx="3.0" ry="2.7" fill="#f07878" fill-opacity="0.30"/>
<ellipse cx="376.5" cy="81.9" rx="3.0" ry="3.0" fill="#8890f0" fill-opacity="0.22"/>
<ellipse cx="393.0" cy="86.2" rx="3.0" ry="2.7" fill="#f07878" fill-opacity="0.39"/>
<ellipse cx="387.2" cy="89.9" rx="3.0" ry="2.7" fill="#f07878" fill-opacity="0.50"/>
<ellipse cx="388.1" cy="81.3" rx="3.0" ry="3.0" fill="#f07878" fill-opacity="0.42"/>
<ellipse cx="404.8" cy="86.2" rx="3.0" ry="2.7" fill="#8890f0" fill-opacity="0.23"/>
<ellipse cx="398.9" cy="89.9" rx="3.0" ry="2.7" fill="#f07878" fill-opacity="0.44"/>
<ellipse cx="416.6" cy="86.2" rx="3.0" ry="2.7" fill="#f07878" fill-opacity="0.45"/>
<ellipse cx="410.7" cy="89.9" rx="3.0" ry="2.7" fill="#f07878" fill-opacity="0.32"/>
<ellipse cx="411.5" cy="82.6" rx="3.0" ry="3.0" fill="#f07878" fill-opacity="0.48"/>
<ellipse cx="428.4" cy="86.2" rx="3.0" ry="2.7" fill="#f07878" fill-opacity="0.34"/>
<ellipse cx="422.5" cy="82.7" rx="3.0" ry="3.0" fill="#f07878" fill-opacity="0.47"/>
<ellipse cx="440.2" cy="86.2" rx="3.0" ry="2.7" fill="#8890f0" fill-opacity="0.41"/>
<ellipse cx="434.3" cy="89.9" rx="3.0" ry="2.7" fill="#f07878" fill-opacity="0.47"/>
<ellipse cx="435.4" cy="83.5" rx="3.0" ry="3.0" fill="#f07878" fill-opacity="0.50"/>
<ellipse cx="446.2" cy="83.2" rx="3.0" ry="3.0" fill="#f07878" fill-opacity="0.49"/>
<ellipse cx="463.8" cy="86.2" rx="3.0" ry="2.7" fill="#f07878" fill-opacity="0.36"/>
<ellipse cx="457.9" cy="89.9" rx="3.0" ry="2.7" fill="#f07878" fill-opacity="0.44"/>
<ellipse cx="475.6" cy="86.2" rx="3.0" ry="2.7" fill="#f07878" fill-opacity="0.36"/>
<ellipse cx="469.7" cy="89.9" rx="3.0" ry="2.7" fill="#f07878" fill-opacity="0.50"/>
<ellipse cx="469.1" cy="81.4" rx="3.0" ry="3.0" fill="#f07878" fill-opacity="0.45"/>
<ellipse cx="316.4" cy="97.2" rx="3.0" ry="2.7" fill="#8890f0" fill-opacity="0.25"/>
<ellipse cx="310.5" cy="100.9" rx="3.0" ry="2.7" fill="#f07878" fill-opacity="0.37"/>
<ellipse cx="311.7" cy="92.2" rx="3.0" ry="3.0" fill="#f07878" fill-opacity="0.29"/>
<ellipse cx="328.2" cy="97.2" rx="3.0" ry="2.7" fill="#f07878" fill-opacity="0.31"/>
<ellipse cx="322.3" cy="100.9" rx="3.0" ry="2.7" fill="#f07878" fill-opacity="0.44"/>
<ellipse cx="321.5" cy="92.6" rx="3.0" ry="3.0" fill="#f07878" fill-opacity="0.34"/>
<ellipse cx="340.0" cy="97.2" rx="3.0" ry="2.7" fill="#f07878" fill-opacity="0.45"/>
<ellipse cx="334.1" cy="100.9" rx="3.0" ry="2.7" fill="#f07878" fill-opacity="0.39"/>
<ellipse cx="334.0" cy="92.8" rx="3.0" ry="3.0" fill="#8890f0" fill-opacity="0.48"/>
<ellipse cx="345.9" cy="100.9" rx="3.0" ry="2.7" fill="#f07878" fill-opacity="0.39"/>
<ellipse cx="363.6" cy="97.2" rx="3.0" ry="2.7" fill="#f07878" fill-opacity="0.50"/>
<ellipse cx="357.7" cy="100.9" rx="3.0" ry="2.7" fill="#8890f0" fill-opacity="0.29"/>
<ellipse cx="357.7" cy="92.9" rx="3.0" ry="3.0" fill="#f07878" fill-opacity="0.55"/>
<ellipse cx="375.4" cy="97.2" rx="3.0" ry="2.7" fill="#8890f0" fill-opacity="0.26"/>
<ellipse cx="369.5" cy="100.9" rx="3.0" ry="2.7" fill="#f07878" fill-opacity="0.38"/>
<ellipse cx="370.4" cy="94.2" rx="3.0" ry="3.0" fill="#f07878" fill-opacity="0.44"/>
<ellipse cx="387.2" cy="97.2" rx="3.0" ry="2.7" fill="#f07878" fill-opacity="0.30"/>
<ellipse cx="381.3" cy="100.9" rx="3.0" ry="2.7" fill="#f07878" fill-opacity="0.32"/>
<ellipse cx="381.3" cy="94.0" rx="3.0" ry="3.0" fill="#8890f0" fill-opacity="0.51"/>
<ellipse cx="398.9" cy="97.2" rx="3.0" ry="2.7" fill="#f07878" fill-opacity="0.39"/>
<ellipse cx="393.1" cy="100.9" rx="3.0" ry="2.7" fill="#f07878" fill-opacity="0.45"/>
<ellipse cx="394.0" cy="94.6" rx="3.0" ry="3.0" fill="#f07878" fill-opacity="0.50"/>
<ellipse cx="410.7" cy="97.2" rx="3.0" ry="2.7" fill="#f07878" fill-opacity="0.32"/>
<ellipse cx="404.8" cy="100.9" rx="3.0" ry="2.7" fill="#8890f0" fill-opacity="0.23"/>
<ellipse cx="404.7" cy="94.9" rx="3.0" ry="3.0" fill="#f07878" fill-opacity="0.43"/>
<ellipse cx="416.6" cy="100.9" rx="3.0" ry="2.7" fill="#f07878" fill-opacity="0.46"/>
<ellipse cx="417.9" cy="92.3" rx="3.0" ry="3.0" fill="#f07878" fill-opacity="0.50"/>
<ellipse cx="434.3" cy="97.2" rx="3.0" ry="2.7" fill="#f07878" fill-opacity="0.39"/>
<ellipse cx="428.4" cy="100.9" rx="3.0" ry="2.7" fill="#f07878" fill-opacity="0.30"/>
<ellipse cx="427.9" cy="93.0" rx="3.0" ry="3.0" fill="#8890f0" fill-opacity="0.24"/>
<ellipse cx="446.1" cy="97.2" rx="3.0" ry="2.7" fill="#f07878" fill-opacity="0.37"/>
<ellipse cx="440.2" cy="100.9" rx="3.0" ry="2.7" fill="#8890f0" fill-opacity="0.29"/>
<ellipse cx="439.0" cy="93.2" rx="3.0" ry="3.0" fill="#f07878" fill-opacity="0.39"/>
<ellipse cx="452.0" cy="100.9" rx="3.0" ry="2.7" fill="#8890f0" fill-opacity="0.35"/>
<ellipse cx="451.6" cy="94.2" rx="3.0" ry="3.0" fill="#f07878" fill-opacity="0.33"/>
<ellipse cx="469.7" cy="97.2" rx="3.0" ry="2.7" fill="#f07878" fill-opacity="0.37"/>
<ellipse cx="463.8" cy="100.9" rx="3.0" ry="2.7" fill="#f07878" fill-opacity="0.51"/>
<ellipse cx="462.9" cy="93.9" rx="3.0" ry="3.0" fill="#8890f0" fill-opacity="0.30"/>
<ellipse cx="481.5" cy="97.2" rx="3.0" ry="2.7" fill="#f07878" fill-opacity="0.39"/>
<ellipse cx="475.6" cy="100.9" rx="3.0" ry="2.7" fill="#f07878" fill-opacity="0.34"/>
<ellipse cx="476.1" cy="92.8" rx="3.0" ry="3.0" fill="#f07878" fill-opacity="0.31"/>
<ellipse cx="322.3" cy="108.2" rx="3.0" ry="2.7" fill="#8890f0" fill-opacity="0.28"/>
<ellipse cx="317.1" cy="104.0" rx="3.0" ry="3.0" fill="#f07878" fill-opacity="0.50"/>
<ellipse cx="334.1" cy="108.2" rx="3.0" ry="2.7" fill="#f07878" fill-opacity="0.29"/>
<ellipse cx="328.2" cy="111.8" rx="3.0" ry="2.7" fill="#f07878" fill-opacity="0.43"/>
<ellipse cx="327.2" cy="104.2" rx="3.0" ry="3.0" fill="#f07878" fill-opacity="0.50"/>
<ellipse cx="345.9" cy="108.2" rx="3.0" ry="2.7" fill="#f07878" fill-opacity="0.28"/>
<ellipse cx="340.0" cy="111.8" rx="3.0" ry="2.7" fill="#f07878" fill-opacity="0.30"/>
<ellipse cx="339.7" cy="103.2" rx="3.0" ry="3.0" fill="#f07878" fill-opacity="0.53"/>
<ellipse cx="357.7" cy="108.2" rx="3.0" ry="2.7" fill="#f07878" fill-opacity="0.39"/>
<ellipse cx="351.8" cy="111.8" rx="3.0" ry="2.7" fill="#f07878" fill-opacity="0.45"/>
<ellipse cx="351.4" cy="104.0" rx="3.0" ry="3.0" fill="#8890f0" fill-opacity="0.34"/>
<ellipse cx="369.5" cy="108.2" rx="3.0" ry="2.7" fill="#f07878" fill-opacity="0.36"/>
<ellipse cx="363.6" cy="111.8" rx="3.0" ry="2.7" fill="#8890f0" fill-opacity="0.42"/>
<ellipse cx="364.0" cy="104.9" rx="3.0" ry="3.0" fill="#8890f0" fill-opacity="0.22"/>
<ellipse cx="381.3" cy="108.2" rx="3.0" ry="2.7" fill="#f07878" fill-opacity="0.34"/>
<ellipse cx="375.4" cy="111.8" rx="3.0" ry="2.7" fill="#8890f0" fill-opacity="0.24"/>
<ellipse cx="375.4" cy="105.4" rx="3.0" ry="3.0" fill="#f07878" fill-opacity="0.50"/>
<ellipse cx="393.0" cy="108.2" rx="3.0" ry="2.7" fill="#f07878" fill-opacity="0.30"/>
<ellipse cx="387.2" cy="111.8" rx="3.0" ry="2.7" fill="#8890f0" fill-opacity="0.40"/>
<ellipse cx="386.7" cy="104.5" rx="3.0" ry="3.0" fill="#f07878" fill-opacity="0.30"/>
<ellipse cx="404.8" cy="108.2" rx="3.0" ry="2.7" fill="#8890f0" fill-opacity="0.42"/>
<ellipse cx="398.9" cy="111.8" rx="3.0" ry="2.7" fill="#f07878" fill-opacity="0.44"/>
<ellipse cx="398.0" cy="105.9" rx="3.0" ry="3.0" fill="#8890f0" fill-opacity="0.40"/>
<ellipse cx="416.6" cy="108.2" rx="3.0" ry="2.7" fill="#f07878" fill-opacity="0.28"/>
<ellipse cx="410.7" cy="111.8" rx="3.0" ry="2.7" fill="#f07878" fill-opacity="0.40"/>
<ellipse cx="410.2" cy="105.8" rx="3.0" ry="3.0" fill="#f07878" fill-opacity="0.36"/>
<ellipse cx="428.4" cy="108.2" rx="3.0" ry="2.7" fill="#f07878" fill-opacity="0.29"/>
<ellipse cx="423.7" cy="104.7" rx="3.0" ry="3.0" fill="#f07878" fill-opacity="0.42"/>
<ellipse cx="440.2" cy="108.2" rx="3.0" ry="2.7" fill="#f07878" fill-opacity="0.32"/>
<ellipse cx="452.0" cy="108.2" rx="3.0" ry="2.7" fill="#f07878" fill-opacity="0.47"/>
<ellipse cx="446.1" cy="111.8" rx="3.0" ry="2.7" fill="#f07878" fill-opacity="0.48"/>
<ellipse cx="446.3" cy="105.5" rx="3.0" ry="3.0" fill="#f07878" fill-opacity="0.31"/>
<ellipse cx="463.8" cy="108.2" rx="3.0" ry="2.7" fill="#f07878" fill-opacity="0.27"/>
<ellipse cx="457.9" cy="111.8" rx="3.0" ry="2.7" fill="#f07878" fill-opacity="0.30"/>
<ellipse cx="475.6" cy="108.2" rx="3.0" ry="2.7" fill="#f07878" fill-opacity="0.43"/>
<ellipse cx="469.7" cy="111.8" rx="3.0" ry="2.7" fill="#8890f0" fill-opacity="0.29"/>
<ellipse cx="470.6" cy="103.1" rx="3.0" ry="3.0" fill="#f07878" fill-opacity="0.31"/>
<ellipse cx="316.4" cy="119.2" rx="3.0" ry="2.7" fill="#f07878" fill-opacity="0.29"/>
<ellipse cx="310.5" cy="122.8" rx="3.0" ry="2.7" fill="#f07878" fill-opacity="0.40"/>
<ellipse cx="310.6" cy="114.8" rx="3.0" ry="3.0" fill="#f07878" fill-opacity="0.42"/>
<ellipse cx="328.2" cy="119.2" rx="3.0" ry="2.7" fill="#f07878" fill-opacity="0.42"/>
<ellipse cx="322.3" cy="122.8" rx="3.0" ry="2.7" fill="#f07878" fill-opacity="0.43"/>
<ellipse cx="323.7" cy="115.8" rx="3.0" ry="3.0" fill="#f07878" fill-opacity="0.39"/>
<ellipse cx="340.0" cy="119.2" rx="3.0" ry="2.7" fill="#f07878" fill-opacity="0.41"/>
<ellipse cx="334.1" cy="122.8" rx="3.0" ry="2.7" fill="#8890f0" fill-opacity="0.37"/>
<ellipse cx="334.0" cy="117.0" rx="3.0" ry="3.0" fill="#8890f0" fill-opacity="0.46"/>
<ellipse cx="345.9" cy="122.8" rx="3.0" ry="2.7" fill="#f07878" fill-opacity="0.37"/>
<ellipse cx="347.1" cy="115.6" rx="3.0" ry="3.0" fill="#f07878" fill-opacity="0.41"/>
<ellipse cx="363.6" cy="119.2" rx="3.0" ry="2.7" fill="#f07878" fill-opacity="0.49"/>
<ellipse cx="357.7" cy="122.8" rx="3.0" ry="2.7" fill="#f07878" fill-opacity="0.27"/>
<ellipse cx="358.9" cy="116.2" rx="3.0" ry="3.0" fill="#f07878" fill-opacity="0.43"/>
<ellipse cx="375.4" cy="119.2" rx="3.0" ry="2.7" fill="#8890f0" fill-opacity="0.28"/>
<ellipse cx="369.5" cy="122.8" rx="3.0" ry="2.7" fill="#f07878" fill-opacity="0.27"/>
<ellipse cx="369.3" cy="115.5" rx="3.0" ry="3.0" fill="#f07878" fill-opacity="0.37"/>
<ellipse cx="387.2" cy="119.2" rx="3.0" ry="2.7" fill="#f07878" fill-opacity="0.43"/>
<ellipse cx="381.3" cy="122.8" rx="3.0" ry="2.7" fill="#f07878" fill-opacity="0.32"/>
<ellipse cx="380.9" cy="114.7" rx="3.0" ry="3.0" fill="#f07878" fill-opacity="0.28"/>
<ellipse cx="394.1" cy="115.3" rx="3.0" ry="3.0" fill="#f07878" fill-opacity="0.49"/>
<ellipse cx="410.7" cy="119.2" rx="3.0" ry="2.7" fill="#f07878" fill-opacity="0.45"/>
<ellipse cx="404.8" cy="122.8" rx="3.0" ry="2.7" fill="#f07878" fill-opacity="0.49"/>
<ellipse cx="405.7" cy="114.4" rx="3.0" ry="3.0" fill="#f07878" fill-opacity="0.41"/>
<ellipse cx="416.6" cy="122.8" rx="3.0" ry="2.7" fill="#f07878" fill-opacity="0.32"/>
<ellipse cx="416.1" cy="114.2" rx="3.0" ry="3.0" fill="#f07878" fill-opacity="0.52"/>
<ellipse cx="434.3" cy="119.2" rx="3.0" ry="2.7" fill="#8890f0" fill-opacity="0.30"/>
<ellipse cx="428.4" cy="122.8" rx="3.0" ry="2.7" fill="#f07878" fill-opacity="0.40"/>
<ellipse cx="427.0" cy="116.7" rx="3.0" ry="3.0" fill="#f07878" fill-opacity="0.35"/>
<ellipse cx="446.1" cy="119.2" rx="3.0" ry="2.7" fill="#f07878" fill-opacity="0.49"/>
<ellipse cx="439.3" cy="114.9" rx="3.0" ry="3.0" fill="#f07878" fill-opacity="0.53"/>
<ellipse cx="452.0" cy="122.8" rx="3.0" ry="2.7" fill="#f07878" fill-opacity="0.47"/>
<ellipse cx="451.9" cy="114.5" rx="3.0" ry="3.0" fill="#f07878" fill-opacity="0.52"/>
<ellipse cx="463.8" cy="122.8" rx="3.0" ry="2.7" fill="#f07878" fill-opacity="0.42"/>
<ellipse cx="464.9" cy="114.2" rx="3.0" ry="3.0" fill="#f07878" fill-opacity="0.29"/>
<ellipse cx="481.5" cy="119.2" rx="3.0" ry="2.7" fill="#8890f0" fill-opacity="0.28"/>
<ellipse cx="476.2" cy="114.4" rx="3.0" ry="3.0" fill="#8890f0" fill-opacity="0.42"/>
<ellipse cx="316.4" cy="133.8" rx="3.0" ry="2.7" fill="#f07878" fill-opacity="0.28"/>
<ellipse cx="315.8" cy="127.1" rx="3.0" ry="3.0" fill="#f07878" fill-opacity="0.31"/>
<ellipse cx="334.1" cy="130.1" rx="3.0" ry="2.7" fill="#f07878" fill-opacity="0.32"/>
<ellipse cx="328.2" cy="133.8" rx="3.0" ry="2.7" fill="#8890f0" fill-opacity="0.38"/>
<ellipse cx="328.7" cy="127.6" rx="3.0" ry="3.0" fill="#f07878" fill-opacity="0.43"/>
<ellipse cx="345.9" cy="130.1" rx="3.0" ry="2.7" fill="#f07878" fill-opacity="0.33"/>
<ellipse cx="339.3" cy="126.9" rx="3.0" ry="3.0" fill="#f07878" fill-opacity="0.28"/>
<ellipse cx="351.8" cy="133.8" rx="3.0" ry="2.7" fill="#f07878" fill-opacity="0.39"/>
<ellipse cx="350.4" cy="126.8" rx="3.0" ry="3.0" fill="#f07878" fill-opacity="0.34"/>
<ellipse cx="369.5" cy="130.1" rx="3.0" ry="2.7" fill="#f07878" fill-opacity="0.46"/>
<ellipse cx="363.6" cy="133.8" rx="3.0" ry="2.7" fill="#f07878" fill-opacity="0.33"/>
<ellipse cx="362.8" cy="125.8" rx="3.0" ry="3.0" fill="#8890f0" fill-opacity="0.38"/>
<ellipse cx="381.3" cy="130.1" rx="3.0" ry="2.7" fill="#f07878" fill-opacity="0.48"/>
<ellipse cx="375.2" cy="127.2" rx="3.0" ry="3.0" fill="#f07878" fill-opacity="0.37"/>
<ellipse cx="387.2" cy="133.8" rx="3.0" ry="2.7" fill="#f07878" fill-opacity="0.30"/>
<ellipse cx="387.6" cy="126.1" rx="3.0" ry="3.0" fill="#f07878" fill-opacity="0.45"/>
<ellipse cx="404.8" cy="130.1" rx="3.0" ry="2.7" fill="#8890f0" fill-opacity="0.32"/>
<ellipse cx="398.9" cy="133.8" rx="3.0" ry="2.7" fill="#f07878" fill-opacity="0.47"/>
<ellipse cx="399.0" cy="127.8" rx="3.0" ry="3.0" fill="#f07878" fill-opacity="0.31"/>
<ellipse cx="416.6" cy="130.1" rx="3.0" ry="2.7" fill="#8890f0" fill-opacity="0.25"/>
<ellipse cx="410.7" cy="133.8" rx="3.0" ry="2.7" fill="#f07878" fill-opacity="0.32"/>
<ellipse cx="411.6" cy="127.3" rx="3.0" ry="3.0" fill="#f07878" fill-opacity="0.49"/>
<ellipse cx="428.4" cy="130.1" rx="3.0" ry="2.7" fill="#f07878" fill-opacity="0.38"/>
<ellipse cx="422.5" cy="133.8" rx="3.0" ry="2.7" fill="#f07878" fill-opacity="0.40"/>
<ellipse cx="421.1" cy="126.8" rx="3.0" ry="3.0" fill="#f07878" fill-opacity="0.47"/>
<ellipse cx="440.2" cy="130.1" rx="3.0" ry="2.7" fill="#f07878" fill-opacity="0.48"/>
<ellipse cx="434.3" cy="133.8" rx="3.0" ry="2.7" fill="#f07878" fill-opacity="0.29"/>
<ellipse cx="434.3" cy="126.3" rx="3.0" ry="3.0" fill="#f07878" fill-opacity="0.39"/>
<ellipse cx="452.0" cy="130.1" rx="3.0" ry="2.7" fill="#f07878" fill-opacity="0.46"/>
<ellipse cx="446.1" cy="133.8" rx="3.0" ry="2.7" fill="#f07878" fill-opacity="0.49"/>
<ellipse cx="446.2" cy="127.4" rx="3.0" ry="3.0" fill="#f07878" fill-opacity="0.33"/>
<ellipse cx="463.8" cy="130.1" rx="3.0" ry="2.7" fill="#f07878" fill-opacity="0.33"/>
<ellipse cx="457.9" cy="133.8" rx="3.0" ry="2.7" fill="#f07878" fill-opacity="0.34"/>
<ellipse cx="458.0" cy="125.8" rx="3.0" ry="3.0" fill="#f07878" fill-opacity="0.43"/>
<ellipse cx="475.6" cy="130.1" rx="3.0" ry="2.7" fill="#f07878" fill-opacity="0.46"/>
<ellipse cx="469.7" cy="133.8" rx="3.0" ry="2.7" fill="#f07878" fill-opacity="0.32"/>
<ellipse cx="470.3" cy="127.5" rx="3.0" ry="3.0" fill="#f07878" fill-opacity="0.49"/>
<ellipse cx="316.4" cy="141.1" rx="3.0" ry="2.7" fill="#f07878" fill-opacity="0.36"/>
<ellipse cx="310.5" cy="144.8" rx="3.0" ry="2.7" fill="#f07878" fill-opacity="0.31"/>
<ellipse cx="328.2" cy="141.1" rx="3.0" ry="2.7" fill="#8890f0" fill-opacity="0.42"/>
<ellipse cx="322.3" cy="144.8" rx="3.0" ry="2.7" fill="#f07878" fill-opacity="0.37"/>
<ellipse cx="320.9" cy="136.7" rx="3.0" ry="3.0" fill="#f07878" fill-opacity="0.52"/>
<ellipse cx="340.0" cy="141.1" rx="3.0" ry="2.7" fill="#f07878" fill-opacity="0.36"/>
<ellipse cx="334.1" cy="144.8" rx="3.0" ry="2.7" fill="#f07878" fill-opacity="0.36"/>
<ellipse cx="332.7" cy="139.0" rx="3.0" ry="3.0" fill="#f07878" fill-opacity="0.48"/>
<ellipse cx="351.8" cy="141.1" rx="3.0" ry="2.7" fill="#8890f0" fill-opacity="0.26"/>
<ellipse cx="345.9" cy="144.8" rx="3.0" ry="2.7" fill="#f07878" fill-opacity="0.40"/>
<ellipse cx="345.8" cy="138.8" rx="3.0" ry="3.0" fill="#f07878" fill-opacity="0.36"/>
<ellipse cx="363.6" cy="141.1" rx="3.0" ry="2.7" fill="#f07878" fill-opacity="0.51"/>
<ellipse cx="357.7" cy="144.8" rx="3.0" ry="2.7" fill="#f07878" fill-opacity="0.27"/>
<ellipse cx="358.1" cy="136.1" rx="3.0" ry="3.0" fill="#f07878" fill-opacity="0.36"/>
<ellipse cx="375.4" cy="141.1" rx="3.0" ry="2.7" fill="#8890f0" fill-opacity="0.40"/>
<ellipse cx="369.5" cy="144.8" rx="3.0" ry="2.7" fill="#f07878" fill-opacity="0.48"/>
<ellipse cx="369.1" cy="138.5" rx="3.0" ry="3.0" fill="#f07878" fill-opacity="0.37"/>
<ellipse cx="387.2" cy="141.1" rx="3.0" ry="2.7" fill="#8890f0" fill-opacity="0.26"/>
<ellipse cx="381.3" cy="144.8" rx="3.0" ry="2.7" fill="#f07878" fill-opacity="0.30"/>
<ellipse cx="380.2" cy="136.6" rx="3.0" ry="3.0" fill="#f07878" fill-opacity="0.32"/>
<ellipse cx="398.9" cy="141.1" rx="3.0" ry="2.7" fill="#f07878" fill-opacity="0.33"/>
<ellipse cx="393.1" cy="144.8" rx="3.0" ry="2.7" fill="#f07878" fill-opacity="0.51"/>
<ellipse cx="394.1" cy="136.6" rx="3.0" ry="3.0" fill="#f07878" fill-opacity="0.37"/>
<ellipse cx="410.7" cy="141.1" rx="3.0" ry="2.7" fill="#f07878" fill-opacity="0.43"/>
<ellipse cx="404.8" cy="144.8" rx="3.0" ry="2.7" fill="#f07878" fill-opacity="0.33"/>
<ellipse cx="403.9" cy="136.8" rx="3.0" ry="3.0" fill="#f07878" fill-opacity="0.37"/>
<ellipse cx="416.6" cy="144.8" rx="3.0" ry="2.7" fill="#8890f0" fill-opacity="0.27"/>
<ellipse cx="415.6" cy="138.8" rx="3.0" ry="3.0" fill="#f07878" fill-opacity="0.36"/>
<ellipse cx="434.3" cy="141.1" rx="3.0" ry="2.7" fill="#8890f0" fill-opacity="0.37"/>
<ellipse cx="427.9" cy="137.1" rx="3.0" ry="3.0" fill="#f07878" fill-opacity="0.28"/>
<ellipse cx="440.2" cy="144.8" rx="3.0" ry="2.7" fill="#f07878" fill-opacity="0.45"/>
<ellipse cx="438.9" cy="137.2" rx="3.0" ry="3.0" fill="#f07878" fill-opacity="0.33"/>
<ellipse cx="457.9" cy="141.1" rx="3.0" ry="2.7" fill="#f07878" fill-opacity="0.29"/>
<ellipse cx="452.0" cy="144.8" rx="3.0" ry="2.7" fill="#f07878" fill-opacity="0.26"/>
<ellipse cx="451.8" cy="137.6" rx="3.0" ry="3.0" fill="#f07878" fill-opacity="0.30"/>
<ellipse cx="469.7" cy="141.1" rx="3.0" ry="2.7" fill="#8890f0" fill-opacity="0.27"/>
<ellipse cx="463.8" cy="144.8" rx="3.0" ry="2.7" fill="#8890f0" fill-opacity="0.35"/>
<ellipse cx="462.9" cy="136.8" rx="3.0" ry="3.0" fill="#f07878" fill-opacity="0.47"/>
<ellipse cx="481.5" cy="141.1" rx="3.0" ry="2.7" fill="#f07878" fill-opacity="0.35"/>
<ellipse cx="475.0" cy="137.0" rx="3.0" ry="3.0" fill="#f07878" fill-opacity="0.32"/>
<ellipse cx="322.3" cy="152.1" rx="3.0" ry="2.7" fill="#f07878" fill-opacity="0.26"/>
<ellipse cx="316.4" cy="155.8" rx="3.0" ry="2.7" fill="#f07878" fill-opacity="0.40"/>
<ellipse cx="317.8" cy="147.8" rx="3.0" ry="3.0" fill="#8890f0" fill-opacity="0.41"/>
<ellipse cx="328.2" cy="155.8" rx="3.0" ry="2.7" fill="#f07878" fill-opacity="0.43"/>
<ellipse cx="329.6" cy="149.6" rx="3.0" ry="3.0" fill="#f07878" fill-opacity="0.32"/>
<ellipse cx="345.9" cy="152.1" rx="3.0" ry="2.7" fill="#f07878" fill-opacity="0.28"/>
<ellipse cx="340.0" cy="155.8" rx="3.0" ry="2.7" fill="#f07878" fill-opacity="0.36"/>
<ellipse cx="339.6" cy="147.9" rx="3.0" ry="3.0" fill="#f07878" fill-opacity="0.40"/>
<ellipse cx="357.7" cy="152.1" rx="3.0" ry="2.7" fill="#f07878" fill-opacity="0.30"/>
<ellipse cx="351.8" cy="155.8" rx="3.0" ry="2.7" fill="#f07878" fill-opacity="0.38"/>
<ellipse cx="352.3" cy="147.7" rx="3.0" ry="3.0" fill="#f07878" fill-opacity="0.28"/>
<ellipse cx="369.5" cy="152.1" rx="3.0" ry="2.7" fill="#f07878" fill-opacity="0.36"/>
<ellipse cx="363.6" cy="155.8" rx="3.0" ry="2.7" fill="#f07878" fill-opacity="0.40"/>
<ellipse cx="363.7" cy="149.1" rx="3.0" ry="3.0" fill="#f07878" fill-opacity="0.26"/>
<ellipse cx="381.3" cy="152.1" rx="3.0" ry="2.7" fill="#f07878" fill-opacity="0.35"/>
<ellipse cx="375.4" cy="155.8" rx="3.0" ry="2.7" fill="#f07878" fill-opacity="0.36"/>
<ellipse cx="375.3" cy="148.7" rx="3.0" ry="3.0" fill="#f07878" fill-opacity="0.39"/>
<ellipse cx="393.0" cy="152.1" rx="3.0" ry="2.7" fill="#f07878" fill-opacity="0.32"/>
<ellipse cx="387.2" cy="155.8" rx="3.0" ry="2.7" fill="#f07878" fill-opacity="0.34"/>
<ellipse cx="404.8" cy="152.1" rx="3.0" ry="2.7" fill="#8890f0" fill-opacity="0.25"/>
<ellipse cx="398.9" cy="155.8" rx="3.0" ry="2.7" fill="#f07878" fill-opacity="0.41"/>
<ellipse cx="410.7" cy="155.8" rx="3.0" ry="2.7" fill="#8890f0" fill-opacity="0.35"/>
<ellipse cx="410.5" cy="148.2" rx="3.0" ry="3.0" fill="#f07878" fill-opacity="0.34"/>
<ellipse cx="428.4" cy="152.1" rx="3.0" ry="2.7" fill="#8890f0" fill-opacity="0.40"/>
<ellipse cx="422.5" cy="155.8" rx="3.0" ry="2.7" fill="#f07878" fill-opacity="0.49"/>
<ellipse cx="421.4" cy="148.5" rx="3.0" ry="3.0" fill="#f07878" fill-opacity="0.35"/>
<ellipse cx="440.2" cy="152.1" rx="3.0" ry="2.7" fill="#f07878" fill-opacity="0.50"/>
<ellipse cx="434.3" cy="155.8" rx="3.0" ry="2.7" fill="#f07878" fill-opacity="0.30"/>
<ellipse cx="434.9" cy="147.7" rx="3.0" ry="3.0" fill="#f07878" fill-opacity="0.26"/>
<ellipse cx="452.0" cy="152.1" rx="3.0" ry="2.7" fill="#f07878" fill-opacity="0.36"/>
<ellipse cx="446.1" cy="155.8" rx="3.0" ry="2.7" fill="#f07878" fill-opacity="0.38"/>
<ellipse cx="446.3" cy="148.8" rx="3.0" ry="3.0" fill="#f07878" fill-opacity="0.42"/>
<ellipse cx="463.8" cy="152.1" rx="3.0" ry="2.7" fill="#8890f0" fill-opacity="0.42"/>
<ellipse cx="457.9" cy="155.8" rx="3.0" ry="2.7" fill="#f07878" fill-opacity="0.34"/>
<ellipse cx="475.6" cy="152.1" rx="3.0" ry="2.7" fill="#8890f0" fill-opacity="0.36"/>
<ellipse cx="468.7" cy="148.8" rx="3.0" ry="3.0" fill="#8890f0" fill-opacity="0.36"/>
<ellipse cx="316.4" cy="163.1" rx="3.0" ry="2.7" fill="#f07878" fill-opacity="0.35"/>
<ellipse cx="310.5" cy="166.7" rx="3.0" ry="2.7" fill="#f07878" fill-opacity="0.45"/>
<ellipse cx="309.7" cy="158.7" rx="3.0" ry="3.0" fill="#f07878" fill-opacity="0.35"/>
<ellipse cx="328.2" cy="163.1" rx="3.0" ry="2.7" fill="#f07878" fill-opacity="0.39"/>
<ellipse cx="322.3" cy="166.7" rx="3.0" ry="2.7" fill="#f07878" fill-opacity="0.27"/>
<ellipse cx="321.1" cy="160.0" rx="3.0" ry="3.0" fill="#f07878" fill-opacity="0.29"/>
<ellipse cx="340.0" cy="163.1" rx="3.0" ry="2.7" fill="#f07878" fill-opacity="0.45"/>
<ellipse cx="334.1" cy="166.7" rx="3.0" ry="2.7" fill="#f07878" fill-opacity="0.30"/>
<ellipse cx="335.2" cy="158.1" rx="3.0" ry="3.0" fill="#8890f0" fill-opacity="0.29"/>
<ellipse cx="351.8" cy="163.1" rx="3.0" ry="2.7" fill="#f07878" fill-opacity="0.46"/>
<ellipse cx="345.9" cy="166.7" rx="3.0" ry="2.7" fill="#f07878" fill-opacity="0.44"/>
<ellipse cx="346.5" cy="158.9" rx="3.0" ry="3.0" fill="#f07878" fill-opacity="0.35"/>
<ellipse cx="363.6" cy="163.1" rx="3.0" ry="2.7" fill="#8890f0" fill-opacity="0.39"/>
<ellipse cx="357.7" cy="166.7" rx="3.0" ry="2.7" fill="#8890f0" fill-opacity="0.33"/>
<ellipse cx="358.3" cy="159.8" rx="3.0" ry="3.0" fill="#f07878" fill-opacity="0.50"/>
<ellipse cx="375.4" cy="163.1" rx="3.0" ry="2.7" fill="#8890f0" fill-opacity="0.24"/>
<ellipse cx="369.5" cy="166.7" rx="3.0" ry="2.7" fill="#f07878" fill-opacity="0.43"/>
<ellipse cx="368.5" cy="158.0" rx="3.0" ry="3.0" fill="#f07878" fill-opacity="0.43"/>
<ellipse cx="381.8" cy="159.2" rx="3.0" ry="3.0" fill="#f07878" fill-opacity="0.44"/>
<ellipse cx="398.9" cy="163.1" rx="3.0" ry="2.7" fill="#f07878" fill-opacity="0.49"/>
<ellipse cx="393.7" cy="158.3" rx="3.0" ry="3.0" fill="#f07878" fill-opacity="0.27"/>
<ellipse cx="410.7" cy="163.1" rx="3.0" ry="2.7" fill="#f07878" fill-opacity="0.44"/>
<ellipse cx="404.3" cy="158.0" rx="3.0" ry="3.0" fill="#f07878" fill-opacity="0.42"/>
<ellipse cx="422.5" cy="163.1" rx="3.0" ry="2.7" fill="#f07878" fill-opacity="0.35"/>
<ellipse cx="416.6" cy="166.7" rx="3.0" ry="2.7" fill="#f07878" fill-opacity="0.46"/>
<ellipse cx="416.0" cy="159.1" rx="3.0" ry="3.0" fill="#8890f0" fill-opacity="0.40"/>
<ellipse cx="434.3" cy="163.1" rx="3.0" ry="2.7" fill="#8890f0" fill-opacity="0.42"/>
<ellipse cx="428.4" cy="166.7" rx="3.0" ry="2.7" fill="#f07878" fill-opacity="0.43"/>
<ellipse cx="429.3" cy="158.4" rx="3.0" ry="3.0" fill="#f07878" fill-opacity="0.31"/>
<ellipse cx="446.1" cy="163.1" rx="3.0" ry="2.7" fill="#f07878" fill-opacity="0.49"/>
<ellipse cx="440.2" cy="166.7" rx="3.0" ry="2.7" fill="#f07878" fill-opacity="0.38"/>
<ellipse cx="439.7" cy="158.0" rx="3.0" ry="3.0" fill="#f07878" fill-opacity="0.42"/>
<ellipse cx="457.9" cy="163.1" rx="3.0" ry="2.7" fill="#f07878" fill-opacity="0.41"/>
<ellipse cx="452.0" cy="166.7" rx="3.0" ry="2.7" fill="#f07878" fill-opacity="0.31"/>
<ellipse cx="451.6" cy="158.7" rx="3.0" ry="3.0" fill="#f07878" fill-opacity="0.27"/>
<ellipse cx="469.7" cy="163.1" rx="3.0" ry="2.7" fill="#f07878" fill-opacity="0.48"/>
<ellipse cx="463.8" cy="166.7" rx="3.0" ry="2.7" fill="#f07878" fill-opacity="0.27"/>
<ellipse cx="463.8" cy="160.9" rx="3.0" ry="3.0" fill="#f07878" fill-opacity="0.32"/>
<ellipse cx="475.6" cy="166.7" rx="3.0" ry="2.7" fill="#f07878" fill-opacity="0.36"/>
<ellipse cx="475.3" cy="158.1" rx="3.0" ry="3.0" fill="#8890f0" fill-opacity="0.38"/>
<ellipse cx="322.3" cy="174.1" rx="3.0" ry="2.7" fill="#8890f0" fill-opacity="0.34"/>
<ellipse cx="316.4" cy="177.7" rx="3.0" ry="2.7" fill="#f07878" fill-opacity="0.49"/>
<ellipse cx="317.9" cy="170.2" rx="3.0" ry="3.0" fill="#8890f0" fill-opacity="0.46"/>
<ellipse cx="334.1" cy="174.1" rx="3.0" ry="2.7" fill="#8890f0" fill-opacity="0.25"/>
<ellipse cx="328.2" cy="177.7" rx="3.0" ry="2.7" fill="#f07878" fill-opacity="0.30"/>
<ellipse cx="326.9" cy="170.0" rx="3.0" ry="3.0" fill="#f07878" fill-opacity="0.48"/>
<ellipse cx="345.9" cy="174.1" rx="3.0" ry="2.7" fill="#f07878" fill-opacity="0.39"/>
<ellipse cx="340.0" cy="177.7" rx="3.0" ry="2.7" fill="#f07878" fill-opacity="0.31"/>
<ellipse cx="357.7" cy="174.1" rx="3.0" ry="2.7" fill="#8890f0" fill-opacity="0.38"/>
<ellipse cx="351.8" cy="177.7" rx="3.0" ry="2.7" fill="#8890f0" fill-opacity="0.30"/>
<ellipse cx="352.8" cy="171.2" rx="3.0" ry="3.0" fill="#8890f0" fill-opacity="0.51"/>
<ellipse cx="369.5" cy="174.1" rx="3.0" ry="2.7" fill="#f07878" fill-opacity="0.50"/>
<ellipse cx="363.6" cy="177.7" rx="3.0" ry="2.7" fill="#f07878" fill-opacity="0.43"/>
<ellipse cx="364.8" cy="169.0" rx="3.0" ry="3.0" fill="#f07878" fill-opacity="0.43"/>
<ellipse cx="381.3" cy="174.1" rx="3.0" ry="2.7" fill="#f07878" fill-opacity="0.35"/>
<ellipse cx="375.4" cy="177.7" rx="3.0" ry="2.7" fill="#f07878" fill-opacity="0.42"/>
<ellipse cx="375.0" cy="170.8" rx="3.0" ry="3.0" fill="#8890f0" fill-opacity="0.32"/>
<ellipse cx="393.0" cy="174.1" rx="3.0" ry="2.7" fill="#f07878" fill-opacity="0.49"/>
<ellipse cx="387.2" cy="177.7" rx="3.0" ry="2.7" fill="#f07878" fill-opacity="0.28"/>
<ellipse cx="387.9" cy="169.5" rx="3.0" ry="3.0" fill="#f07878" fill-opacity="0.48"/>
<ellipse cx="404.8" cy="174.1" rx="3.0" ry="2.7" fill="#f07878" fill-opacity="0.43"/>
<ellipse cx="398.9" cy="177.7" rx="3.0" ry="2.7" fill="#f07878" fill-opacity="0.28"/>
<ellipse cx="398.5" cy="170.2" rx="3.0" ry="3.0" fill="#f07878" fill-opacity="0.26"/>
<ellipse cx="416.6" cy="174.1" rx="3.0" ry="2.7" fill="#f07878" fill-opacity="0.36"/>
<ellipse cx="410.7" cy="177.7" rx="3.0" ry="2.7" fill="#f07878" fill-opacity="0.39"/>
<ellipse cx="428.4" cy="174.1" rx="3.0" ry="2.7" fill="#f07878" fill-opacity="0.45"/>
<ellipse cx="422.5" cy="177.7" rx="3.0" ry="2.7" fill="#f07878" fill-opacity="0.51"/>
<ellipse cx="423.9" cy="169.6" rx="3.0" ry="3.0" fill="#f07878" fill-opacity="0.38"/>
<ellipse cx="440.2" cy="174.1" rx="3.0" ry="2.7" fill="#8890f0" fill-opacity="0.25"/>
<ellipse cx="434.3" cy="177.7" rx="3.0" ry="2.7" fill="#f07878" fill-opacity="0.43"/>
<ellipse cx="452.0" cy="174.1" rx="3.0" ry="2.7" fill="#f07878" fill-opacity="0.51"/>
<ellipse cx="446.1" cy="177.7" rx="3.0" ry="2.7" fill="#f07878" fill-opacity="0.42"/>
<ellipse cx="446.5" cy="169.5" rx="3.0" ry="3.0" fill="#f07878" fill-opacity="0.44"/>
<ellipse cx="457.9" cy="170.6" rx="3.0" ry="3.0" fill="#f07878" fill-opacity="0.29"/>
<ellipse cx="475.6" cy="174.1" rx="3.0" ry="2.7" fill="#8890f0" fill-opacity="0.36"/>
<ellipse cx="469.7" cy="177.7" rx="3.0" ry="2.7" fill="#f07878" fill-opacity="0.42"/>
<ellipse cx="469.4" cy="169.6" rx="3.0" ry="3.0" fill="#f07878" fill-opacity="0.43"/>
</g>
<g filter="url(#blur1)">
<ellipse cx="311.13" cy="57.50" rx="1.35" ry="3.37" fill="#f41010" fill-opacity="0.72"/>
<ellipse cx="312.18" cy="64.10" rx="1.35" ry="3.37" fill="#f41010" fill-opacity="0.72"/>
<ellipse cx="311.80" cy="60.80" rx="0.61" ry="2.97" fill="#f41010" fill-opacity="0.72"/>
<ellipse cx="315.79" cy="57.50" rx="1.35" ry="3.37" fill="#1414f4" fill-opacity="0.72"/>
<ellipse cx="315.48" cy="64.10" rx="1.35" ry="3.37" fill="#1414f4" fill-opacity="0.72"/>
<ellipse cx="315.52" cy="60.80" rx="0.61" ry="2.97" fill="#1414f4" fill-opacity="0.72"/>
<ellipse cx="318.67" cy="57.50" rx="1.35" ry="3.37" fill="#f41010" fill-opacity="0.72"/>
<ellipse cx="319.83" cy="64.10" rx="1.35" ry="3.37" fill="#f41010" fill-opacity="0.72"/>
<ellipse cx="319.24" cy="60.80" rx="0.61" ry="2.97" fill="#f41010" fill-opacity="0.72"/>
<ellipse cx="323.58" cy="57.50" rx="1.35" ry="3.37" fill="#1414f4" fill-opacity="0.72"/>
<ellipse cx="322.98" cy="64.10" rx="1.35" ry="3.37" fill="#1414f4" fill-opacity="0.72"/>
<ellipse cx="322.96" cy="60.80" rx="0.61" ry="2.97" fill="#1414f4" fill-opacity="0.72"/>
<ellipse cx="326.69" cy="57.50" rx="1.35" ry="3.37" fill="#f41010" fill-opacity="0.72"/>
<ellipse cx="326.15" cy="64.10" rx="1.35" ry="3.37" fill="#f41010" fill-opacity="0.72"/>
<ellipse cx="326.68" cy="60.80" rx="0.61" ry="2.97" fill="#f41010" fill-opacity="0.72"/>
<ellipse cx="329.41" cy="57.50" rx="1.35" ry="3.37" fill="#1414f4" fill-opacity="0.72"/>
<ellipse cx="330.14" cy="64.10" rx="1.35" ry="3.37" fill="#1414f4" fill-opacity="0.72"/>
<ellipse cx="330.40" cy="60.80" rx="0.61" ry="2.97" fill="#1414f4" fill-opacity="0.72"/>
<ellipse cx="334.29" cy="57.50" rx="1.35" ry="3.37" fill="#f41010" fill-opacity="0.72"/>
<ellipse cx="333.26" cy="64.10" rx="1.35" ry="3.37" fill="#f41010" fill-opacity="0.72"/>
<ellipse cx="334.12" cy="60.80" rx="0.61" ry="2.97" fill="#f41010" fill-opacity="0.72"/>
<ellipse cx="338.43" cy="57.50" rx="1.35" ry="3.37" fill="#1414f4" fill-opacity="0.72"/>
<ellipse cx="337.30" cy="64.10" rx="1.35" ry="3.37" fill="#1414f4" fill-opacity="0.72"/>
<ellipse cx="337.84" cy="60.80" rx="0.61" ry="2.97" fill="#1414f4" fill-opacity="0.72"/>
<ellipse cx="341.03" cy="57.50" rx="1.35" ry="3.37" fill="#f41010" fill-opacity="0.72"/>
<ellipse cx="340.64" cy="64.10" rx="1.35" ry="3.37" fill="#f41010" fill-opacity="0.72"/>
<ellipse cx="341.56" cy="60.80" rx="0.61" ry="2.97" fill="#f41010" fill-opacity="0.72"/>
<ellipse cx="346.28" cy="57.50" rx="1.35" ry="3.37" fill="#1414f4" fill-opacity="0.72"/>
<ellipse cx="345.76" cy="64.10" rx="1.35" ry="3.37" fill="#1414f4" fill-opacity="0.72"/>
<ellipse cx="345.28" cy="60.80" rx="0.61" ry="2.97" fill="#1414f4" fill-opacity="0.72"/>
<ellipse cx="349.75" cy="57.50" rx="1.35" ry="3.37" fill="#f41010" fill-opacity="0.72"/>
<ellipse cx="349.23" cy="64.10" rx="1.35" ry="3.37" fill="#f41010" fill-opacity="0.72"/>
<ellipse cx="349.00" cy="60.80" rx="0.61" ry="2.97" fill="#f41010" fill-opacity="0.72"/>
<ellipse cx="351.79" cy="57.50" rx="1.35" ry="3.37" fill="#1414f4" fill-opacity="0.72"/>
<ellipse cx="352.38" cy="64.10" rx="1.35" ry="3.37" fill="#1414f4" fill-opacity="0.72"/>
<ellipse cx="352.72" cy="60.80" rx="0.61" ry="2.97" fill="#1414f4" fill-opacity="0.72"/>
<ellipse cx="356.44" cy="57.50" rx="1.35" ry="3.37" fill="#f41010" fill-opacity="0.72"/>
<ellipse cx="355.67" cy="64.10" rx="1.35" ry="3.37" fill="#f41010" fill-opacity="0.72"/>
<ellipse cx="356.44" cy="60.80" rx="0.61" ry="2.97" fill="#f41010" fill-opacity="0.72"/>
<ellipse cx="361.06" cy="57.50" rx="1.35" ry="3.37" fill="#1414f4" fill-opacity="0.72"/>
<ellipse cx="359.90" cy="64.10" rx="1.35" ry="3.37" fill="#1414f4" fill-opacity="0.72"/>
<ellipse cx="360.16" cy="60.80" rx="0.61" ry="2.97" fill="#1414f4" fill-opacity="0.72"/>
<ellipse cx="363.19" cy="57.50" rx="1.35" ry="3.37" fill="#f41010" fill-opacity="0.72"/>
<ellipse cx="364.52" cy="64.10" rx="1.35" ry="3.37" fill="#f41010" fill-opacity="0.72"/>
<ellipse cx="363.88" cy="60.80" rx="0.61" ry="2.97" fill="#f41010" fill-opacity="0.72"/>
<ellipse cx="366.85" cy="57.50" rx="1.35" ry="3.37" fill="#1414f4" fill-opacity="0.72"/>
<ellipse cx="368.46" cy="64.10" rx="1.35" ry="3.37" fill="#1414f4" fill-opacity="0.72"/>
<ellipse cx="367.60" cy="60.80" rx="0.61" ry="2.97" fill="#1414f4" fill-opacity="0.72"/>
<ellipse cx="371.23" cy="57.50" rx="1.35" ry="3.37" fill="#f41010" fill-opacity="0.72"/>
<ellipse cx="371.42" cy="64.10" rx="1.35" ry="3.37" fill="#f41010" fill-opacity="0.72"/>
<ellipse cx="371.32" cy="60.80" rx="0.61" ry="2.97" fill="#f41010" fill-opacity="0.72"/>
<ellipse cx="374.73" cy="57.50" rx="1.35" ry="3.37" fill="#1414f4" fill-opacity="0.72"/>
<ellipse cx="375.01" cy="64.10" rx="1.35" ry="3.37" fill="#1414f4" fill-opacity="0.72"/>
<ellipse cx="375.04" cy="60.80" rx="0.61" ry="2.97" fill="#1414f4" fill-opacity="0.72"/>
<ellipse cx="378.13" cy="57.50" rx="1.35" ry="3.37" fill="#f41010" fill-opacity="0.72"/>
<ellipse cx="377.83" cy="64.10" rx="1.35" ry="3.37" fill="#f41010" fill-opacity="0.72"/>
<ellipse cx="378.76" cy="60.80" rx="0.61" ry="2.97" fill="#f41010" fill-opacity="0.72"/>
<ellipse cx="383.21" cy="57.50" rx="1.35" ry="3.37" fill="#1414f4" fill-opacity="0.72"/>
<ellipse cx="381.95" cy="64.10" rx="1.35" ry="3.37" fill="#1414f4" fill-opacity="0.72"/>
<ellipse cx="382.48" cy="60.80" rx="0.61" ry="2.97" fill="#1414f4" fill-opacity="0.72"/>
<ellipse cx="315.52" cy="50.50" rx="1.30" ry="2.30" fill="#1414f4" fill-opacity="0.6"/>
<ellipse cx="315.52" cy="71.00" rx="1.30" ry="2.30" fill="#1414f4" fill-opacity="0.6"/>
<ellipse cx="326.68" cy="50.50" rx="1.30" ry="2.30" fill="#f41010" fill-opacity="0.6"/>
<ellipse cx="326.68" cy="71.00" rx="1.30" ry="2.30" fill="#f41010" fill-opacity="0.6"/>
<ellipse cx="330.40" cy="50.50" rx="1.30" ry="2.30" fill="#1414f4" fill-opacity="0.6"/>
<ellipse cx="330.40" cy="71.00" rx="1.30" ry="2.30" fill="#1414f4" fill-opacity="0.6"/>
<ellipse cx="337.84" cy="50.50" rx="1.30" ry="2.30" fill="#1414f4" fill-opacity="0.6"/>
<ellipse cx="337.84" cy="71.00" rx="1.30" ry="2.30" fill="#1414f4" fill-opacity="0.6"/>
<ellipse cx="341.56" cy="50.50" rx="1.30" ry="2.30" fill="#f41010" fill-opacity="0.6"/>
<ellipse cx="341.56" cy="71.00" rx="1.30" ry="2.30" fill="#f41010" fill-opacity="0.6"/>
<ellipse cx="352.72" cy="50.50" rx="1.30" ry="2.30" fill="#1414f4" fill-opacity="0.6"/>
<ellipse cx="352.72" cy="71.00" rx="1.30" ry="2.30" fill="#1414f4" fill-opacity="0.6"/>
<ellipse cx="363.88" cy="50.50" rx="1.30" ry="2.30" fill="#f41010" fill-opacity="0.6"/>
<ellipse cx="363.88" cy="71.00" rx="1.30" ry="2.30" fill="#f41010" fill-opacity="0.6"/>
<ellipse cx="375.04" cy="50.50" rx="1.30" ry="2.30" fill="#1414f4" fill-opacity="0.6"/>
<ellipse cx="375.04" cy="71.00" rx="1.30" ry="2.30" fill="#1414f4" fill-opacity="0.6"/>
<ellipse cx="312.50" cy="58.50" rx="2.20" ry="3.20" fill="#1616f0" fill-opacity="0.9"/>
<ellipse cx="402.75" cy="123.30" rx="1.15" ry="3.57" fill="#f41010" fill-opacity="0.5"/>
<ellipse cx="401.77" cy="130.30" rx="1.15" ry="3.57" fill="#f41010" fill-opacity="0.5"/>
<ellipse cx="402.20" cy="126.80" rx="0.52" ry="3.15" fill="#f41010" fill-opacity="0.5"/>
<ellipse cx="405.39" cy="123.30" rx="1.15" ry="3.57" fill="#1414f4" fill-opacity="0.5"/>
<ellipse cx="406.56" cy="130.30" rx="1.15" ry="3.57" fill="#1414f4" fill-opacity="0.5"/>
<ellipse cx="405.96" cy="126.80" rx="0.52" ry="3.15" fill="#1414f4" fill-opacity="0.5"/>
<ellipse cx="409.34" cy="123.30" rx="1.15" ry="3.57" fill="#f41010" fill-opacity="0.5"/>
<ellipse cx="409.26" cy="130.30" rx="1.15" ry="3.57" fill="#f41010" fill-opacity="0.5"/>
<ellipse cx="409.72" cy="126.80" rx="0.52" ry="3.15" fill="#f41010" fill-opacity="0.5"/>
<ellipse cx="413.66" cy="123.30" rx="1.15" ry="3.57" fill="#1414f4" fill-opacity="0.5"/>
<ellipse cx="413.29" cy="130.30" rx="1.15" ry="3.57" fill="#1414f4" fill-opacity="0.5"/>
<ellipse cx="413.48" cy="126.80" rx="0.52" ry="3.15" fill="#1414f4" fill-opacity="0.5"/>
<ellipse cx="417.71" cy="123.30" rx="1.15" ry="3.57" fill="#f41010" fill-opacity="0.5"/>
<ellipse cx="416.92" cy="130.30" rx="1.15" ry="3.57" fill="#f41010" fill-opacity="0.5"/>
<ellipse cx="417.24" cy="126.80" rx="0.52" ry="3.15" fill="#f41010" fill-opacity="0.5"/>
<ellipse cx="421.55" cy="123.30" rx="1.15" ry="3.57" fill="#1414f4" fill-opacity="0.5"/>
<ellipse cx="420.78" cy="130.30" rx="1.15" ry="3.57" fill="#1414f4" fill-opacity="0.5"/>
<ellipse cx="421.00" cy="126.80" rx="0.52" ry="3.15" fill="#1414f4" fill-opacity="0.5"/>
<ellipse cx="424.88" cy="123.30" rx="1.15" ry="3.57" fill="#f41010" fill-opacity="0.5"/>
<ellipse cx="425.28" cy="130.30" rx="1.15" ry="3.57" fill="#f41010" fill-opacity="0.5"/>
<ellipse cx="424.76" cy="126.80" rx="0.52" ry="3.15" fill="#f41010" fill-opacity="0.5"/>
<ellipse cx="428.74" cy="123.30" rx="1.15" ry="3.57" fill="#1414f4" fill-opacity="0.5"/>
<ellipse cx="429.03" cy="130.30" rx="1.15" ry="3.57" fill="#1414f4" fill-opacity="0.5"/>
<ellipse cx="428.52" cy="126.80" rx="0.52" ry="3.15" fill="#1414f4" fill-opacity="0.5"/>
<ellipse cx="432.53" cy="123.30" rx="1.15" ry="3.57" fill="#f41010" fill-opacity="0.5"/>
<ellipse cx="431.74" cy="130.30" rx="1.15" ry="3.57" fill="#f41010" fill-opacity="0.5"/>
<ellipse cx="432.28" cy="126.80" rx="0.52" ry="3.15" fill="#f41010" fill-opacity="0.5"/>
<ellipse cx="436.50" cy="123.30" rx="1.15" ry="3.57" fill="#1414f4" fill-opacity="0.5"/>
<ellipse cx="436.15" cy="130.30" rx="1.15" ry="3.57" fill="#1414f4" fill-opacity="0.5"/>
<ellipse cx="436.04" cy="126.80" rx="0.52" ry="3.15" fill="#1414f4" fill-opacity="0.5"/>
<ellipse cx="439.57" cy="123.30" rx="1.15" ry="3.57" fill="#f41010" fill-opacity="0.5"/>
<ellipse cx="439.43" cy="130.30" rx="1.15" ry="3.57" fill="#f41010" fill-opacity="0.5"/>
<ellipse cx="439.80" cy="126.80" rx="0.52" ry="3.15" fill="#f41010" fill-opacity="0.5"/>
<ellipse cx="443.98" cy="123.30" rx="1.15" ry="3.57" fill="#1414f4" fill-opacity="0.5"/>
<ellipse cx="443.66" cy="130.30" rx="1.15" ry="3.57" fill="#1414f4" fill-opacity="0.5"/>
<ellipse cx="443.56" cy="126.80" rx="0.52" ry="3.15" fill="#1414f4" fill-opacity="0.5"/>
<ellipse cx="447.85" cy="123.30" rx="1.15" ry="3.57" fill="#f41010" fill-opacity="0.5"/>
<ellipse cx="447.65" cy="130.30" rx="1.15" ry="3.57" fill="#f41010" fill-opacity="0.5"/>
<ellipse cx="447.32" cy="126.80" rx="0.52" ry="3.15" fill="#f41010" fill-opacity="0.5"/>
<ellipse cx="451.63" cy="123.30" rx="1.15" ry="3.57" fill="#1414f4" fill-opacity="0.5"/>
<ellipse cx="451.16" cy="130.30" rx="1.15" ry="3.57" fill="#1414f4" fill-opacity="0.5"/>
<ellipse cx="451.08" cy="126.80" rx="0.52" ry="3.15" fill="#1414f4" fill-opacity="0.5"/>
<ellipse cx="455.08" cy="123.30" rx="1.15" ry="3.57" fill="#f41010" fill-opacity="0.5"/>
<ellipse cx="454.97" cy="130.30" rx="1.15" ry="3.57" fill="#f41010" fill-opacity="0.5"/>
<ellipse cx="454.84" cy="126.80" rx="0.52" ry="3.15" fill="#f41010" fill-opacity="0.5"/>
<ellipse cx="458.31" cy="123.30" rx="1.15" ry="3.57" fill="#1414f4" fill-opacity="0.5"/>
<ellipse cx="459.15" cy="130.30" rx="1.15" ry="3.57" fill="#1414f4" fill-opacity="0.5"/>
<ellipse cx="458.60" cy="126.80" rx="0.52" ry="3.15" fill="#1414f4" fill-opacity="0.5"/>
<ellipse cx="462.13" cy="123.30" rx="1.15" ry="3.57" fill="#f41010" fill-opacity="0.5"/>
<ellipse cx="462.70" cy="130.30" rx="1.15" ry="3.57" fill="#f41010" fill-opacity="0.5"/>
<ellipse cx="462.36" cy="126.80" rx="0.52" ry="3.15" fill="#f41010" fill-opacity="0.5"/>
<ellipse cx="466.67" cy="123.30" rx="1.15" ry="3.57" fill="#1414f4" fill-opacity="0.5"/>
<ellipse cx="466.30" cy="130.30" rx="1.15" ry="3.57" fill="#1414f4" fill-opacity="0.5"/>
<ellipse cx="466.12" cy="126.80" rx="0.52" ry="3.15" fill="#1414f4" fill-opacity="0.5"/>
<ellipse cx="469.45" cy="123.30" rx="1.15" ry="3.57" fill="#f41010" fill-opacity="0.5"/>
<ellipse cx="470.27" cy="130.30" rx="1.15" ry="3.57" fill="#f41010" fill-opacity="0.5"/>
<ellipse cx="469.88" cy="126.80" rx="0.52" ry="3.15" fill="#f41010" fill-opacity="0.5"/>
<ellipse cx="473.84" cy="123.30" rx="1.15" ry="3.57" fill="#1414f4" fill-opacity="0.5"/>
<ellipse cx="473.26" cy="130.30" rx="1.15" ry="3.57" fill="#1414f4" fill-opacity="0.5"/>
<ellipse cx="473.64" cy="126.80" rx="0.52" ry="3.15" fill="#1414f4" fill-opacity="0.5"/>
<ellipse cx="476.86" cy="123.30" rx="1.15" ry="3.57" fill="#f41010" fill-opacity="0.5"/>
<ellipse cx="477.44" cy="130.30" rx="1.15" ry="3.57" fill="#f41010" fill-opacity="0.5"/>
<ellipse cx="477.40" cy="126.80" rx="0.52" ry="3.15" fill="#f41010" fill-opacity="0.5"/>
<ellipse cx="407.50" cy="75.11" rx="1.25" ry="4.59" fill="#f41010" fill-opacity="0.85" transform="rotate(117.6 407.50 75.11)"/>
<ellipse cx="398.80" cy="72.33" rx="1.25" ry="4.59" fill="#f41010" fill-opacity="0.85" transform="rotate(117.6 398.80 72.33)"/>
<ellipse cx="403.00" cy="74.00" rx="0.56" ry="4.05" fill="#f41010" fill-opacity="0.85" transform="rotate(117.6 403.00 74.00)"/>
<ellipse cx="405.48" cy="78.96" rx="1.25" ry="4.59" fill="#1414f4" fill-opacity="0.85" transform="rotate(117.6 405.48 78.96)"/>
<ellipse cx="397.15" cy="75.46" rx="1.25" ry="4.59" fill="#1414f4" fill-opacity="0.85" transform="rotate(117.6 397.15 75.46)"/>
<ellipse cx="401.10" cy="77.63" rx="0.56" ry="4.05" fill="#1414f4" fill-opacity="0.85" transform="rotate(117.6 401.10 77.63)"/>
<ellipse cx="402.99" cy="83.72" rx="1.25" ry="4.59" fill="#f41010" fill-opacity="0.85" transform="rotate(117.6 402.99 83.72)"/>
<ellipse cx="394.88" cy="79.80" rx="1.25" ry="4.59" fill="#f41010" fill-opacity="0.85" transform="rotate(117.6 394.88 79.80)"/>
<ellipse cx="399.20" cy="81.26" rx="0.56" ry="4.05" fill="#f41010" fill-opacity="0.85" transform="rotate(117.6 399.20 81.26)"/>
<ellipse cx="401.33" cy="86.88" rx="1.25" ry="4.59" fill="#1414f4" fill-opacity="0.85" transform="rotate(117.6 401.33 86.88)"/>
<ellipse cx="393.31" cy="82.80" rx="1.25" ry="4.59" fill="#1414f4" fill-opacity="0.85" transform="rotate(117.6 393.31 82.80)"/>
<ellipse cx="397.29" cy="84.90" rx="0.56" ry="4.05" fill="#1414f4" fill-opacity="0.85" transform="rotate(117.6 397.29 84.90)"/>
<ellipse cx="399.91" cy="89.59" rx="1.25" ry="4.59" fill="#f41010" fill-opacity="0.85" transform="rotate(117.6 399.91 89.59)"/>
<ellipse cx="391.48" cy="86.30" rx="1.25" ry="4.59" fill="#f41010" fill-opacity="0.85" transform="rotate(117.6 391.48 86.30)"/>
<ellipse cx="395.39" cy="88.53" rx="0.56" ry="4.05" fill="#f41010" fill-opacity="0.85" transform="rotate(117.6 395.39 88.53)"/>
<ellipse cx="397.62" cy="93.98" rx="1.25" ry="4.59" fill="#1414f4" fill-opacity="0.85" transform="rotate(117.6 397.62 93.98)"/>
<ellipse cx="389.11" cy="90.82" rx="1.25" ry="4.59" fill="#1414f4" fill-opacity="0.85" transform="rotate(117.6 389.11 90.82)"/>
<ellipse cx="393.49" cy="92.16" rx="0.56" ry="4.05" fill="#1414f4" fill-opacity="0.85" transform="rotate(117.6 393.49 92.16)"/>
<ellipse cx="395.52" cy="97.98" rx="1.25" ry="4.59" fill="#f41010" fill-opacity="0.85" transform="rotate(117.6 395.52 97.98)"/>
<ellipse cx="387.31" cy="94.25" rx="1.25" ry="4.59" fill="#f41010" fill-opacity="0.85" transform="rotate(117.6 387.31 94.25)"/>
<ellipse cx="391.59" cy="95.79" rx="0.56" ry="4.05" fill="#f41010" fill-opacity="0.85" transform="rotate(117.6 391.59 95.79)"/>
<ellipse cx="393.74" cy="101.37" rx="1.25" ry="4.59" fill="#1414f4" fill-opacity="0.85" transform="rotate(117.6 393.74 101.37)"/>
<ellipse cx="386.06" cy="96.65" rx="1.25" ry="4.59" fill="#1414f4" fill-opacity="0.85" transform="rotate(117.6 386.06 96.65)"/>
<ellipse cx="389.68" cy="99.42" rx="0.56" ry="4.05" fill="#1414f4" fill-opacity="0.85" transform="rotate(117.6 389.68 99.42)"/>
<ellipse cx="391.38" cy="105.89" rx="1.25" ry="4.59" fill="#f41010" fill-opacity="0.85" transform="rotate(117.6 391.38 105.89)"/>
<ellipse cx="383.44" cy="101.65" rx="1.25" ry="4.59" fill="#f41010" fill-opacity="0.85" transform="rotate(117.6 383.44 101.65)"/>
<ellipse cx="387.78" cy="103.06" rx="0.56" ry="4.05" fill="#f41010" fill-opacity="0.85" transform="rotate(117.6 387.78 103.06)"/>
<ellipse cx="390.00" cy="108.51" rx="1.25" ry="4.59" fill="#1414f4" fill-opacity="0.85" transform="rotate(117.6 390.00 108.51)"/>
<ellipse cx="382.34" cy="103.74" rx="1.25" ry="4.59" fill="#1414f4" fill-opacity="0.85" transform="rotate(117.6 382.34 103.74)"/>
<ellipse cx="385.88" cy="106.69" rx="0.56" ry="4.05" fill="#1414f4" fill-opacity="0.85" transform="rotate(117.6 385.88 106.69)"/>
<ellipse cx="387.95" cy="112.43" rx="1.25" ry="4.59" fill="#f41010" fill-opacity="0.85" transform="rotate(117.6 387.95 112.43)"/>
<ellipse cx="379.99" cy="108.22" rx="1.25" ry="4.59" fill="#f41010" fill-opacity="0.85" transform="rotate(117.6 379.99 108.22)"/>
<ellipse cx="383.98" cy="110.32" rx="0.56" ry="4.05" fill="#f41010" fill-opacity="0.85" transform="rotate(117.6 383.98 110.32)"/>
<ellipse cx="385.76" cy="116.62" rx="1.25" ry="4.59" fill="#1414f4" fill-opacity="0.85" transform="rotate(117.6 385.76 116.62)"/>
<ellipse cx="377.98" cy="112.07" rx="1.25" ry="4.59" fill="#1414f4" fill-opacity="0.85" transform="rotate(117.6 377.98 112.07)"/>
<ellipse cx="382.07" cy="113.95" rx="0.56" ry="4.05" fill="#1414f4" fill-opacity="0.85" transform="rotate(117.6 382.07 113.95)"/>
<ellipse cx="396.50" cy="55.80" rx="6.75" ry="2.70" fill="#1616f0" fill-opacity="0.9" transform="rotate(-20.0 396.50 55.80)"/>
<ellipse cx="398.50" cy="60.00" rx="3.00" ry="2.25" fill="#1616f0" fill-opacity="0.9"/>
<ellipse cx="402.20" cy="59.30" rx="3.00" ry="3.75" fill="#f01212" fill-opacity="0.9" transform="rotate(30.0 402.20 59.30)"/>
<ellipse cx="394.10" cy="62.20" rx="3.00" ry="3.00" fill="#f01212" fill-opacity="0.9"/>
<ellipse cx="389.70" cy="65.10" rx="2.25" ry="3.00" fill="#1616f0" fill-opacity="0.9"/>
<ellipse cx="398.50" cy="65.10" rx="2.25" ry="2.25" fill="#1616f0" fill-opacity="0.9"/>
<ellipse cx="405.10" cy="65.90" rx="3.00" ry="2.25" fill="#f01212" fill-opacity="0.9"/>
<ellipse cx="386.80" cy="60.00" rx="2.25" ry="4.50" fill="#f01212" fill-opacity="0.9"/>
<ellipse cx="383.10" cy="60.00" rx="1.95" ry="3.75" fill="#1616f0" fill-opacity="0.9"/>
<ellipse cx="406.80" cy="60.70" rx="2.40" ry="4.50" fill="#0000c8" fill-opacity="0.9"/>
<ellipse cx="393.80" cy="50.50" rx="4.50" ry="4.50" fill="#f03030" fill-opacity="0.9"/>
<ellipse cx="395.50" cy="52.50" rx="3.00" ry="2.40" fill="#cc0000" fill-opacity="0.9"/>
<ellipse cx="410.30" cy="45.30" rx="3.00" ry="3.00" fill="#f08080" fill-opacity="0.9"/>
<ellipse cx="394.10" cy="63.50" rx="3.00" ry="2.25" fill="#f01212" fill-opacity="0.9"/>
<ellipse cx="390.10" cy="65.70" rx="2.25" ry="3.75" fill="#1616f0" fill-opacity="0.9" transform="rotate(20.0 390.10 65.70)"/>
<ellipse cx="399.30" cy="65.70" rx="2.25" ry="3.00" fill="#1616f0" fill-opacity="0.9"/>
<ellipse cx="405.90" cy="66.80" rx="4.50" ry="2.25" fill="#f01212" fill-opacity="0.9"/>
<ellipse cx="390.10" cy="71.20" rx="2.70" ry="3.30" fill="#f01212" fill-opacity="0.9"/>
<ellipse cx="398.50" cy="71.50" rx="2.70" ry="3.00" fill="#f01212" fill-opacity="0.9"/>
<ellipse cx="405.10" cy="71.20" rx="4.50" ry="1.95" fill="#1616f0" fill-opacity="0.9"/>
<ellipse cx="385.30" cy="72.30" rx="2.25" ry="3.75" fill="#1616f0" fill-opacity="0.9"/>
<ellipse cx="393.80" cy="74.50" rx="2.25" ry="3.75" fill="#1616f0" fill-opacity="0.9" transform="rotate(20.0 393.80 74.50)"/>
<ellipse cx="400.70" cy="75.90" rx="1.95" ry="3.30" fill="#1616f0" fill-opacity="0.9"/>
<ellipse cx="405.10" cy="75.60" rx="3.75" ry="2.25" fill="#f01212" fill-opacity="0.9"/>
<ellipse cx="395.60" cy="78.90" rx="3.00" ry="3.00" fill="#f01212" fill-opacity="0.9"/>
<ellipse cx="403.00" cy="82.50" rx="2.70" ry="3.00" fill="#f01212" fill-opacity="0.9"/>
<ellipse cx="397.80" cy="84.00" rx="2.25" ry="2.25" fill="#1616f0" fill-opacity="0.9"/>
<ellipse cx="394.10" cy="87.00" rx="3.00" ry="2.25" fill="#f01212" fill-opacity="0.9"/>
<ellipse cx="392.70" cy="90.60" rx="2.70" ry="2.25" fill="#1616f0" fill-opacity="0.9"/>
<ellipse cx="385.30" cy="78.10" rx="3.00" ry="2.25" fill="#f01212" fill-opacity="0.9"/>
<ellipse cx="379.10" cy="80.30" rx="2.25" ry="2.25" fill="#1616f0" fill-opacity="0.9"/>
<ellipse cx="409.50" cy="81.80" rx="4.50" ry="4.50" fill="#0000c8" fill-opacity="0.9"/>
<ellipse cx="410.30" cy="62.70" rx="3.75" ry="3.75" fill="#1616f0" fill-opacity="0.9"/>
<ellipse cx="375.10" cy="104.80" rx="4.50" ry="4.50" fill="#f05050" fill-opacity="0.9"/>
<ellipse cx="380.30" cy="112.00" rx="3.75" ry="1.80" fill="#1616f0" fill-opacity="0.9"/>
<ellipse cx="379.60" cy="116.70" rx="5.25" ry="2.25" fill="#f01212" fill-opacity="0.9"/>
<ellipse cx="379.60" cy="120.80" rx="4.50" ry="1.95" fill="#1616f0" fill-opacity="0.9" transform="rotate(20.0 379.60 120.80)"/>
<ellipse cx="380.30" cy="124.80" rx="2.25" ry="3.75" fill="#f01212" fill-opacity="0.9"/>
<ellipse cx="383.30" cy="128.50" rx="1.95" ry="4.50" fill="#1616f0" fill-opacity="0.9"/>
<ellipse cx="385.50" cy="132.10" rx="1.95" ry="3.75" fill="#f01212" fill-opacity="0.9"/>
<ellipse cx="389.90" cy="133.60" rx="2.25" ry="2.25" fill="#1616f0" fill-opacity="0.9"/>
<ellipse cx="387.70" cy="116.00" rx="2.25" ry="3.00" fill="#1616f0" fill-opacity="0.9"/>
<ellipse cx="385.50" cy="110.90" rx="2.25" ry="2.70" fill="#f01212" fill-opacity="0.9"/>
<ellipse cx="387.00" cy="122.60" rx="2.25" ry="4.50" fill="#f01212" fill-opacity="0.9"/>
<ellipse cx="391.30" cy="124.80" rx="1.95" ry="4.50" fill="#1616f0" fill-opacity="0.9"/>
<ellipse cx="389.90" cy="108.30" rx="2.25" ry="2.25" fill="#1616f0" fill-opacity="0.9"/>
<ellipse cx="392.80" cy="115.30" rx="2.25" ry="3.75" fill="#f01212" fill-opacity="0.9"/>
<ellipse cx="396.50" cy="118.20" rx="1.95" ry="3.75" fill="#1616f0" fill-opacity="0.9"/>
<ellipse cx="394.30" cy="127.00" rx="2.25" ry="4.50" fill="#f01212" fill-opacity="0.9"/>
<ellipse cx="398.00" cy="128.50" rx="1.95" ry="4.50" fill="#1616f0" fill-opacity="0.9"/>
<ellipse cx="401.00" cy="116.00" rx="2.25" ry="3.75" fill="#f01212" fill-opacity="0.9"/>
<ellipse cx="378.90" cy="107.20" rx="2.25" ry="2.25" fill="#f01212" fill-opacity="0.9"/>
<ellipse cx="377.50" cy="126.30" rx="3.00" ry="4.50" fill="#f04040" fill-opacity="0.9"/>
<ellipse cx="404.40" cy="115.70" rx="4.50" ry="4.50" fill="#f04848" fill-opacity="0.9"/>
</g>
<circle cx="316.40" cy="16.69" r="4.0" fill="#dcbcbc" fill-opacity="0.55" stroke="#4a3a3c" stroke-width="1.4"/>
<circle cx="328.19" cy="16.69" r="4.0" fill="#dcbcbc" fill-opacity="0.55" stroke="#4a3a3c" stroke-width="1.4"/>
<circle cx="339.98" cy="16.69" r="4.0" fill="#dcbcbc" fill-opacity="0.55" stroke="#4a3a3c" stroke-width="1.4"/>
<circle cx="351.77" cy="16.69" r="4.0" fill="#dcbcbc" fill-opacity="0.55" stroke="#4a3a3c" stroke-width="1.4"/>
<circle cx="363.57" cy="16.69" r="4.0" fill="#dcbcbc" fill-opacity="0.55" stroke="#4a3a3c" stroke-width="1.4"/>
<circle cx="375.36" cy="16.69" r="4.0" fill="#dcbcbc" fill-opacity="0.55" stroke="#4a3a3c" stroke-width="1.4"/>
<circle cx="387.15" cy="16.69" r="4.0" fill="#dcbcbc" fill-opacity="0.55" stroke="#4a3a3c" stroke-width="1.4"/>
<circle cx="398.95" cy="16.69" r="4.0" fill="#dcbcbc" fill-opacity="0.55" stroke="#4a3a3c" stroke-width="1.4"/>
<circle cx="410.74" cy="16.69" r="4.0" fill="#dcbcbc" fill-opacity="0.55" stroke="#4a3a3c" stroke-width="1.4"/>
<circle cx="422.53" cy="16.69" r="4.0" fill="#dcbcbc" fill-opacity="0.55" stroke="#4a3a3c" stroke-width="1.4"/>
<circle cx="434.32" cy="16.69" r="4.0" fill="#dcbcbc" fill-opacity="0.55" stroke="#4a3a3c" stroke-width="1.4"/>
<circle cx="446.12" cy="16.69" r="4.0" fill="#dcbcbc" fill-opacity="0.55" stroke="#4a3a3c" stroke-width="1.4"/>
<circle cx="457.91" cy="16.69" r="4.0" fill="#dcbcbc" fill-opacity="0.55" stroke="#4a3a3c" stroke-width="1.4"/>
<circle cx="469.70" cy="16.69" r="4.0" fill="#dcbcbc" fill-opacity="0.55" stroke="#4a3a3c" stroke-width="1.4"/>
<circle cx="310.50" cy="27.67" r="4.0" fill="#dcbcbc" fill-opacity="0.55" stroke="#4a3a3c" stroke-width="1.4"/>
<circle cx="322.29" cy="27.67" r="4.0" fill="#dcbcbc" fill-opacity="0.55" stroke="#4a3a3c" stroke-width="1.4"/>
<circle cx="334.09" cy="27.67" r="4.0" fill="#dcbcbc" fill-opacity="0.55" stroke="#4a3a3c" stroke-width="1.4"/>
<circle cx="345.88" cy="27.67" r="4.0" fill="#dcbcbc" fill-opacity="0.55" stroke="#4a3a3c" stroke-width="1.4"/>
<circle cx="357.67" cy="27.67" r="4.0" fill="#dcbcbc" fill-opacity="0.55" stroke="#4a3a3c" stroke-width="1.4"/>
<circle cx="369.46" cy="27.67" r="4.0" fill="#dcbcbc" fill-opacity="0.55" stroke="#4a3a3c" stroke-width="1.4"/>
<circle cx="381.26" cy="27.67" r="4.0" fill="#dcbcbc" fill-opacity="0.55" stroke="#4a3a3c" stroke-width="1.4"/>
<circle cx="393.05" cy="27.67" r="4.0" fill="#dcbcbc" fill-opacity="0.55" stroke="#4a3a3c" stroke-width="1.4"/>
<circle cx="404.84" cy="27.67" r="4.0" fill="#dcbcbc" fill-opacity="0.55" stroke="#4a3a3c" stroke-width="1.4"/>
<circle cx="416.64" cy="27.67" r="4.0" fill="#dcbcbc" fill-opacity="0.55" stroke="#4a3a3c" stroke-width="1.4"/>
<circle cx="428.43" cy="27.67" r="4.0" fill="#dcbcbc" fill-opacity="0.55" stroke="#4a3a3c" stroke-width="1.4"/>
<circle cx="440.22" cy="27.67" r="4.0" fill="#dcbcbc" fill-opacity="0.55" stroke="#4a3a3c" stroke-width="1.4"/>
<circle cx="452.01" cy="27.67" r="4.0" fill="#dcbcbc" fill-opacity="0.55" stroke="#4a3a3c" stroke-width="1.4"/>
<circle cx="463.81" cy="27.67" r="4.0" fill="#dcbcbc" fill-opacity="0.55" stroke="#4a3a3c" stroke-width="1.4"/>
<circle cx="475.60" cy="27.67" r="4.0" fill="#dcbcbc" fill-opacity="0.55" stroke="#4a3a3c" stroke-width="1.4"/>
<circle cx="316.40" cy="38.65" r="4.0" fill="#dcbcbc" fill-opacity="0.55" stroke="#4a3a3c" stroke-width="1.4"/>
<circle cx="328.19" cy="38.65" r="4.0" fill="#dcbcbc" fill-opacity="0.55" stroke="#4a3a3c" stroke-width="1.4"/>
<circle cx="339.98" cy="38.65" r="4.0" fill="#dcbcbc" fill-opacity="0.55" stroke="#4a3a3c" stroke-width="1.4"/>
<circle cx="351.77" cy="38.65" r="4.0" fill="#dcbcbc" fill-opacity="0.55" stroke="#4a3a3c" stroke-width="1.4"/>
<circle cx="363.57" cy="38.65" r="4.0" fill="#dcbcbc" fill-opacity="0.55" stroke="#4a3a3c" stroke-width="1.4"/>
<circle cx="375.36" cy="38.65" r="4.0" fill="#dcbcbc" fill-opacity="0.55" stroke="#4a3a3c" stroke-width="1.4"/>
<circle cx="387.15" cy="38.65" r="4.0" fill="#dcbcbc" fill-opacity="0.55" stroke="#4a3a3c" stroke-width="1.4"/>
<circle cx="398.95" cy="38.65" r="4.0" fill="#dcbcbc" fill-opacity="0.55" stroke="#4a3a3c" stroke-width="1.4"/>
<linearGradient id="gb2_8" gradientTransform="rotate(0 0.5 0.5)"><stop offset="0" stop-color="#e0c0c0"/><stop offset="1" stop-color="#d0d0e8"/></linearGradient>
<circle cx="410.74" cy="38.65" r="4.0" fill="url(#gb2_8)" stroke="#4a3a3c" stroke-width="1.4"/>
<circle cx="422.53" cy="38.65" r="4.0" fill="#dcbcbc" fill-opacity="0.55" stroke="#4a3a3c" stroke-width="1.4"/>
<circle cx="434.32" cy="38.65" r="4.0" fill="#dcbcbc" fill-opacity="0.55" stroke="#4a3a3c" stroke-width="1.4"/>
<circle cx="446.12" cy="38.65" r="4.0" fill="#dcbcbc" fill-opacity="0.55" stroke="#4a3a3c" stroke-width="1.4"/>
<circle cx="457.91" cy="38.65" r="4.0" fill="#dcbcbc" fill-opacity="0.55" stroke="#4a3a3c" stroke-width="1.4"/>
<circle cx="469.70" cy="38.65" r="4.0" fill="#dcbcbc" fill-opacity="0.55" stroke="#4a3a3c" stroke-width="1.4"/>
<linearGradient id="gb3_0" gradientTransform="rotate(0 0.5 0.5)"><stop offset="0" stop-color="#8080e8"/><stop offset="1" stop-color="#9090e8"/></linearGradient>
<circle cx="310.50" cy="49.63" r="4.0" fill="url(#gb3_0)" stroke="#4a3a3c" stroke-width="1.4"/>
<linearGradient id="gb3_1" gradientTransform="rotate(0 0.5 0.5)"><stop offset="0" stop-color="#f08080"/><stop offset="1" stop-color="#e8c0c0"/></linearGradient>
<circle cx="322.29" cy="49.63" r="4.0" fill="url(#gb3_1)" stroke="#4a3a3c" stroke-width="1.4"/>
<linearGradient id="gb3_2" gradientTransform="rotate(0 0.5 0.5)"><stop offset="0" stop-color="#e8b0b0"/><stop offset="1" stop-color="#e8b8b8"/></linearGradient>
<circle cx="334.09" cy="49.63" r="4.0" fill="url(#gb3_2)" stroke="#4a3a3c" stroke-width="1.4"/>
<linearGradient id="gb3_3" gradientTransform="rotate(90 0.5 0.5)"><stop offset="0" stop-color="#f09090"/><stop offset="1" stop-color="#e8a0a0"/></linearGradient>
<circle cx="345.88" cy="49.63" r="4.0" fill="url(#gb3_3)" stroke="#4a3a3c" stroke-width="1.4"/>
<linearGradient id="gb3_4" gradientTransform="rotate(0 0.5 0.5)"><stop offset="0" stop-color="#d8d0d8"/><stop offset="1" stop-color="#e0d0d8"/></linearGradient>
<circle cx="357.67" cy="49.63" r="4.0" fill="url(#gb3_4)" stroke="#4a3a3c" stroke-width="1.4"/>
<circle cx="369.46" cy="49.63" r="4.0" fill="#dcbcbc" fill-opacity="0.55" stroke="#4a3a3c" stroke-width="1.4"/>
<linearGradient id="gb3_6" gradientTransform="rotate(0 0.5 0.5)"><stop offset="0" stop-color="#e8b0b0"/><stop offset="1" stop-color="#e8a0a0"/></linearGradient>
<circle cx="381.26" cy="49.63" r="4.0" fill="url(#gb3_6)" stroke="#4a3a3c" stroke-width="1.4"/>
<linearGradient id="gb3_7" gradientTransform="rotate(45 0.5 0.5)"><stop offset="0" stop-color="#f04040"/><stop offset="1" stop-color="#c01010"/></linearGradient>
<circle cx="393.05" cy="49.63" r="4.0" fill="url(#gb3_7)" stroke="#4a3a3c" stroke-width="1.4"/>
<linearGradient id="gb3_8" gradientTransform="rotate(0 0.5 0.5)"><stop offset="0" stop-color="#c8c8e8"/><stop offset="1" stop-color="#e0d0d8"/></linearGradient>
<circle cx="404.84" cy="49.63" r="4.0" fill="url(#gb3_8)" stroke="#4a3a3c" stroke-width="1.4"/>
<circle cx="416.64" cy="49.63" r="4.0" fill="#dcbcbc" fill-opacity="0.55" stroke="#4a3a3c" stroke-width="1.4"/>
<circle cx="428.43" cy="49.63" r="4.0" fill="#dcbcbc" fill-opacity="0.55" stroke="#4a3a3c" stroke-width="1.4"/>
<circle cx="440.22" cy="49.63" r="4.0" fill="#dcbcbc" fill-opacity="0.55" stroke="#4a3a3c" stroke-width="1.4"/>
<circle cx="452.01" cy="49.63" r="4.0" fill="#dcbcbc" fill-opacity="0.55" stroke="#4a3a3c" stroke-width="1.4"/>
<circle cx="463.81" cy="49.63" r="4.0" fill="#dcbcbc" fill-opacity="0.55" stroke="#4a3a3c" stroke-width="1.4"/>
<circle cx="475.60" cy="49.63" r="4.0" fill="#dcbcbc" fill-opacity="0.55" stroke="#4a3a3c" stroke-width="1.4"/>
<linearGradient id="gb4_8" gradientTransform="rotate(0 0.5 0.5)"><stop offset="0" stop-color="#2020c0"/><stop offset="1" stop-color="#c0c0e0"/></linearGradient>
<circle cx="410.74" cy="60.61" r="4.0" fill="url(#gb4_8)" stroke="#4a3a3c" stroke-width="1.4"/>
<circle cx="422.53" cy="60.61" r="4.0" fill="#dcbcbc" fill-opacity="0.55" stroke="#4a3a3c" stroke-width="1.4"/>
<circle cx="434.32" cy="60.61" r="4.0" fill="#dcbcbc" fill-opacity="0.55" stroke="#4a3a3c" stroke-width="1.4"/>
<circle cx="446.12" cy="60.61" r="4.0" fill="#dcbcbc" fill-opacity="0.55" stroke="#4a3a3c" stroke-width="1.4"/>
<circle cx="457.91" cy="60.61" r="4.0" fill="#dcbcbc" fill-opacity="0.55" stroke="#4a3a3c" stroke-width="1.4"/>
<circle cx="469.70" cy="60.61" r="4.0" fill="#dcbcbc" fill-opacity="0.55" stroke="#4a3a3c" stroke-width="1.4"/>
<circle cx="310.50" cy="71.59" r="4.0" fill="#dcbcbc" fill-opacity="0.55" stroke="#4a3a3c" stroke-width="1.4"/>
<circle cx="322.29" cy="71.59" r="4.0" fill="#dcbcbc" fill-opacity="0.55" stroke="#4a3a3c" stroke-width="1.4"/>
<linearGradient id="gb5_2" gradientTransform="rotate(90 0.5 0.5)"><stop offset="0" stop-color="#b0b0e8"/><stop offset="1" stop-color="#8888e8"/></linearGradient>
<circle cx="334.09" cy="71.59" r="4.0" fill="url(#gb5_2)" stroke="#4a3a3c" stroke-width="1.4"/>
<linearGradient id="gb5_3" gradientTransform="rotate(0 0.5 0.5)"><stop offset="0" stop-color="#c8c8e8"/><stop offset="1" stop-color="#d0c8e0"/></linearGradient>
<circle cx="345.88" cy="71.59" r="4.0" fill="url(#gb5_3)" stroke="#4a3a3c" stroke-width="1.4"/>
<circle cx="357.67" cy="71.59" r="4.0" fill="#dcbcbc" fill-opacity="0.55" stroke="#4a3a3c" stroke-width="1.4"/>
<linearGradient id="gb5_5" gradientTransform="rotate(0 0.5 0.5)"><stop offset="0" stop-color="#c0c0e8"/><stop offset="1" stop-color="#d0d0e8"/></linearGradient>
<circle cx="369.46" cy="71.59" r="4.0" fill="url(#gb5_5)" stroke="#4a3a3c" stroke-width="1.4"/>
<linearGradient id="gb5_6" gradientTransform="rotate(0 0.5 0.5)"><stop offset="0" stop-color="#d8d0e0"/><stop offset="1" stop-color="#3030e0"/></linearGradient>
<circle cx="381.26" cy="71.59" r="4.0" fill="url(#gb5_6)" stroke="#4a3a3c" stroke-width="1.4"/>
<linearGradient id="gb5_9" gradientTransform="rotate(0 0.5 0.5)"><stop offset="0" stop-color="#f0b0b0"/><stop offset="1" stop-color="#e8c8c8"/></linearGradient>
<circle cx="416.64" cy="71.59" r="4.0" fill="url(#gb5_9)" stroke="#4a3a3c" stroke-width="1.4"/>
<circle cx="428.43" cy="71.59" r="4.0" fill="#dcbcbc" fill-opacity="0.55" stroke="#4a3a3c" stroke-width="1.4"/>
<circle cx="440.22" cy="71.59" r="4.0" fill="#dcbcbc" fill-opacity="0.55" stroke="#4a3a3c" stroke-width="1.4"/>
<circle cx="452.01" cy="71.59" r="4.0" fill="#dcbcbc" fill-opacity="0.55" stroke="#4a3a3c" stroke-width="1.4"/>
<circle cx="463.81" cy="71.59" r="4.0" fill="#dcbcbc" fill-opacity="0.55" stroke="#4a3a3c" stroke-width="1.4"/>
<circle cx="475.60" cy="71.59" r="4.0" fill="#dcbcbc" fill-opacity="0.55" stroke="#4a3a3c" stroke-width="1.4"/>
<circle cx="316.40" cy="82.57" r="4.0" fill="#dcbcbc" fill-opacity="0.55" stroke="#4a3a3c" stroke-width="1.4"/>
<circle cx="328.19" cy="82.57" r="4.0" fill="#dcbcbc" fill-opacity="0.55" stroke="#4a3a3c" stroke-width="1.4"/>
<circle cx="339.98" cy="82.57" r="4.0" fill="#dcbcbc" fill-opacity="0.55" stroke="#4a3a3c" stroke-width="1.4"/>
<circle cx="351.77" cy="82.57" r="4.0" fill="#dcbcbc" fill-opacity="0.55" stroke="#4a3a3c" stroke-width="1.4"/>
<circle cx="363.57" cy="82.57" r="4.0" fill="#dcbcbc" fill-opacity="0.55" stroke="#4a3a3c" stroke-width="1.4"/>
<circle cx="375.36" cy="82.57" r="4.0" fill="#dcbcbc" fill-opacity="0.55" stroke="#4a3a3c" stroke-width="1.4"/>
<linearGradient id="gb6_6" gradientTransform="rotate(90 0.5 0.5)"><stop offset="0" stop-color="#f05050"/><stop offset="1" stop-color="#e0c0c0"/></linearGradient>
<circle cx="387.15" cy="82.57" r="4.0" fill="url(#gb6_6)" stroke="#4a3a3c" stroke-width="1.4"/>
<linearGradient id="gb6_8" gradientTransform="rotate(30 0.5 0.5)"><stop offset="0" stop-color="#2020c8"/><stop offset="1" stop-color="#9090e0"/></linearGradient>
<circle cx="410.74" cy="82.57" r="4.0" fill="url(#gb6_8)" stroke="#4a3a3c" stroke-width="1.4"/>
<circle cx="422.53" cy="82.57" r="4.0" fill="#dcbcbc" fill-opacity="0.55" stroke="#4a3a3c" stroke-width="1.4"/>
<circle cx="434.32" cy="82.57" r="4.0" fill="#dcbcbc" fill-opacity="0.55" stroke="#4a3a3c" stroke-width="1.4"/>
<circle cx="446.12" cy="82.57" r="4.0" fill="#dcbcbc" fill-opacity="0.55" stroke="#4a3a3c" stroke-width="1.4"/>
<circle cx="457.91" cy="82.57" r="4.0" fill="#dcbcbc" fill-opacity="0.55" stroke="#4a3a3c" stroke-width="1.4"/>
<circle cx="469.70" cy="82.57" r="4.0" fill="#dcbcbc" fill-opacity="0.55" stroke="#4a3a3c" stroke-width="1.4"/>
<circle cx="310.50" cy="93.55" r="4.0" fill="#dcbcbc" fill-opacity="0.55" stroke="#4a3a3c" stroke-width="1.4"/>
<circle cx="322.29" cy="93.55" r="4.0" fill="#dcbcbc" fill-opacity="0.55" stroke="#4a3a3c" stroke-width="1.4"/>
<circle cx="334.09" cy="93.55" r="4.0" fill="#dcbcbc" fill-opacity="0.55" stroke="#4a3a3c" stroke-width="1.4"/>
<circle cx="345.88" cy="93.55" r="4.0" fill="#dcbcbc" fill-opacity="0.55" stroke="#4a3a3c" stroke-width="1.4"/>
<circle cx="357.67" cy="93.55" r="4.0" fill="#dcbcbc" fill-opacity="0.55" stroke="#4a3a3c" stroke-width="1.4"/>
<circle cx="369.46" cy="93.55" r="4.0" fill="#dcbcbc" fill-opacity="0.55" stroke="#4a3a3c" stroke-width="1.4"/>
<linearGradient id="gb7_6" gradientTransform="rotate(0 0.5 0.5)"><stop offset="0" stop-color="#e8a0a0"/><stop offset="1" stop-color="#e8b8b8"/></linearGradient>
<circle cx="381.26" cy="93.55" r="4.0" fill="url(#gb7_6)" stroke="#4a3a3c" stroke-width="1.4"/>
<linearGradient id="gb7_8" gradientTransform="rotate(0 0.5 0.5)"><stop offset="0" stop-color="#d0d0e8"/><stop offset="1" stop-color="#c8c8e8"/></linearGradient>
<circle cx="404.84" cy="93.55" r="4.0" fill="url(#gb7_8)" stroke="#4a3a3c" stroke-width="1.4"/>
<circle cx="416.64" cy="93.55" r="4.0" fill="#dcbcbc" fill-opacity="0.55" stroke="#4a3a3c" stroke-width="1.4"/>
<circle cx="428.43" cy="93.55" r="4.0" fill="#dcbcbc" fill-opacity="0.55" stroke="#4a3a3c" stroke-width="1.4"/>
<circle cx="440.22" cy="93.55" r="4.0" fill="#dcbcbc" fill-opacity="0.55" stroke="#4a3a3c" stroke-width="1.4"/>
<circle cx="452.01" cy="93.55" r="4.0" fill="#dcbcbc" fill-opacity="0.55" stroke="#4a3a3c" stroke-width="1.4"/>
<circle cx="463.81" cy="93.55" r="4.0" fill="#dcbcbc" fill-opacity="0.55" stroke="#4a3a3c" stroke-width="1.4"/>
<circle cx="475.60" cy="93.55" r="4.0" fill="#dcbcbc" fill-opacity="0.55" stroke="#4a3a3c" stroke-width="1.4"/>
<circle cx="316.40" cy="104.53" r="4.0" fill="#dcbcbc" fill-opacity="0.55" stroke="#4a3a3c" stroke-width="1.4"/>
<circle cx="328.19" cy="104.53" r="4.0" fill="#dcbcbc" fill-opacity="0.55" stroke="#4a3a3c" stroke-width="1.4"/>
<circle cx="339.98" cy="104.53" r="4.0" fill="#dcbcbc" fill-opacity="0.55" stroke="#4a3a3c" stroke-width="1.4"/>
<circle cx="351.77" cy="104.53" r="4.0" fill="#dcbcbc" fill-opacity="0.55" stroke="#4a3a3c" stroke-width="1.4"/>
<circle cx="363.57" cy="104.53" r="4.0" fill="#dcbcbc" fill-opacity="0.55" stroke="#4a3a3c" stroke-width="1.4"/>
<linearGradient id="gb8_5" gradientTransform="rotate(0 0.5 0.5)"><stop offset="0" stop-color="#f07070"/><stop offset="1" stop-color="#e04040"/></linearGradient>
<circle cx="375.36" cy="104.53" r="4.0" fill="url(#gb8_5)" stroke="#4a3a3c" stroke-width="1.4"/>
<linearGradient id="gb8_7" gradientTransform="rotate(0 0.5 0.5)"><stop offset="0" stop-color="#c8c8e8"/><stop offset="1" stop-color="#d8d0e0"/></linearGradient>
<circle cx="398.95" cy="104.53" r="4.0" fill="url(#gb8_7)" stroke="#4a3a3c" stroke-width="1.4"/>
<circle cx="410.74" cy="104.53" r="4.0" fill="#dcbcbc" fill-opacity="0.55" stroke="#4a3a3c" stroke-width="1.4"/>
<circle cx="422.53" cy="104.53" r="4.0" fill="#dcbcbc" fill-opacity="0.55" stroke="#4a3a3c" stroke-width="1.4"/>
<circle cx="434.32" cy="104.53" r="4.0" fill="#dcbcbc" fill-opacity="0.55" stroke="#4a3a3c" stroke-width="1.4"/>
<circle cx="446.12" cy="104.53" r="4.0" fill="#dcbcbc" fill-opacity="0.55" stroke="#4a3a3c" stroke-width="1.4"/>
<circle cx="457.91" cy="104.53" r="4.0" fill="#dcbcbc" fill-opacity="0.55" stroke="#4a3a3c" stroke-width="1.4"/>
<circle cx="469.70" cy="104.53" r="4.0" fill="#dcbcbc" fill-opacity="0.55" stroke="#4a3a3c" stroke-width="1.4"/>
<circle cx="310.50" cy="115.51" r="4.0" fill="#dcbcbc" fill-opacity="0.55" stroke="#4a3a3c" stroke-width="1.4"/>
<circle cx="322.29" cy="115.51" r="4.0" fill="#dcbcbc" fill-opacity="0.55" stroke="#4a3a3c" stroke-width="1.4"/>
<circle cx="334.09" cy="115.51" r="4.0" fill="#dcbcbc" fill-opacity="0.55" stroke="#4a3a3c" stroke-width="1.4"/>
<circle cx="345.88" cy="115.51" r="4.0" fill="#dcbcbc" fill-opacity="0.55" stroke="#4a3a3c" stroke-width="1.4"/>
<circle cx="357.67" cy="115.51" r="4.0" fill="#dcbcbc" fill-opacity="0.55" stroke="#4a3a3c" stroke-width="1.4"/>
<circle cx="369.46" cy="115.51" r="4.0" fill="#dcbcbc" fill-opacity="0.55" stroke="#4a3a3c" stroke-width="1.4"/>
<linearGradient id="gb9_8" gradientTransform="rotate(0 0.5 0.5)"><stop offset="0" stop-color="#e03030"/><stop offset="1" stop-color="#f0b0b0"/></linearGradient>
<circle cx="404.84" cy="115.51" r="4.0" fill="url(#gb9_8)" stroke="#4a3a3c" stroke-width="1.4"/>
<circle cx="416.64" cy="115.51" r="4.0" fill="#dcbcbc" fill-opacity="0.55" stroke="#4a3a3c" stroke-width="1.4"/>
<circle cx="428.43" cy="115.51" r="4.0" fill="#dcbcbc" fill-opacity="0.55" stroke="#4a3a3c" stroke-width="1.4"/>
<circle cx="440.22" cy="115.51" r="4.0" fill="#dcbcbc" fill-opacity="0.55" stroke="#4a3a3c" stroke-width="1.4"/>
<circle cx="452.01" cy="115.51" r="4.0" fill="#dcbcbc" fill-opacity="0.55" stroke="#4a3a3c" stroke-width="1.4"/>
<circle cx="463.81" cy="115.51" r="4.0" fill="#dcbcbc" fill-opacity="0.55" stroke="#4a3a3c" stroke-width="1.4"/>
<circle cx="475.60" cy="115.51" r="4.0" fill="#dcbcbc" fill-opacity="0.55" stroke="#4a3a3c" stroke-width="1.4"/>
<circle cx="316.40" cy="126.49" r="4.0" fill="#dcbcbc" fill-opacity="0.55" stroke="#4a3a3c" stroke-width="1.4"/>
<circle cx="328.19" cy="126.49" r="4.0" fill="#dcbcbc" fill-opacity="0.55" stroke="#4a3a3c" stroke-width="1.4"/>
<circle cx="339.98" cy="126.49" r="4.0" fill="#dcbcbc" fill-opacity="0.55" stroke="#4a3a3c" stroke-width="1.4"/>
<circle cx="351.77" cy="126.49" r="4.0" fill="#dcbcbc" fill-opacity="0.55" stroke="#4a3a3c" stroke-width="1.4"/>
<circle cx="363.57" cy="126.49" r="4.0" fill="#dcbcbc" fill-opacity="0.55" stroke="#4a3a3c" stroke-width="1.4"/>
<linearGradient id="gb10_5" gradientTransform="rotate(0 0.5 0.5)"><stop offset="0" stop-color="#f0a0a0"/><stop offset="1" stop-color="#e01818"/></linearGradient>
<circle cx="375.36" cy="126.49" r="4.0" fill="url(#gb10_5)" stroke="#4a3a3c" stroke-width="1.4"/>
<circle cx="310.50" cy="137.47" r="4.0" fill="#dcbcbc" fill-opacity="0.55" stroke="#4a3a3c" stroke-width="1.4"/>
<circle cx="322.29" cy="137.47" r="4.0" fill="#dcbcbc" fill-opacity="0.55" stroke="#4a3a3c" stroke-width="1.4"/>
<circle cx="334.09" cy="137.47" r="4.0" fill="#dcbcbc" fill-opacity="0.55" stroke="#4a3a3c" stroke-width="1.4"/>
<circle cx="345.88" cy="137.47" r="4.0" fill="#dcbcbc" fill-opacity="0.55" stroke="#4a3a3c" stroke-width="1.4"/>
<circle cx="357.67" cy="137.47" r="4.0" fill="#dcbcbc" fill-opacity="0.55" stroke="#4a3a3c" stroke-width="1.4"/>
<circle cx="369.46" cy="137.47" r="4.0" fill="#dcbcbc" fill-opacity="0.55" stroke="#4a3a3c" stroke-width="1.4"/>
<circle cx="381.26" cy="137.47" r="4.0" fill="#dcbcbc" fill-opacity="0.55" stroke="#4a3a3c" stroke-width="1.4"/>
<circle cx="393.05" cy="137.47" r="4.0" fill="#dcbcbc" fill-opacity="0.55" stroke="#4a3a3c" stroke-width="1.4"/>
<circle cx="404.84" cy="137.47" r="4.0" fill="#dcbcbc" fill-opacity="0.55" stroke="#4a3a3c" stroke-width="1.4"/>
<circle cx="416.64" cy="137.47" r="4.0" fill="#dcbcbc" fill-opacity="0.55" stroke="#4a3a3c" stroke-width="1.4"/>
<circle cx="428.43" cy="137.47" r="4.0" fill="#dcbcbc" fill-opacity="0.55" stroke="#4a3a3c" stroke-width="1.4"/>
<circle cx="440.22" cy="137.47" r="4.0" fill="#dcbcbc" fill-opacity="0.55" stroke="#4a3a3c" stroke-width="1.4"/>
<circle cx="452.01" cy="137.47" r="4.0" fill="#dcbcbc" fill-opacity="0.55" stroke="#4a3a3c" stroke-width="1.4"/>
<circle cx="463.81" cy="137.47" r="4.0" fill="#dcbcbc" fill-opacity="0.55" stroke="#4a3a3c" stroke-width="1.4"/>
<circle cx="475.60" cy="137.47" r="4.0" fill="#dcbcbc" fill-opacity="0.55" stroke="#4a3a3c" stroke-width="1.4"/>
<circle cx="316.40" cy="148.45" r="4.0" fill="#dcbcbc" fill-opacity="0.55" stroke="#4a3a3c" stroke-width="1.4"/>
<circle cx="328.19" cy="148.45" r="4.0" fill="#dcbcbc" fill-opacity="0.55" stroke="#4a3a3c" stroke-width="1.4"/>
<circle cx="339.98" cy="148.45" r="4.0" fill="#dcbcbc" fill-opacity="0.55" stroke="#4a3a3c" stroke-width="1.4"/>
<circle cx="351.77" cy="148.45" r="4.0" fill="#dcbcbc" fill-opacity="0.55" stroke="#4a3a3c" stroke-width="1.4"/>
<circle cx="363.57" cy="148.45" r="4.0" fill="#dcbcbc" fill-opacity="0.55" stroke="#4a3a3c" stroke-width="1.4"/>
<circle cx="375.36" cy="148.45" r="4.0" fill="#dcbcbc" fill-opacity="0.55" stroke="#4a3a3c" stroke-width="1.4"/>
<circle cx="387.15" cy="148.45" r="4.0" fill="#dcbcbc" fill-opacity="0.55" stroke="#4a3a3c" stroke-width="1.4"/>
<circle cx="398.95" cy="148.45" r="4.0" fill="#dcbcbc" fill-opacity="0.55" stroke="#4a3a3c" stroke-width="1.4"/>
<circle cx="410.74" cy="148.45" r="4.0" fill="#dcbcbc" fill-opacity="0.55" stroke="#4a3a3c" stroke-width="1.4"/>
<circle cx="422.53" cy="148.45" r="4.0" fill="#dcbcbc" fill-opacity="0.55" stroke="#4a3a3c" stroke-width="1.4"/>
<circle cx="434.32" cy="148.45" r="4.0" fill="#dcbcbc" fill-opacity="0.55" stroke="#4a3a3c" stroke-width="1.4"/>
<circle cx="446.12" cy="148.45" r="4.0" fill="#dcbcbc" fill-opacity="0.55" stroke="#4a3a3c" stroke-width="1.4"/>
<circle cx="457.91" cy="148.45" r="4.0" fill="#dcbcbc" fill-opacity="0.55" stroke="#4a3a3c" stroke-width="1.4"/>
<circle cx="469.70" cy="148.45" r="4.0" fill="#dcbcbc" fill-opacity="0.55" stroke="#4a3a3c" stroke-width="1.4"/>
<circle cx="310.50" cy="159.43" r="4.0" fill="#dcbcbc" fill-opacity="0.55" stroke="#4a3a3c" stroke-width="1.4"/>
<circle cx="322.29" cy="159.43" r="4.0" fill="#dcbcbc" fill-opacity="0.55" stroke="#4a3a3c" stroke-width="1.4"/>
<circle cx="334.09" cy="159.43" r="4.0" fill="#dcbcbc" fill-opacity="0.55" stroke="#4a3a3c" stroke-width="1.4"/>
<circle cx="345.88" cy="159.43" r="4.0" fill="#dcbcbc" fill-opacity="0.55" stroke="#4a3a3c" stroke-width="1.4"/>
<circle cx="357.67" cy="159.43" r="4.0" fill="#dcbcbc" fill-opacity="0.55" stroke="#4a3a3c" stroke-width="1.4"/>
<circle cx="369.46" cy="159.43" r="4.0" fill="#dcbcbc" fill-opacity="0.55" stroke="#4a3a3c" stroke-width="1.4"/>
<circle cx="381.26" cy="159.43" r="4.0" fill="#dcbcbc" fill-opacity="0.55" stroke="#4a3a3c" stroke-width="1.4"/>
<circle cx="393.05" cy="159.43" r="4.0" fill="#dcbcbc" fill-opacity="0.55" stroke="#4a3a3c" stroke-width="1.4"/>
<circle cx="404.84" cy="159.43" r="4.0" fill="#dcbcbc" fill-opacity="0.55" stroke="#4a3a3c" stroke-width="1.4"/>
<circle cx="416.64" cy="159.43" r="4.0" fill="#dcbcbc" fill-opacity="0.55" stroke="#4a3a3c" stroke-width="1.4"/>
<circle cx="428.43" cy="159.43" r="4.0" fill="#dcbcbc" fill-opacity="0.55" stroke="#4a3a3c" stroke-width="1.4"/>
<circle cx="440.22" cy="159.43" r="4.0" fill="#dcbcbc" fill-opacity="0.55" stroke="#4a3a3c" stroke-width="1.4"/>
<circle cx="452.01" cy="159.43" r="4.0" fill="#dcbcbc" fill-opacity="0.55" stroke="#4a3a3c" stroke-width="1.4"/>
<circle cx="463.81" cy="159.43" r="4.0" fill="#dcbcbc" fill-opacity="0.55" stroke="#4a3a3c" stroke-width="1.4"/>
<circle cx="475.60" cy="159.43" r="4.0" fill="#dcbcbc" fill-opacity="0.55" stroke="#4a3a3c" stroke-width="1.4"/>
<circle cx="316.40" cy="170.41" r="4.0" fill="#dcbcbc" fill-opacity="0.55" stroke="#4a3a3c" stroke-width="1.4"/>
<circle cx="328.19" cy="170.41" r="4.0" fill="#dcbcbc" fill-opacity="0.55" stroke="#4a3a3c" stroke-width="1.4"/>
<circle cx="339.98" cy="170.41" r="4.0" fill="#dcbcbc" fill-opacity="0.55" stroke="#4a3a3c" stroke-width="1.4"/>
<circle cx="351.77" cy="170.41" r="4.0" fill="#dcbcbc" fill-opacity="0.55" stroke="#4a3a3c" stroke-width="1.4"/>
<circle cx="363.57" cy="170.41" r="4.0" fill="#dcbcbc" fill-opacity="0.55" stroke="#4a3a3c" stroke-width="1.4"/>
<circle cx="375.36" cy="170.41" r="4.0" fill="#dcbcbc" fill-opacity="0.55" stroke="#4a3a3c" stroke-width="1.4"/>
<circle cx="387.15" cy="170.41" r="4.0" fill="#dcbcbc" fill-opacity="0.55" stroke="#4a3a3c" stroke-width="1.4"/>
<circle cx="398.95" cy="170.41" r="4.0" fill="#dcbcbc" fill-opacity="0.55" stroke="#4a3a3c" stroke-width="1.4"/>
<circle cx="410.74" cy="170.41" r="4.0" fill="#dcbcbc" fill-opacity="0.55" stroke="#4a3a3c" stroke-width="1.4"/>
<circle cx="422.53" cy="170.41" r="4.0" fill="#dcbcbc" fill-opacity="0.55" stroke="#4a3a3c" stroke-width="1.4"/>
<circle cx="434.32" cy="170.41" r="4.0" fill="#dcbcbc" fill-opacity="0.55" stroke="#4a3a3c" stroke-width="1.4"/>
<circle cx="446.12" cy="170.41" r="4.0" fill="#dcbcbc" fill-opacity="0.55" stroke="#4a3a3c" stroke-width="1.4"/>
<circle cx="457.91" cy="170.41" r="4.0" fill="#dcbcbc" fill-opacity="0.55" stroke="#4a3a3c" stroke-width="1.4"/>
<circle cx="469.70" cy="170.41" r="4.0" fill="#dcbcbc" fill-opacity="0.55" stroke="#4a3a3c" stroke-width="1.4"/>
</g></g>
<rect x="310.5" y="11.2" width="165.1" height="164.7" fill="none" stroke="#7c7c7c" stroke-width="1"/>
<polygon points="206.2,24.0 208.79999999999998,19.8 211.39999999999998,24.0" fill="#000"/>
<text x="213.8" y="24.4" font-family="'DejaVu Sans', 'Liberation Sans', sans-serif" font-size="5.8" fill="#111">3.56×10<tspan dy="-2.44" font-size="4.06">4</tspan></text>
<text x="220.0" y="33.3" font-family="'DejaVu Sans', 'Liberation Sans', sans-serif" font-size="5.8" fill="#111">×10<tspan dy="-2.44" font-size="4.06">4</tspan></text>
<rect x="212.5" y="37.3" width="7.3" height="133.5" fill="url(#wave)" stroke="#202020" stroke-width="0.5" stroke-opacity="0.55"/>
<line x1="212.5" y1="48.06" x2="213.7" y2="48.06" stroke="#000" stroke-width="0.7" stroke-opacity="0.7"/>
<line x1="218.60000000000002" y1="48.06" x2="219.8" y2="48.06" stroke="#000" stroke-width="0.7" stroke-opacity="0.7"/>
<text x="223.6" y="50.32" font-family="'DejaVu Sans', 'Liberation Sans', sans-serif" font-size="6.1" fill="#1a1a1a">3</text>
<line x1="212.5" y1="66.38" x2="213.7" y2="66.38" stroke="#000" stroke-width="0.7" stroke-opacity="0.7"/>
<line x1="218.60000000000002" y1="66.38" x2="219.8" y2="66.38" stroke="#000" stroke-width="0.7" stroke-opacity="0.7"/>
<text x="223.6" y="68.64" font-family="'DejaVu Sans', 'Liberation Sans', sans-serif" font-size="6.1" fill="#1a1a1a">2</text>
<line x1="212.5" y1="84.70" x2="213.7" y2="84.70" stroke="#000" stroke-width="0.7" stroke-opacity="0.7"/>
<line x1="218.60000000000002" y1="84.70" x2="219.8" y2="84.70" stroke="#000" stroke-width="0.7" stroke-opacity="0.7"/>
<text x="223.6" y="86.96" font-family="'DejaVu Sans', 'Liberation Sans', sans-serif" font-size="6.1" fill="#1a1a1a">1</text>
<line x1="212.5" y1="103.03" x2="213.7" y2="103.03" stroke="#000" stroke-width="0.7" stroke-opacity="0.7"/>
<line x1="218.60000000000002" y1="103.03" x2="219.8" y2="103.03" stroke="#000" stroke-width="0.7" stroke-opacity="0.7"/>
<text x="223.6" y="105.28" font-family="'DejaVu Sans', 'Liberation Sans', sans-serif" font-size="6.1" fill="#1a1a1a">0</text>
<line x1="212.5" y1="121.35" x2="213.7" y2="121.35" stroke="#000" stroke-width="0.7" stroke-opacity="0.7"/>
<line x1="218.60000000000002" y1="121.35" x2="219.8" y2="121.35" stroke="#000" stroke-width="0.7" stroke-opacity="0.7"/>
<text x="223.6" y="123.60" font-family="'DejaVu Sans', 'Liberation Sans', sans-serif" font-size="6.1" fill="#1a1a1a">-1</text>
<line x1="212.5" y1="139.67" x2="213.7" y2="139.67" stroke="#000" stroke-width="0.7" stroke-opacity="0.7"/>
<line x1="218.60000000000002" y1="139.67" x2="219.8" y2="139.67" stroke="#000" stroke-width="0.7" stroke-opacity="0.7"/>
<text x="223.6" y="141.93" font-family="'DejaVu Sans', 'Liberation Sans', sans-serif" font-size="6.1" fill="#1a1a1a">-2</text>
<line x1="212.5" y1="157.99" x2="213.7" y2="157.99" stroke="#000" stroke-width="0.7" stroke-opacity="0.7"/>
<line x1="218.60000000000002" y1="157.99" x2="219.8" y2="157.99" stroke="#000" stroke-width="0.7" stroke-opacity="0.7"/>
<text x="223.6" y="160.25" font-family="'DejaVu Sans', 'Liberation Sans', sans-serif" font-size="6.1" fill="#1a1a1a">-3</text>
<polygon points="206.2,178.8 211.39999999999998,178.8 208.79999999999998,182.8" fill="#000"/>
<text x="213.8" y="183.1" font-family="'DejaVu Sans', 'Liberation Sans', sans-serif" font-size="5.9" fill="#111">-3.71×10<tspan dy="-2.48" font-size="4.13">4</tspan></text>
<polygon points="500.6,21.6 503.70000000000005,16.8 506.8,21.6" fill="#000"/>
<text x="509.8" y="22.1" font-family="'DejaVu Sans', 'Liberation Sans', sans-serif" font-size="7.0" fill="#111">4.53×10<tspan dy="-2.94" font-size="4.90">4</tspan></text>
<text x="517.3" y="32.6" font-family="'DejaVu Sans', 'Liberation Sans', sans-serif" font-size="7.0" fill="#111">×10<tspan dy="-2.94" font-size="4.90">4</tspan></text>
<rect x="507.9" y="38.0" width="9.6" height="121.9" fill="url(#wave)" stroke="#202020" stroke-width="0.5" stroke-opacity="0.55"/>
<line x1="507.9" y1="44.85" x2="509.09999999999997" y2="44.85" stroke="#000" stroke-width="0.7" stroke-opacity="0.7"/>
<line x1="516.3" y1="44.85" x2="517.5" y2="44.85" stroke="#000" stroke-width="0.7" stroke-opacity="0.7"/>
<text x="521.8" y="47.15" font-family="'DejaVu Sans', 'Liberation Sans', sans-serif" font-size="6.2" fill="#1a1a1a">4</text>
<line x1="507.9" y1="57.59" x2="509.09999999999997" y2="57.59" stroke="#000" stroke-width="0.7" stroke-opacity="0.7"/>
<line x1="516.3" y1="57.59" x2="517.5" y2="57.59" stroke="#000" stroke-width="0.7" stroke-opacity="0.7"/>
<text x="521.8" y="59.89" font-family="'DejaVu Sans', 'Liberation Sans', sans-serif" font-size="6.2" fill="#1a1a1a">3</text>
<line x1="507.9" y1="70.33" x2="509.09999999999997" y2="70.33" stroke="#000" stroke-width="0.7" stroke-opacity="0.7"/>
<line x1="516.3" y1="70.33" x2="517.5" y2="70.33" stroke="#000" stroke-width="0.7" stroke-opacity="0.7"/>
<text x="521.8" y="72.63" font-family="'DejaVu Sans', 'Liberation Sans', sans-serif" font-size="6.2" fill="#1a1a1a">2</text>
<line x1="507.9" y1="83.07" x2="509.09999999999997" y2="83.07" stroke="#000" stroke-width="0.7" stroke-opacity="0.7"/>
<line x1="516.3" y1="83.07" x2="517.5" y2="83.07" stroke="#000" stroke-width="0.7" stroke-opacity="0.7"/>
<text x="521.8" y="85.37" font-family="'DejaVu Sans', 'Liberation Sans', sans-serif" font-size="6.2" fill="#1a1a1a">1</text>
<line x1="507.9" y1="95.81" x2="509.09999999999997" y2="95.81" stroke="#000" stroke-width="0.7" stroke-opacity="0.7"/>
<line x1="516.3" y1="95.81" x2="517.5" y2="95.81" stroke="#000" stroke-width="0.7" stroke-opacity="0.7"/>
<text x="521.8" y="98.11" font-family="'DejaVu Sans', 'Liberation Sans', sans-serif" font-size="6.2" fill="#1a1a1a">0</text>
<line x1="507.9" y1="108.56" x2="509.09999999999997" y2="108.56" stroke="#000" stroke-width="0.7" stroke-opacity="0.7"/>
<line x1="516.3" y1="108.56" x2="517.5" y2="108.56" stroke="#000" stroke-width="0.7" stroke-opacity="0.7"/>
<text x="521.8" y="110.85" font-family="'DejaVu Sans', 'Liberation Sans', sans-serif" font-size="6.2" fill="#1a1a1a">-1</text>
<line x1="507.9" y1="121.30" x2="509.09999999999997" y2="121.30" stroke="#000" stroke-width="0.7" stroke-opacity="0.7"/>
<line x1="516.3" y1="121.30" x2="517.5" y2="121.30" stroke="#000" stroke-width="0.7" stroke-opacity="0.7"/>
<text x="521.8" y="123.59" font-family="'DejaVu Sans', 'Liberation Sans', sans-serif" font-size="6.2" fill="#1a1a1a">-2</text>
<line x1="507.9" y1="134.04" x2="509.09999999999997" y2="134.04" stroke="#000" stroke-width="0.7" stroke-opacity="0.7"/>
<line x1="516.3" y1="134.04" x2="517.5" y2="134.04" stroke="#000" stroke-width="0.7" stroke-opacity="0.7"/>
<text x="521.8" y="136.33" font-family="'DejaVu Sans', 'Liberation Sans', sans-serif" font-size="6.2" fill="#1a1a1a">-3</text>
<line x1="507.9" y1="146.78" x2="509.09999999999997" y2="146.78" stroke="#000" stroke-width="0.7" stroke-opacity="0.7"/>
<line x1="516.3" y1="146.78" x2="517.5" y2="146.78" stroke="#000" stroke-width="0.7" stroke-opacity="0.7"/>
<text x="521.8" y="149.07" font-family="'DejaVu Sans', 'Liberation Sans', sans-serif" font-size="6.2" fill="#1a1a1a">-4</text>
<line x1="507.9" y1="159.52" x2="509.09999999999997" y2="159.52" stroke="#000" stroke-width="0.7" stroke-opacity="0.7"/>
<line x1="516.3" y1="159.52" x2="517.5" y2="159.52" stroke="#000" stroke-width="0.7" stroke-opacity="0.7"/>
<text x="521.8" y="161.81" font-family="'DejaVu Sans', 'Liberation Sans', sans-serif" font-size="6.2" fill="#1a1a1a">-5</text>
<polygon points="500.6,169.4 506.8,169.4 503.70000000000005,174.0" fill="#000"/>
<text x="509.8" y="174.4" font-family="'DejaVu Sans', 'Liberation Sans', sans-serif" font-size="7.0" fill="#111">-5.03×10<tspan dy="-2.94" font-size="4.90">4</tspan></text>
<clipPath id="clipc"><rect x="28.0" y="203.0" width="140.2" height="189.28"/></clipPath>
<g clip-path="url(#clipc)">
<circle cx="28.20" cy="217.00" r="8.350000000000001" fill="none" stroke="#b8e070" stroke-width="2.2" stroke-opacity="0.33"/>
<circle cx="51.60" cy="217.00" r="8.350000000000001" fill="none" stroke="#9fe3df" stroke-width="2.2" stroke-opacity="0.30"/>
<circle cx="75.00" cy="217.00" r="8.350000000000001" fill="none" stroke="#9fe3df" stroke-width="2.2" stroke-opacity="0.30"/>
<circle cx="98.40" cy="217.00" r="8.350000000000001" fill="none" stroke="#eef070" stroke-width="2.2" stroke-opacity="0.33"/>
<circle cx="121.80" cy="217.00" r="8.350000000000001" fill="none" stroke="#f06060" stroke-width="2.2" stroke-opacity="0.28"/>
<circle cx="122.26" cy="216.63" r="8.05" fill="none" stroke="#f03030" stroke-width="1.4" stroke-opacity="0.14"/>
<circle cx="122.71" cy="216.26" r="8.05" fill="none" stroke="#f03030" stroke-width="1.4" stroke-opacity="0.14"/>
<circle cx="123.17" cy="215.89" r="8.05" fill="none" stroke="#f03030" stroke-width="1.4" stroke-opacity="0.14"/>
<circle cx="123.63" cy="215.51" r="8.05" fill="none" stroke="#f03030" stroke-width="1.4" stroke-opacity="0.14"/>
<circle cx="124.09" cy="215.14" r="8.05" fill="none" stroke="#f03030" stroke-width="1.4" stroke-opacity="0.14"/>
<circle cx="124.54" cy="214.77" r="8.05" fill="none" stroke="#f03030" stroke-width="1.4" stroke-opacity="0.14"/>
<circle cx="125.00" cy="214.40" r="8.05" fill="none" stroke="#f03030" stroke-width="1.4" stroke-opacity="0.14"/>
<circle cx="145.20" cy="217.00" r="8.350000000000001" fill="none" stroke="#f0a060" stroke-width="2.2" stroke-opacity="0.28"/>
<circle cx="145.69" cy="217.06" r="8.05" fill="none" stroke="#f08030" stroke-width="1.4" stroke-opacity="0.14"/>
<circle cx="146.17" cy="217.11" r="8.05" fill="none" stroke="#f08030" stroke-width="1.4" stroke-opacity="0.14"/>
<circle cx="146.66" cy="217.17" r="8.05" fill="none" stroke="#f08030" stroke-width="1.4" stroke-opacity="0.14"/>
<circle cx="147.14" cy="217.23" r="8.05" fill="none" stroke="#f08030" stroke-width="1.4" stroke-opacity="0.14"/>
<circle cx="147.63" cy="217.29" r="8.05" fill="none" stroke="#f08030" stroke-width="1.4" stroke-opacity="0.14"/>
<circle cx="148.11" cy="217.34" r="8.05" fill="none" stroke="#f08030" stroke-width="1.4" stroke-opacity="0.14"/>
<circle cx="148.60" cy="217.40" r="8.05" fill="none" stroke="#f08030" stroke-width="1.4" stroke-opacity="0.14"/>
<circle cx="168.60" cy="217.00" r="8.350000000000001" fill="none" stroke="#9fe3df" stroke-width="2.2" stroke-opacity="0.30"/>
<circle cx="156.90" cy="237.16" r="8.350000000000001" fill="none" stroke="#9fe3df" stroke-width="2.2" stroke-opacity="0.30"/>
<circle cx="28.20" cy="257.32" r="8.350000000000001" fill="none" stroke="#9fe3df" stroke-width="2.2" stroke-opacity="0.30"/>
<circle cx="51.60" cy="257.32" r="8.350000000000001" fill="none" stroke="#9fe3df" stroke-width="2.2" stroke-opacity="0.30"/>
<circle cx="75.00" cy="257.32" r="8.350000000000001" fill="none" stroke="#9fe3df" stroke-width="2.2" stroke-opacity="0.30"/>
<circle cx="98.40" cy="257.32" r="8.350000000000001" fill="none" stroke="#9fe3df" stroke-width="2.2" stroke-opacity="0.30"/>
<circle cx="145.20" cy="257.32" r="8.350000000000001" fill="none" stroke="#f0a060" stroke-width="2.2" stroke-opacity="0.28"/>
<circle cx="144.89" cy="257.69" r="8.05" fill="none" stroke="#f08030" stroke-width="1.4" stroke-opacity="0.14"/>
<circle cx="144.57" cy="258.06" r="8.05" fill="none" stroke="#f08030" stroke-width="1.4" stroke-opacity="0.14"/>
<circle cx="144.26" cy="258.43" r="8.05" fill="none" stroke="#f08030" stroke-width="1.4" stroke-opacity="0.14"/>
<circle cx="143.94" cy="258.81" r="8.05" fill="none" stroke="#f08030" stroke-width="1.4" stroke-opacity="0.14"/>
<circle cx="143.63" cy="259.18" r="8.05" fill="none" stroke="#f08030" stroke-width="1.4" stroke-opacity="0.14"/>
<circle cx="143.31" cy="259.55" r="8.05" fill="none" stroke="#f08030" stroke-width="1.4" stroke-opacity="0.14"/>
<circle cx="143.00" cy="259.92" r="8.05" fill="none" stroke="#f08030" stroke-width="1.4" stroke-opacity="0.14"/>
<circle cx="168.60" cy="257.32" r="8.350000000000001" fill="none" stroke="#9fe3df" stroke-width="2.2" stroke-opacity="0.30"/>
<circle cx="39.90" cy="277.48" r="8.350000000000001" fill="none" stroke="#9fe3df" stroke-width="2.2" stroke-opacity="0.30"/>
<circle cx="63.30" cy="277.48" r="8.350000000000001" fill="none" stroke="#f06060" stroke-width="2.2" stroke-opacity="0.28"/>
<circle cx="63.67" cy="277.91" r="8.05" fill="none" stroke="#f03030" stroke-width="1.4" stroke-opacity="0.14"/>
<circle cx="64.04" cy="278.34" r="8.05" fill="none" stroke="#f03030" stroke-width="1.4" stroke-opacity="0.14"/>
<circle cx="64.41" cy="278.77" r="8.05" fill="none" stroke="#f03030" stroke-width="1.4" stroke-opacity="0.14"/>
<circle cx="64.79" cy="279.19" r="8.05" fill="none" stroke="#f03030" stroke-width="1.4" stroke-opacity="0.14"/>
<circle cx="65.16" cy="279.62" r="8.05" fill="none" stroke="#f03030" stroke-width="1.4" stroke-opacity="0.14"/>
<circle cx="65.53" cy="280.05" r="8.05" fill="none" stroke="#f03030" stroke-width="1.4" stroke-opacity="0.14"/>
<circle cx="65.90" cy="280.48" r="8.05" fill="none" stroke="#f03030" stroke-width="1.4" stroke-opacity="0.14"/>
<circle cx="86.70" cy="277.48" r="8.350000000000001" fill="none" stroke="#9fe3df" stroke-width="2.2" stroke-opacity="0.30"/>
<circle cx="133.50" cy="277.48" r="8.350000000000001" fill="none" stroke="#9fe3df" stroke-width="2.2" stroke-opacity="0.30"/>
<circle cx="156.90" cy="277.48" r="8.350000000000001" fill="none" stroke="#9fe3df" stroke-width="2.2" stroke-opacity="0.30"/>
<circle cx="28.20" cy="297.64" r="8.350000000000001" fill="none" stroke="#9fe3df" stroke-width="2.2" stroke-opacity="0.30"/>
<circle cx="51.60" cy="297.64" r="8.350000000000001" fill="none" stroke="#f0d040" stroke-width="2.2" stroke-opacity="0.39"/>
<circle cx="75.00" cy="297.64" r="8.350000000000001" fill="none" stroke="#d8e070" stroke-width="2.2" stroke-opacity="0.33"/>
<circle cx="121.80" cy="297.64" r="8.350000000000001" fill="none" stroke="#d8e070" stroke-width="2.2" stroke-opacity="0.33"/>
<circle cx="145.20" cy="297.64" r="8.350000000000001" fill="none" stroke="#eef070" stroke-width="2.2" stroke-opacity="0.33"/>
<circle cx="168.60" cy="297.64" r="8.350000000000001" fill="none" stroke="#9fe3df" stroke-width="2.2" stroke-opacity="0.30"/>
<circle cx="39.90" cy="317.80" r="8.350000000000001" fill="none" stroke="#9fe3df" stroke-width="2.2" stroke-opacity="0.30"/>
<circle cx="63.30" cy="317.80" r="8.350000000000001" fill="none" stroke="#9fe3df" stroke-width="2.2" stroke-opacity="0.30"/>
<circle cx="110.10" cy="317.80" r="8.350000000000001" fill="none" stroke="#9fe3df" stroke-width="2.2" stroke-opacity="0.30"/>
<circle cx="133.50" cy="317.80" r="8.350000000000001" fill="none" stroke="#f06060" stroke-width="2.2" stroke-opacity="0.28"/>
<circle cx="133.13" cy="317.43" r="8.05" fill="none" stroke="#f03030" stroke-width="1.4" stroke-opacity="0.14"/>
<circle cx="132.76" cy="317.06" r="8.05" fill="none" stroke="#f03030" stroke-width="1.4" stroke-opacity="0.14"/>
<circle cx="132.39" cy="316.69" r="8.05" fill="none" stroke="#f03030" stroke-width="1.4" stroke-opacity="0.14"/>
<circle cx="132.01" cy="316.31" r="8.05" fill="none" stroke="#f03030" stroke-width="1.4" stroke-opacity="0.14"/>
<circle cx="131.64" cy="315.94" r="8.05" fill="none" stroke="#f03030" stroke-width="1.4" stroke-opacity="0.14"/>
<circle cx="131.27" cy="315.57" r="8.05" fill="none" stroke="#f03030" stroke-width="1.4" stroke-opacity="0.14"/>
<circle cx="130.90" cy="315.20" r="8.05" fill="none" stroke="#f03030" stroke-width="1.4" stroke-opacity="0.14"/>
<circle cx="156.90" cy="317.80" r="8.350000000000001" fill="none" stroke="#9fe3df" stroke-width="2.2" stroke-opacity="0.30"/>
<circle cx="28.20" cy="337.96" r="8.350000000000001" fill="none" stroke="#9fe3df" stroke-width="2.2" stroke-opacity="0.30"/>
<circle cx="51.60" cy="337.96" r="8.350000000000001" fill="none" stroke="#f0d040" stroke-width="2.2" stroke-opacity="0.39"/>
<circle cx="98.40" cy="337.96" r="8.350000000000001" fill="none" stroke="#9fe3df" stroke-width="2.2" stroke-opacity="0.30"/>
<circle cx="121.80" cy="337.96" r="8.350000000000001" fill="none" stroke="#9fe3df" stroke-width="2.2" stroke-opacity="0.30"/>
<circle cx="145.20" cy="337.96" r="8.350000000000001" fill="none" stroke="#9fe3df" stroke-width="2.2" stroke-opacity="0.30"/>
<circle cx="168.60" cy="337.96" r="8.350000000000001" fill="none" stroke="#9fe3df" stroke-width="2.2" stroke-opacity="0.30"/>
<circle cx="39.90" cy="358.12" r="8.350000000000001" fill="none" stroke="#9fe3df" stroke-width="2.2" stroke-opacity="0.30"/>
<circle cx="28.20" cy="378.28" r="8.350000000000001" fill="none" stroke="#9fe3df" stroke-width="2.2" stroke-opacity="0.30"/>
<circle cx="51.60" cy="378.28" r="8.350000000000001" fill="none" stroke="#f0a060" stroke-width="2.2" stroke-opacity="0.28"/>
<circle cx="51.09" cy="378.31" r="8.05" fill="none" stroke="#f08030" stroke-width="1.4" stroke-opacity="0.14"/>
<circle cx="50.57" cy="378.34" r="8.05" fill="none" stroke="#f08030" stroke-width="1.4" stroke-opacity="0.14"/>
<circle cx="50.06" cy="378.37" r="8.05" fill="none" stroke="#f08030" stroke-width="1.4" stroke-opacity="0.14"/>
<circle cx="49.54" cy="378.39" r="8.05" fill="none" stroke="#f08030" stroke-width="1.4" stroke-opacity="0.14"/>
<circle cx="49.03" cy="378.42" r="8.05" fill="none" stroke="#f08030" stroke-width="1.4" stroke-opacity="0.14"/>
<circle cx="48.51" cy="378.45" r="8.05" fill="none" stroke="#f08030" stroke-width="1.4" stroke-opacity="0.14"/>
<circle cx="48.00" cy="378.48" r="8.05" fill="none" stroke="#f08030" stroke-width="1.4" stroke-opacity="0.14"/>
<circle cx="75.00" cy="378.28" r="8.350000000000001" fill="none" stroke="#f06060" stroke-width="2.2" stroke-opacity="0.28"/>
<circle cx="74.54" cy="378.59" r="8.05" fill="none" stroke="#f03030" stroke-width="1.4" stroke-opacity="0.14"/>
<circle cx="74.09" cy="378.91" r="8.05" fill="none" stroke="#f03030" stroke-width="1.4" stroke-opacity="0.14"/>
<circle cx="73.63" cy="379.22" r="8.05" fill="none" stroke="#f03030" stroke-width="1.4" stroke-opacity="0.14"/>
<circle cx="73.17" cy="379.54" r="8.05" fill="none" stroke="#f03030" stroke-width="1.4" stroke-opacity="0.14"/>
<circle cx="72.71" cy="379.85" r="8.05" fill="none" stroke="#f03030" stroke-width="1.4" stroke-opacity="0.14"/>
<circle cx="72.26" cy="380.17" r="8.05" fill="none" stroke="#f03030" stroke-width="1.4" stroke-opacity="0.14"/>
<circle cx="71.80" cy="380.48" r="8.05" fill="none" stroke="#f03030" stroke-width="1.4" stroke-opacity="0.14"/>
<circle cx="98.40" cy="378.28" r="8.350000000000001" fill="none" stroke="#eef070" stroke-width="2.2" stroke-opacity="0.33"/>
<circle cx="121.80" cy="378.28" r="8.350000000000001" fill="none" stroke="#9fe3df" stroke-width="2.2" stroke-opacity="0.30"/>
<circle cx="145.20" cy="378.28" r="8.350000000000001" fill="none" stroke="#9fe3df" stroke-width="2.2" stroke-opacity="0.30"/>
<circle cx="168.60" cy="378.28" r="8.350000000000001" fill="none" stroke="#eef070" stroke-width="2.2" stroke-opacity="0.39"/>
<circle cx="28.20" cy="217.00" r="8.05" fill="none" stroke="#5c7458" stroke-width="1.15"/>
<circle cx="51.60" cy="217.00" r="8.05" fill="none" stroke="#627272" stroke-width="1.15"/>
<circle cx="75.00" cy="217.00" r="8.05" fill="none" stroke="#627272" stroke-width="1.15"/>
<circle cx="98.40" cy="217.00" r="8.05" fill="none" stroke="#7c7444" stroke-width="1.15"/>
<circle cx="121.80" cy="217.00" r="8.05" fill="none" stroke="#a02222" stroke-width="1.15"/>
<circle cx="145.20" cy="217.00" r="8.05" fill="none" stroke="#94582a" stroke-width="1.15"/>
<circle cx="168.60" cy="217.00" r="8.05" fill="none" stroke="#627272" stroke-width="1.15"/>
<circle cx="156.90" cy="237.16" r="8.05" fill="none" stroke="#627272" stroke-width="1.15"/>
<circle cx="28.20" cy="257.32" r="8.05" fill="none" stroke="#627272" stroke-width="1.15"/>
<circle cx="51.60" cy="257.32" r="8.05" fill="none" stroke="#627272" stroke-width="1.15"/>
<circle cx="75.00" cy="257.32" r="8.05" fill="none" stroke="#627272" stroke-width="1.15"/>
<circle cx="98.40" cy="257.32" r="8.05" fill="none" stroke="#627272" stroke-width="1.15"/>
<circle cx="145.20" cy="257.32" r="8.05" fill="none" stroke="#94582a" stroke-width="1.15"/>
<circle cx="168.60" cy="257.32" r="8.05" fill="none" stroke="#627272" stroke-width="1.15"/>
<circle cx="39.90" cy="277.48" r="8.05" fill="none" stroke="#627272" stroke-width="1.15"/>
<circle cx="63.30" cy="277.48" r="8.05" fill="none" stroke="#a02222" stroke-width="1.15"/>
<circle cx="86.70" cy="277.48" r="8.05" fill="none" stroke="#627272" stroke-width="1.15"/>
<circle cx="133.50" cy="277.48" r="8.05" fill="none" stroke="#627272" stroke-width="1.15"/>
<circle cx="156.90" cy="277.48" r="8.05" fill="none" stroke="#627272" stroke-width="1.15"/>
<circle cx="28.20" cy="297.64" r="8.05" fill="none" stroke="#627272" stroke-width="1.15"/>
<circle cx="51.60" cy="297.64" r="8.05" fill="none" stroke="#7c7444" stroke-width="1.15"/>
<circle cx="75.00" cy="297.64" r="8.05" fill="none" stroke="#7c7444" stroke-width="1.15"/>
<circle cx="121.80" cy="297.64" r="8.05" fill="none" stroke="#7c7444" stroke-width="1.15"/>
<circle cx="145.20" cy="297.64" r="8.05" fill="none" stroke="#7c7444" stroke-width="1.15"/>
<circle cx="168.60" cy="297.64" r="8.05" fill="none" stroke="#627272" stroke-width="1.15"/>
<circle cx="39.90" cy="317.80" r="8.05" fill="none" stroke="#627272" stroke-width="1.15"/>
<circle cx="63.30" cy="317.80" r="8.05" fill="none" stroke="#627272" stroke-width="1.15"/>
<circle cx="110.10" cy="317.80" r="8.05" fill="none" stroke="#627272" stroke-width="1.15"/>
<circle cx="133.50" cy="317.80" r="8.05" fill="none" stroke="#a02222" stroke-width="1.15"/>
<circle cx="156.90" cy="317.80" r="8.05" fill="none" stroke="#627272" stroke-width="1.15"/>
<circle cx="28.20" cy="337.96" r="8.05" fill="none" stroke="#627272" stroke-width="1.15"/>
<circle cx="51.60" cy="337.96" r="8.05" fill="none" stroke="#7c7444" stroke-width="1.15"/>
<circle cx="98.40" cy="337.96" r="8.05" fill="none" stroke="#627272" stroke-width="1.15"/>
<circle cx="121.80" cy="337.96" r="8.05" fill="none" stroke="#627272" stroke-width="1.15"/>
<circle cx="145.20" cy="337.96" r="8.05" fill="none" stroke="#627272" stroke-width="1.15"/>
<circle cx="168.60" cy="337.96" r="8.05" fill="none" stroke="#627272" stroke-width="1.15"/>
<circle cx="39.90" cy="358.12" r="8.05" fill="none" stroke="#627272" stroke-width="1.15"/>
<circle cx="28.20" cy="378.28" r="8.05" fill="none" stroke="#627272" stroke-width="1.15"/>
<circle cx="51.60" cy="378.28" r="8.05" fill="none" stroke="#94582a" stroke-width="1.15"/>
<circle cx="75.00" cy="378.28" r="8.05" fill="none" stroke="#a02222" stroke-width="1.15"/>
<circle cx="98.40" cy="378.28" r="8.05" fill="none" stroke="#7c7444" stroke-width="1.15"/>
<circle cx="121.80" cy="378.28" r="8.05" fill="none" stroke="#627272" stroke-width="1.15"/>
<circle cx="145.20" cy="378.28" r="8.05" fill="none" stroke="#627272" stroke-width="1.15"/>
<circle cx="168.60" cy="378.28" r="8.05" fill="none" stroke="#7c7444" stroke-width="1.15"/>
</g>
<text x="28.00" y="221.10" font-family="'Liberation Serif', 'DejaVu Serif', serif" font-size="12.2" text-anchor="middle" fill="#111" stroke="#111" stroke-width="0.3">1</text>
<text x="97.60" y="221.10" font-family="'Liberation Serif', 'DejaVu Serif', serif" font-size="12.2" text-anchor="middle" fill="#111" stroke="#111" stroke-width="0.3">2</text>
<text x="120.30" y="221.10" font-family="'Liberation Serif', 'DejaVu Serif', serif" font-size="12.2" text-anchor="middle" fill="#111" stroke="#111" stroke-width="0.3">3</text>
<text x="143.80" y="221.10" font-family="'Liberation Serif', 'DejaVu Serif', serif" font-size="12.2" text-anchor="middle" fill="#111" stroke="#111" stroke-width="0.3">4</text>
<text x="144.60" y="261.42" font-family="'Liberation Serif', 'DejaVu Serif', serif" font-size="12.2" text-anchor="middle" fill="#111" stroke="#111" stroke-width="0.3">5</text>
<text x="63.20" y="281.08" font-family="'Liberation Serif', 'DejaVu Serif', serif" font-size="12.2" text-anchor="middle" fill="#111" stroke="#111" stroke-width="0.3">6</text>
<text x="50.40" y="301.74" font-family="'Liberation Serif', 'DejaVu Serif', serif" font-size="12.2" text-anchor="middle" fill="#111" stroke="#111" stroke-width="0.3">7</text>
<text x="73.90" y="302.24" font-family="'Liberation Serif', 'DejaVu Serif', serif" font-size="12.2" text-anchor="middle" fill="#111" stroke="#111" stroke-width="0.3">8</text>
<text x="121.70" y="301.74" font-family="'Liberation Serif', 'DejaVu Serif', serif" font-size="12.2" text-anchor="middle" fill="#111" stroke="#111" stroke-width="0.3">9</text>
<text x="145.10" y="301.74" font-family="'Liberation Serif', 'DejaVu Serif', serif" font-size="12.2" text-anchor="middle" fill="#111" stroke="#111" stroke-width="0.3">10</text>
<text x="134.40" y="322.40" font-family="'Liberation Serif', 'DejaVu Serif', serif" font-size="12.2" text-anchor="middle" fill="#111" stroke="#111" stroke-width="0.3">11</text>
<text x="51.70" y="343.06" font-family="'Liberation Serif', 'DejaVu Serif', serif" font-size="12.2" text-anchor="middle" fill="#111" stroke="#111" stroke-width="0.3">12</text>
<text x="54.10" y="382.78" font-family="'Liberation Serif', 'DejaVu Serif', serif" font-size="12.2" text-anchor="middle" fill="#111" stroke="#111" stroke-width="0.3">13</text>
<text x="75.90" y="382.78" font-family="'Liberation Serif', 'DejaVu Serif', serif" font-size="12.2" text-anchor="middle" fill="#111" stroke="#111" stroke-width="0.3">14</text>
<text x="99.60" y="382.78" font-family="'Liberation Serif', 'DejaVu Serif', serif" font-size="12.2" text-anchor="middle" fill="#111" stroke="#111" stroke-width="0.3">15</text>
<text x="169.00" y="382.38" font-family="'Liberation Serif', 'DejaVu Serif', serif" font-size="12.2" text-anchor="middle" fill="#111" stroke="#111" stroke-width="0.3">16</text>
<clipPath id="clipd"><rect x="329.5" y="202.5" width="142.0" height="188.0"/></clipPath>
<g clip-path="url(#clipd)">
<circle cx="332.00" cy="216.50" r="8.350000000000001" fill="none" stroke="#f0d840" stroke-width="2.2" stroke-opacity="0.39"/>
<circle cx="355.35" cy="216.50" r="8.350000000000001" fill="none" stroke="#b8e890" stroke-width="2.2" stroke-opacity="0.33"/>
<circle cx="378.70" cy="216.50" r="8.350000000000001" fill="none" stroke="#f0d840" stroke-width="2.2" stroke-opacity="0.39"/>
<circle cx="378.70" cy="216.79" r="8.05" fill="none" stroke="#f0c040" stroke-width="1.4" stroke-opacity="0.14"/>
<circle cx="378.70" cy="217.07" r="8.05" fill="none" stroke="#f0c040" stroke-width="1.4" stroke-opacity="0.14"/>
<circle cx="378.70" cy="217.36" r="8.05" fill="none" stroke="#f0c040" stroke-width="1.4" stroke-opacity="0.14"/>
<circle cx="378.70" cy="217.64" r="8.05" fill="none" stroke="#f0c040" stroke-width="1.4" stroke-opacity="0.14"/>
<circle cx="378.70" cy="217.93" r="8.05" fill="none" stroke="#f0c040" stroke-width="1.4" stroke-opacity="0.14"/>
<circle cx="378.70" cy="218.21" r="8.05" fill="none" stroke="#f0c040" stroke-width="1.4" stroke-opacity="0.14"/>
<circle cx="378.70" cy="218.50" r="8.05" fill="none" stroke="#f0c040" stroke-width="1.4" stroke-opacity="0.14"/>
<circle cx="402.05" cy="216.50" r="8.350000000000001" fill="none" stroke="#b8e890" stroke-width="2.2" stroke-opacity="0.33"/>
<circle cx="425.40" cy="216.50" r="8.350000000000001" fill="none" stroke="#a8e0e0" stroke-width="2.2" stroke-opacity="0.30"/>
<circle cx="448.75" cy="216.50" r="8.350000000000001" fill="none" stroke="#d8f080" stroke-width="2.2" stroke-opacity="0.33"/>
<circle cx="472.10" cy="216.50" r="8.350000000000001" fill="none" stroke="#a8e0e0" stroke-width="2.2" stroke-opacity="0.30"/>
<circle cx="437.07" cy="236.50" r="8.350000000000001" fill="none" stroke="#a8e0e0" stroke-width="2.2" stroke-opacity="0.30"/>
<circle cx="460.43" cy="236.50" r="8.350000000000001" fill="none" stroke="#a8e0e0" stroke-width="2.2" stroke-opacity="0.30"/>
<circle cx="332.00" cy="256.50" r="8.350000000000001" fill="none" stroke="#a8e0e0" stroke-width="2.2" stroke-opacity="0.30"/>
<circle cx="355.35" cy="256.50" r="8.350000000000001" fill="none" stroke="#f0d840" stroke-width="2.2" stroke-opacity="0.39"/>
<circle cx="355.52" cy="256.71" r="8.05" fill="none" stroke="#f0c040" stroke-width="1.4" stroke-opacity="0.14"/>
<circle cx="355.69" cy="256.93" r="8.05" fill="none" stroke="#f0c040" stroke-width="1.4" stroke-opacity="0.14"/>
<circle cx="355.86" cy="257.14" r="8.05" fill="none" stroke="#f0c040" stroke-width="1.4" stroke-opacity="0.14"/>
<circle cx="356.04" cy="257.36" r="8.05" fill="none" stroke="#f0c040" stroke-width="1.4" stroke-opacity="0.14"/>
<circle cx="356.21" cy="257.57" r="8.05" fill="none" stroke="#f0c040" stroke-width="1.4" stroke-opacity="0.14"/>
<circle cx="356.38" cy="257.79" r="8.05" fill="none" stroke="#f0c040" stroke-width="1.4" stroke-opacity="0.14"/>
<circle cx="356.55" cy="258.00" r="8.05" fill="none" stroke="#f0c040" stroke-width="1.4" stroke-opacity="0.14"/>
<circle cx="378.70" cy="256.50" r="8.350000000000001" fill="none" stroke="#f0b050" stroke-width="2.2" stroke-opacity="0.33"/>
<circle cx="378.70" cy="256.19" r="8.05" fill="none" stroke="#f0a040" stroke-width="1.4" stroke-opacity="0.14"/>
<circle cx="378.70" cy="255.87" r="8.05" fill="none" stroke="#f0a040" stroke-width="1.4" stroke-opacity="0.14"/>
<circle cx="378.70" cy="255.56" r="8.05" fill="none" stroke="#f0a040" stroke-width="1.4" stroke-opacity="0.14"/>
<circle cx="378.70" cy="255.24" r="8.05" fill="none" stroke="#f0a040" stroke-width="1.4" stroke-opacity="0.14"/>
<circle cx="378.70" cy="254.93" r="8.05" fill="none" stroke="#f0a040" stroke-width="1.4" stroke-opacity="0.14"/>
<circle cx="378.70" cy="254.61" r="8.05" fill="none" stroke="#f0a040" stroke-width="1.4" stroke-opacity="0.14"/>
<circle cx="378.70" cy="254.30" r="8.05" fill="none" stroke="#f0a040" stroke-width="1.4" stroke-opacity="0.14"/>
<circle cx="448.75" cy="256.50" r="8.350000000000001" fill="none" stroke="#a8e0e0" stroke-width="2.2" stroke-opacity="0.30"/>
<circle cx="472.10" cy="256.50" r="8.350000000000001" fill="none" stroke="#a8e0e0" stroke-width="2.2" stroke-opacity="0.30"/>
<circle cx="343.68" cy="276.50" r="8.350000000000001" fill="none" stroke="#a8e0e0" stroke-width="2.2" stroke-opacity="0.30"/>
<circle cx="367.03" cy="276.50" r="8.350000000000001" fill="none" stroke="#b8e890" stroke-width="2.2" stroke-opacity="0.33"/>
<circle cx="390.38" cy="276.50" r="8.350000000000001" fill="none" stroke="#a8e0e0" stroke-width="2.2" stroke-opacity="0.30"/>
<circle cx="437.07" cy="276.50" r="8.350000000000001" fill="none" stroke="#a8e0e0" stroke-width="2.2" stroke-opacity="0.30"/>
<circle cx="460.43" cy="276.50" r="8.350000000000001" fill="none" stroke="#a8e0e0" stroke-width="2.2" stroke-opacity="0.30"/>
<circle cx="332.00" cy="296.50" r="8.350000000000001" fill="none" stroke="#b8e890" stroke-width="2.2" stroke-opacity="0.33"/>
<circle cx="355.35" cy="296.50" r="8.350000000000001" fill="none" stroke="#a8e0e0" stroke-width="2.2" stroke-opacity="0.30"/>
<circle cx="378.70" cy="296.50" r="8.350000000000001" fill="none" stroke="#b8e890" stroke-width="2.2" stroke-opacity="0.33"/>
<circle cx="425.40" cy="296.50" r="8.350000000000001" fill="none" stroke="#b8e890" stroke-width="2.2" stroke-opacity="0.33"/>
<circle cx="448.75" cy="296.50" r="8.350000000000001" fill="none" stroke="#a8e0e0" stroke-width="2.2" stroke-opacity="0.30"/>
<circle cx="472.10" cy="296.50" r="8.350000000000001" fill="none" stroke="#f0d040" stroke-width="2.2" stroke-opacity="0.39"/>
<circle cx="343.68" cy="316.50" r="8.350000000000001" fill="none" stroke="#a8e0e0" stroke-width="2.2" stroke-opacity="0.30"/>
<circle cx="367.03" cy="316.50" r="8.350000000000001" fill="none" stroke="#a8e0e0" stroke-width="2.2" stroke-opacity="0.30"/>
<circle cx="413.73" cy="316.50" r="8.350000000000001" fill="none" stroke="#a8e0e0" stroke-width="2.2" stroke-opacity="0.30"/>
<circle cx="437.07" cy="316.50" r="8.350000000000001" fill="none" stroke="#a8e0e0" stroke-width="2.2" stroke-opacity="0.30"/>
<circle cx="460.43" cy="316.50" r="8.350000000000001" fill="none" stroke="#a8e0e0" stroke-width="2.2" stroke-opacity="0.30"/>
<circle cx="332.00" cy="336.50" r="8.350000000000001" fill="none" stroke="#a8e0e0" stroke-width="2.2" stroke-opacity="0.30"/>
<circle cx="355.35" cy="336.50" r="8.350000000000001" fill="none" stroke="#a8e0e0" stroke-width="2.2" stroke-opacity="0.30"/>
<circle cx="425.40" cy="336.50" r="8.350000000000001" fill="none" stroke="#f06060" stroke-width="2.2" stroke-opacity="0.28"/>
<circle cx="425.40" cy="337.36" r="8.05" fill="none" stroke="#f02828" stroke-width="1.4" stroke-opacity="0.24"/>
<circle cx="425.40" cy="338.21" r="8.05" fill="none" stroke="#f02828" stroke-width="1.4" stroke-opacity="0.24"/>
<circle cx="425.40" cy="339.07" r="8.05" fill="none" stroke="#f02828" stroke-width="1.4" stroke-opacity="0.24"/>
<circle cx="425.40" cy="339.93" r="8.05" fill="none" stroke="#f02828" stroke-width="1.4" stroke-opacity="0.24"/>
<circle cx="425.40" cy="340.79" r="8.05" fill="none" stroke="#f02828" stroke-width="1.4" stroke-opacity="0.24"/>
<circle cx="425.40" cy="341.64" r="8.05" fill="none" stroke="#f02828" stroke-width="1.4" stroke-opacity="0.24"/>
<circle cx="425.40" cy="342.50" r="8.05" fill="none" stroke="#f02828" stroke-width="1.4" stroke-opacity="0.24"/>
<circle cx="448.75" cy="336.50" r="8.350000000000001" fill="none" stroke="#f0a060" stroke-width="2.2" stroke-opacity="0.28"/>
<circle cx="448.11" cy="335.86" r="8.05" fill="none" stroke="#f08030" stroke-width="1.4" stroke-opacity="0.2"/>
<circle cx="447.46" cy="335.21" r="8.05" fill="none" stroke="#f08030" stroke-width="1.4" stroke-opacity="0.2"/>
<circle cx="446.82" cy="334.57" r="8.05" fill="none" stroke="#f08030" stroke-width="1.4" stroke-opacity="0.2"/>
<circle cx="446.18" cy="333.93" r="8.05" fill="none" stroke="#f08030" stroke-width="1.4" stroke-opacity="0.2"/>
<circle cx="445.54" cy="333.29" r="8.05" fill="none" stroke="#f08030" stroke-width="1.4" stroke-opacity="0.2"/>
<circle cx="444.89" cy="332.64" r="8.05" fill="none" stroke="#f08030" stroke-width="1.4" stroke-opacity="0.2"/>
<circle cx="444.25" cy="332.00" r="8.05" fill="none" stroke="#f08030" stroke-width="1.4" stroke-opacity="0.2"/>
<circle cx="472.10" cy="336.50" r="8.350000000000001" fill="none" stroke="#b8e890" stroke-width="2.2" stroke-opacity="0.33"/>
<circle cx="343.68" cy="356.50" r="8.350000000000001" fill="none" stroke="#a8e0e0" stroke-width="2.2" stroke-opacity="0.30"/>
<circle cx="367.03" cy="356.50" r="8.350000000000001" fill="none" stroke="#a8e0e0" stroke-width="2.2" stroke-opacity="0.30"/>
<circle cx="332.00" cy="376.50" r="8.350000000000001" fill="none" stroke="#a8e0e0" stroke-width="2.2" stroke-opacity="0.30"/>
<circle cx="355.35" cy="376.50" r="8.350000000000001" fill="none" stroke="#b8e890" stroke-width="2.2" stroke-opacity="0.33"/>
<circle cx="378.70" cy="376.50" r="8.350000000000001" fill="none" stroke="#a8e0e0" stroke-width="2.2" stroke-opacity="0.30"/>
<circle cx="402.05" cy="376.50" r="8.350000000000001" fill="none" stroke="#9fe3c0" stroke-width="2.2" stroke-opacity="0.33"/>
<circle cx="425.40" cy="376.50" r="8.350000000000001" fill="none" stroke="#a8e0e0" stroke-width="2.2" stroke-opacity="0.30"/>
<circle cx="448.75" cy="376.50" r="8.350000000000001" fill="none" stroke="#a8e0e0" stroke-width="2.2" stroke-opacity="0.30"/>
<circle cx="472.10" cy="376.50" r="8.350000000000001" fill="none" stroke="#d0e880" stroke-width="2.2" stroke-opacity="0.33"/>
<circle cx="332.00" cy="216.50" r="8.05" fill="none" stroke="#7c7444" stroke-width="1.15"/>
<circle cx="355.35" cy="216.50" r="8.05" fill="none" stroke="#5c7458" stroke-width="1.15"/>
<circle cx="378.70" cy="216.50" r="8.05" fill="none" stroke="#7c7444" stroke-width="1.15"/>
<circle cx="402.05" cy="216.50" r="8.05" fill="none" stroke="#5c7458" stroke-width="1.15"/>
<circle cx="425.40" cy="216.50" r="8.05" fill="none" stroke="#6a7070" stroke-width="1.15"/>
<circle cx="448.75" cy="216.50" r="8.05" fill="none" stroke="#5c7458" stroke-width="1.15"/>
<circle cx="472.10" cy="216.50" r="8.05" fill="none" stroke="#6a7070" stroke-width="1.15"/>
<circle cx="437.07" cy="236.50" r="8.05" fill="none" stroke="#6a7070" stroke-width="1.15"/>
<circle cx="460.43" cy="236.50" r="8.05" fill="none" stroke="#6a7070" stroke-width="1.15"/>
<circle cx="332.00" cy="256.50" r="8.05" fill="none" stroke="#6a7070" stroke-width="1.15"/>
<circle cx="355.35" cy="256.50" r="8.05" fill="none" stroke="#7c7444" stroke-width="1.15"/>
<circle cx="378.70" cy="256.50" r="8.05" fill="none" stroke="#94582a" stroke-width="1.15"/>
<circle cx="448.75" cy="256.50" r="8.05" fill="none" stroke="#6a7070" stroke-width="1.15"/>
<circle cx="472.10" cy="256.50" r="8.05" fill="none" stroke="#6a7070" stroke-width="1.15"/>
<circle cx="343.68" cy="276.50" r="8.05" fill="none" stroke="#6a7070" stroke-width="1.15"/>
<circle cx="367.03" cy="276.50" r="8.05" fill="none" stroke="#5c7458" stroke-width="1.15"/>
<circle cx="390.38" cy="276.50" r="8.05" fill="none" stroke="#6a7070" stroke-width="1.15"/>
<circle cx="437.07" cy="276.50" r="8.05" fill="none" stroke="#6a7070" stroke-width="1.15"/>
<circle cx="460.43" cy="276.50" r="8.05" fill="none" stroke="#6a7070" stroke-width="1.15"/>
<circle cx="332.00" cy="296.50" r="8.05" fill="none" stroke="#5c7458" stroke-width="1.15"/>
<circle cx="355.35" cy="296.50" r="8.05" fill="none" stroke="#6a7070" stroke-width="1.15"/>
<circle cx="378.70" cy="296.50" r="8.05" fill="none" stroke="#5c7458" stroke-width="1.15"/>
<circle cx="425.40" cy="296.50" r="8.05" fill="none" stroke="#5c7458" stroke-width="1.15"/>
<circle cx="448.75" cy="296.50" r="8.05" fill="none" stroke="#6a7070" stroke-width="1.15"/>
<circle cx="472.10" cy="296.50" r="8.05" fill="none" stroke="#7c7444" stroke-width="1.15"/>
<circle cx="343.68" cy="316.50" r="8.05" fill="none" stroke="#6a7070" stroke-width="1.15"/>
<circle cx="367.03" cy="316.50" r="8.05" fill="none" stroke="#6a7070" stroke-width="1.15"/>
<circle cx="413.73" cy="316.50" r="8.05" fill="none" stroke="#6a7070" stroke-width="1.15"/>
<circle cx="437.07" cy="316.50" r="8.05" fill="none" stroke="#6a7070" stroke-width="1.15"/>
<circle cx="460.43" cy="316.50" r="8.05" fill="none" stroke="#6a7070" stroke-width="1.15"/>
<circle cx="332.00" cy="336.50" r="8.05" fill="none" stroke="#6a7070" stroke-width="1.15"/>
<circle cx="355.35" cy="336.50" r="8.05" fill="none" stroke="#6a7070" stroke-width="1.15"/>
<circle cx="425.40" cy="336.50" r="8.05" fill="none" stroke="#a02222" stroke-width="1.15"/>
<circle cx="448.75" cy="336.50" r="8.05" fill="none" stroke="#94582a" stroke-width="1.15"/>
<circle cx="472.10" cy="336.50" r="8.05" fill="none" stroke="#5c7458" stroke-width="1.15"/>
<circle cx="343.68" cy="356.50" r="8.05" fill="none" stroke="#6a7070" stroke-width="1.15"/>
<circle cx="367.03" cy="356.50" r="8.05" fill="none" stroke="#6a7070" stroke-width="1.15"/>
<circle cx="332.00" cy="376.50" r="8.05" fill="none" stroke="#6a7070" stroke-width="1.15"/>
<circle cx="355.35" cy="376.50" r="8.05" fill="none" stroke="#5c7458" stroke-width="1.15"/>
<circle cx="378.70" cy="376.50" r="8.05" fill="none" stroke="#6a7070" stroke-width="1.15"/>
<circle cx="402.05" cy="376.50" r="8.05" fill="none" stroke="#5c7458" stroke-width="1.15"/>
<circle cx="425.40" cy="376.50" r="8.05" fill="none" stroke="#6a7070" stroke-width="1.15"/>
<circle cx="448.75" cy="376.50" r="8.05" fill="none" stroke="#6a7070" stroke-width="1.15"/>
<circle cx="472.10" cy="376.50" r="8.05" fill="none" stroke="#5c7458" stroke-width="1.15"/>
</g>
<text x="331.60" y="220.60" font-family="'Liberation Serif', 'DejaVu Serif', serif" font-size="12.5" text-anchor="middle" fill="#111" stroke="#111" stroke-width="0.3">1</text>
<text x="354.45" y="220.60" font-family="'Liberation Serif', 'DejaVu Serif', serif" font-size="12.5" text-anchor="middle" fill="#111" stroke="#111" stroke-width="0.3">2</text>
<text x="377.40" y="219.60" font-family="'Liberation Serif', 'DejaVu Serif', serif" font-size="12.5" text-anchor="middle" fill="#111" stroke="#111" stroke-width="0.3">3</text>
<text x="402.05" y="220.60" font-family="'Liberation Serif', 'DejaVu Serif', serif" font-size="12.5" text-anchor="middle" fill="#111" stroke="#111" stroke-width="0.3">4</text>
<text x="447.45" y="220.60" font-family="'Liberation Serif', 'DejaVu Serif', serif" font-size="12.5" text-anchor="middle" fill="#111" stroke="#111" stroke-width="0.3">5</text>
<text x="354.45" y="260.60" font-family="'Liberation Serif', 'DejaVu Serif', serif" font-size="12.5" text-anchor="middle" fill="#111" stroke="#111" stroke-width="0.3">6</text>
<text x="377.90" y="260.60" font-family="'Liberation Serif', 'DejaVu Serif', serif" font-size="12.5" text-anchor="middle" fill="#111" stroke="#111" stroke-width="0.3">7</text>
<text x="367.33" y="280.60" font-family="'Liberation Serif', 'DejaVu Serif', serif" font-size="12.5" text-anchor="middle" fill="#111" stroke="#111" stroke-width="0.3">8</text>
<text x="331.80" y="300.60" font-family="'Liberation Serif', 'DejaVu Serif', serif" font-size="12.5" text-anchor="middle" fill="#111" stroke="#111" stroke-width="0.3">9</text>
<text x="379.00" y="300.60" font-family="'Liberation Serif', 'DejaVu Serif', serif" font-size="12.5" text-anchor="middle" fill="#111" stroke="#111" stroke-width="0.3">10</text>
<text x="426.20" y="300.60" font-family="'Liberation Serif', 'DejaVu Serif', serif" font-size="12.5" text-anchor="middle" fill="#111" stroke="#111" stroke-width="0.3">11</text>
<text x="474.60" y="300.60" font-family="'Liberation Serif', 'DejaVu Serif', serif" font-size="12.5" text-anchor="middle" fill="#111" stroke="#111" stroke-width="0.3">12</text>
<text x="425.20" y="340.60" font-family="'Liberation Serif', 'DejaVu Serif', serif" font-size="12.5" text-anchor="middle" fill="#111" stroke="#111" stroke-width="0.3">13</text>
<text x="449.25" y="341.10" font-family="'Liberation Serif', 'DejaVu Serif', serif" font-size="12.5" text-anchor="middle" fill="#111" stroke="#111" stroke-width="0.3">14</text>
<text x="473.20" y="340.60" font-family="'Liberation Serif', 'DejaVu Serif', serif" font-size="12.5" text-anchor="middle" fill="#111" stroke="#111" stroke-width="0.3">15</text>
<text x="355.55" y="381.10" font-family="'Liberation Serif', 'DejaVu Serif', serif" font-size="12.5" text-anchor="middle" fill="#111" stroke="#111" stroke-width="0.3">16</text>
<text x="400.85" y="381.10" font-family="'Liberation Serif', 'DejaVu Serif', serif" font-size="12.5" text-anchor="middle" fill="#111" stroke="#111" stroke-width="0.3">17</text>
<text x="471.90" y="381.10" font-family="'Liberation Serif', 'DejaVu Serif', serif" font-size="12.5" text-anchor="middle" fill="#111" stroke="#111" stroke-width="0.3">18</text>
<line x1="20.7" y1="356.2" x2="20.7" y2="393.7" stroke="#000" stroke-width="1"/>
<line x1="20.7" y1="393.7" x2="60.7" y2="393.7" stroke="#000" stroke-width="1"/>
<polygon points="18.7,357.2 20.7,353.2 22.7,357.2" fill="#000"/>
<polygon points="59.7,391.7 63.7,393.7 59.7,395.7" fill="#000"/>
<text x="12.2" y="381.8" font-family="'Liberation Serif', 'DejaVu Serif', serif" font-style="italic" font-size="14.5">y</text>
<text x="37.0" y="406.3" font-family="'Liberation Serif', 'DejaVu Serif', serif" font-style="italic" font-size="14.5">x</text>
<line x1="325.7" y1="353.4" x2="325.7" y2="391.7" stroke="#000" stroke-width="1"/>
<line x1="325.7" y1="391.7" x2="364.4" y2="391.7" stroke="#000" stroke-width="1"/>
<polygon points="323.7,354.4 325.7,350.4 327.7,354.4" fill="#000"/>
<polygon points="363.4,389.7 367.4,391.7 363.4,393.7" fill="#000"/>
<text x="312.8" y="380.5" font-family="'Liberation Serif', 'DejaVu Serif', serif" font-style="italic" font-size="14.5">y</text>
<text x="340.6" y="405.0" font-family="'Liberation Serif', 'DejaVu Serif', serif" font-style="italic" font-size="14.5">x</text>
<text x="228.4" y="211.1" font-family="'DejaVu Sans', 'Liberation Sans', sans-serif" font-size="6.6" fill="#222">nm</text>
<polygon points="212.4,221.29999999999998 215.4,216.7 218.4,221.29999999999998" fill="#000"/>
<text x="221.6" y="221.4" font-family="'DejaVu Sans', 'Liberation Sans', sans-serif" font-size="6.6" fill="#111">44</text>
<rect x="220.3" y="236.2" width="8.4" height="138.3" fill="url(#rainbow)" stroke="#202020" stroke-width="0.5" stroke-opacity="0.55"/>
<line x1="220.3" y1="249.42" x2="221.5" y2="249.42" stroke="#000" stroke-width="0.7" stroke-opacity="0.7"/>
<line x1="227.50000000000003" y1="249.42" x2="228.70000000000002" y2="249.42" stroke="#000" stroke-width="0.7" stroke-opacity="0.7"/>
<text x="234.6" y="251.87" font-family="'DejaVu Sans', 'Liberation Sans', sans-serif" font-size="6.6" fill="#1a1a1a">40</text>
<line x1="220.3" y1="265.96" x2="221.5" y2="265.96" stroke="#000" stroke-width="0.7" stroke-opacity="0.7"/>
<line x1="227.50000000000003" y1="265.96" x2="228.70000000000002" y2="265.96" stroke="#000" stroke-width="0.7" stroke-opacity="0.7"/>
<text x="234.6" y="268.40" font-family="'DejaVu Sans', 'Liberation Sans', sans-serif" font-size="6.6" fill="#1a1a1a">35</text>
<line x1="220.3" y1="282.49" x2="221.5" y2="282.49" stroke="#000" stroke-width="0.7" stroke-opacity="0.7"/>
<line x1="227.50000000000003" y1="282.49" x2="228.70000000000002" y2="282.49" stroke="#000" stroke-width="0.7" stroke-opacity="0.7"/>
<text x="234.6" y="284.93" font-family="'DejaVu Sans', 'Liberation Sans', sans-serif" font-size="6.6" fill="#1a1a1a">30</text>
<line x1="220.3" y1="299.02" x2="221.5" y2="299.02" stroke="#000" stroke-width="0.7" stroke-opacity="0.7"/>
<line x1="227.50000000000003" y1="299.02" x2="228.70000000000002" y2="299.02" stroke="#000" stroke-width="0.7" stroke-opacity="0.7"/>
<text x="234.6" y="301.46" font-family="'DejaVu Sans', 'Liberation Sans', sans-serif" font-size="6.6" fill="#1a1a1a">25</text>
<line x1="220.3" y1="315.55" x2="221.5" y2="315.55" stroke="#000" stroke-width="0.7" stroke-opacity="0.7"/>
<line x1="227.50000000000003" y1="315.55" x2="228.70000000000002" y2="315.55" stroke="#000" stroke-width="0.7" stroke-opacity="0.7"/>
<text x="234.6" y="317.99" font-family="'DejaVu Sans', 'Liberation Sans', sans-serif" font-size="6.6" fill="#1a1a1a">20</text>
<line x1="220.3" y1="332.08" x2="221.5" y2="332.08" stroke="#000" stroke-width="0.7" stroke-opacity="0.7"/>
<line x1="227.50000000000003" y1="332.08" x2="228.70000000000002" y2="332.08" stroke="#000" stroke-width="0.7" stroke-opacity="0.7"/>
<text x="234.6" y="334.52" font-family="'DejaVu Sans', 'Liberation Sans', sans-serif" font-size="6.6" fill="#1a1a1a">15</text>
<line x1="220.3" y1="348.61" x2="221.5" y2="348.61" stroke="#000" stroke-width="0.7" stroke-opacity="0.7"/>
<line x1="227.50000000000003" y1="348.61" x2="228.70000000000002" y2="348.61" stroke="#000" stroke-width="0.7" stroke-opacity="0.7"/>
<text x="234.6" y="351.05" font-family="'DejaVu Sans', 'Liberation Sans', sans-serif" font-size="6.6" fill="#1a1a1a">10</text>
<line x1="220.3" y1="365.14" x2="221.5" y2="365.14" stroke="#000" stroke-width="0.7" stroke-opacity="0.7"/>
<line x1="227.50000000000003" y1="365.14" x2="228.70000000000002" y2="365.14" stroke="#000" stroke-width="0.7" stroke-opacity="0.7"/>
<text x="234.6" y="367.59" font-family="'DejaVu Sans', 'Liberation Sans', sans-serif" font-size="6.6" fill="#1a1a1a">5</text>
<polygon points="212.4,382.0 218.4,382.0 215.4,386.6" fill="#000"/>
<text x="221.6" y="386.9" font-family="'DejaVu Sans', 'Liberation Sans', sans-serif" font-size="6.7" fill="#111">2.17</text>
<text x="526.3" y="205" font-family="'DejaVu Sans', 'Liberation Sans', sans-serif" font-size="6.6" fill="#222">nm</text>
<polygon points="511.6,214.2 514.5,209.6 517.4,214.2" fill="#000"/>
<text x="519.9" y="214.5" font-family="'DejaVu Sans', 'Liberation Sans', sans-serif" font-size="6.8" fill="#111">49.8</text>
<rect x="518.9" y="228.9" width="8.3" height="146.5" fill="url(#rainbow)" stroke="#202020" stroke-width="0.5" stroke-opacity="0.55"/>
<line x1="518.9" y1="244.21" x2="520.1" y2="244.21" stroke="#000" stroke-width="0.7" stroke-opacity="0.7"/>
<line x1="525.9999999999999" y1="244.21" x2="527.1999999999999" y2="244.21" stroke="#000" stroke-width="0.7" stroke-opacity="0.7"/>
<text x="531.0" y="246.65" font-family="'DejaVu Sans', 'Liberation Sans', sans-serif" font-size="6.6" fill="#1a1a1a">45</text>
<line x1="518.9" y1="260.15" x2="520.1" y2="260.15" stroke="#000" stroke-width="0.7" stroke-opacity="0.7"/>
<line x1="525.9999999999999" y1="260.15" x2="527.1999999999999" y2="260.15" stroke="#000" stroke-width="0.7" stroke-opacity="0.7"/>
<text x="531.0" y="262.59" font-family="'DejaVu Sans', 'Liberation Sans', sans-serif" font-size="6.6" fill="#1a1a1a">40</text>
<line x1="518.9" y1="276.10" x2="520.1" y2="276.10" stroke="#000" stroke-width="0.7" stroke-opacity="0.7"/>
<line x1="525.9999999999999" y1="276.10" x2="527.1999999999999" y2="276.10" stroke="#000" stroke-width="0.7" stroke-opacity="0.7"/>
<text x="531.0" y="278.54" font-family="'DejaVu Sans', 'Liberation Sans', sans-serif" font-size="6.6" fill="#1a1a1a">35</text>
<line x1="518.9" y1="292.04" x2="520.1" y2="292.04" stroke="#000" stroke-width="0.7" stroke-opacity="0.7"/>
<line x1="525.9999999999999" y1="292.04" x2="527.1999999999999" y2="292.04" stroke="#000" stroke-width="0.7" stroke-opacity="0.7"/>
<text x="531.0" y="294.48" font-family="'DejaVu Sans', 'Liberation Sans', sans-serif" font-size="6.6" fill="#1a1a1a">30</text>
<line x1="518.9" y1="307.99" x2="520.1" y2="307.99" stroke="#000" stroke-width="0.7" stroke-opacity="0.7"/>
<line x1="525.9999999999999" y1="307.99" x2="527.1999999999999" y2="307.99" stroke="#000" stroke-width="0.7" stroke-opacity="0.7"/>
<text x="531.0" y="310.43" font-family="'DejaVu Sans', 'Liberation Sans', sans-serif" font-size="6.6" fill="#1a1a1a">25</text>
<line x1="518.9" y1="323.93" x2="520.1" y2="323.93" stroke="#000" stroke-width="0.7" stroke-opacity="0.7"/>
<line x1="525.9999999999999" y1="323.93" x2="527.1999999999999" y2="323.93" stroke="#000" stroke-width="0.7" stroke-opacity="0.7"/>
<text x="531.0" y="326.37" font-family="'DejaVu Sans', 'Liberation Sans', sans-serif" font-size="6.6" fill="#1a1a1a">20</text>
<line x1="518.9" y1="339.88" x2="520.1" y2="339.88" stroke="#000" stroke-width="0.7" stroke-opacity="0.7"/>
<line x1="525.9999999999999" y1="339.88" x2="527.1999999999999" y2="339.88" stroke="#000" stroke-width="0.7" stroke-opacity="0.7"/>
<text x="531.0" y="342.32" font-family="'DejaVu Sans', 'Liberation Sans', sans-serif" font-size="6.6" fill="#1a1a1a">15</text>
<line x1="518.9" y1="355.82" x2="520.1" y2="355.82" stroke="#000" stroke-width="0.7" stroke-opacity="0.7"/>
<line x1="525.9999999999999" y1="355.82" x2="527.1999999999999" y2="355.82" stroke="#000" stroke-width="0.7" stroke-opacity="0.7"/>
<text x="531.0" y="358.26" font-family="'DejaVu Sans', 'Liberation Sans', sans-serif" font-size="6.6" fill="#1a1a1a">10</text>
<line x1="518.9" y1="371.76" x2="520.1" y2="371.76" stroke="#000" stroke-width="0.7" stroke-opacity="0.7"/>
<line x1="525.9999999999999" y1="371.76" x2="527.1999999999999" y2="371.76" stroke="#000" stroke-width="0.7" stroke-opacity="0.7"/>
<text x="531.0" y="374.21" font-family="'DejaVu Sans', 'Liberation Sans', sans-serif" font-size="6.6" fill="#1a1a1a">5</text>
<polygon points="511.6,383.2 517.4,383.2 514.5,387.8" fill="#000"/>
<text x="519.9" y="387.9" font-family="'DejaVu Sans', 'Liberation Sans', sans-serif" font-size="6.8" fill="#111">3.86</text>
</svg>
</body></html>
